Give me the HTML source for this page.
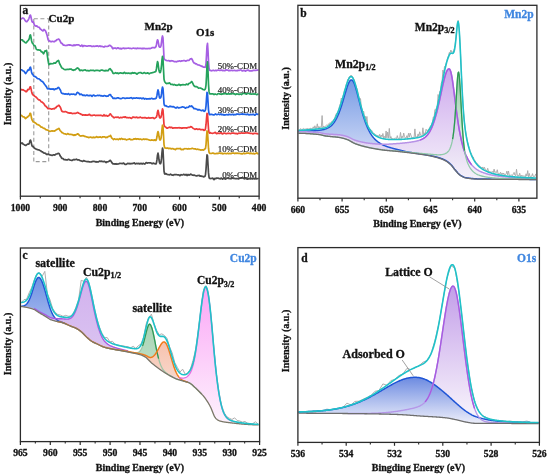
<!DOCTYPE html>
<html><head><meta charset="utf-8"><style>
html,body{margin:0;padding:0;background:#fff;}
svg{display:block;will-change:transform;}
text{font-family:"Liberation Serif", serif; paint-order:stroke; stroke:currentColor; stroke-width:0.3px;}
</style></head><body>
<svg width="550" height="476" viewBox="0 0 550 476">
<rect width="550" height="476" fill="#ffffff"/>
<path d="M33.8,161.6 L33.8,18.8 M48.7,18.8 L48.7,161.6 L33.8,161.6 M33.8,18.8 L48.7,18.8" fill="none" stroke="#9a9a9a" stroke-width="1.1" stroke-dasharray="4,2.6"/>
<path d="M21,18.88 L21.5,18.81 L22,18.37 L22.5,18.01 L23,18.15 L23.5,18.28 L24,18.61 L24.5,19.36 L25,20.19 L25.5,20.89 L26,21.5 L26.5,21.76 L27,21.62 L27.5,20.86 L28,20.17 L28.5,19.49 L29,18.24 L29.5,16.86 L30,15.28 L30.5,15.2 L31,17.05 L31.5,19.58 L32,21.53 L32.5,22.04 L33,21.7 L33.5,22.55 L34,23.93 L34.5,25.05 L35,25.61 L35.5,26.05 L36,26.25 L36.5,25.9 L37,26.12 L37.5,26.77 L38,27 L38.5,27.18 L39,27.25 L39.5,27.69 L40,28.64 L40.5,29.27 L41,29.38 L41.5,29.8 L42,30.29 L42.5,30.64 L43,30.91 L43.5,30.29 L44,29.46 L44.5,29.82 L45,30.43 L45.5,30.94 L46,32.14 L46.5,33.43 L47,35.08 L47.5,37.01 L48,39.29 L48.5,40.37 L49,40.87 L49.5,41.1 L50,41.16 L50.5,41.57 L51,41.78 L51.5,41.7 L52,41.37 L52.5,41.33 L53,41.53 L53.5,41.59 L54,41.72 L54.5,41.62 L55,40.98 L55.5,40.85 L56,40.72 L56.5,39.98 L57,39.57 L57.5,39.55 L58,39.41 L58.5,39.07 L59,39.29 L59.5,39.83 L60,40.8 L60.5,41.85 L61,42.85 L61.5,43.44 L62,43.32 L62.5,43.82 L63,44.72 L63.5,45.12 L64,45.13 L64.5,45.18 L65,45.38 L65.5,45.5 L66,45.53 L66.5,45.39 L67,45.2 L67.5,45.29 L68,45.19 L68.5,44.79 L69,44.93 L69.5,45.06 L70,44.94 L70.5,45.08 L71,45.25 L71.5,45.39 L72,45.43 L72.5,45.58 L73,45.72 L73.5,45.43 L74,44.93 L74.5,45.03 L75,45.54 L75.5,45.26 L76,44.85 L76.5,44.8 L77,44.81 L77.5,44.78 L78,44.73 L78.5,44.83 L79,45.09 L79.5,45.4 L80,45.68 L80.5,46.05 L81,46.11 L81.5,45.36 L82,45.15 L82.5,46.06 L83,46.51 L83.5,45.85 L84,45.6 L84.5,45.87 L85,45.8 L85.5,45.74 L86,45.96 L86.5,46.1 L87,46.08 L87.5,46.1 L88,46.01 L88.5,45.87 L89,45.86 L89.5,45.9 L90,45.94 L90.5,45.79 L91,45.99 L91.5,46.45 L92,46.4 L92.5,46.29 L93,46.32 L93.5,46.19 L94,46.21 L94.5,46.39 L95,46.26 L95.5,46.14 L96,46.29 L96.5,46.13 L97,45.87 L97.5,45.92 L98,46.33 L98.5,46.55 L99,46.28 L99.5,45.98 L100,45.85 L100.5,46.22 L101,46.58 L101.5,46.37 L102,46.24 L102.5,46.48 L103,46.7 L103.5,46.92 L104,47.04 L104.5,46.67 L105,46.31 L105.5,46.34 L106,46.45 L106.5,46.49 L107,46.51 L107.5,46.32 L108,46.21 L108.5,46.1 L109,45.66 L109.5,45.24 L110,45.37 L110.5,45.72 L111,46.16 L111.5,46.45 L112,47.22 L112.5,48.4 L113,48.74 L113.5,48.03 L114,47.98 L114.5,48.05 L115,47.97 L115.5,48.12 L116,48.39 L116.5,48.71 L117,48.4 L117.5,47.8 L118,47.82 L118.5,48.1 L119,48.46 L119.5,48.62 L120,48.4 L120.5,48.41 L121,48.97 L121.5,48.99 L122,48.43 L122.5,48.28 L123,48.29 L123.5,48.17 L124,48.34 L124.5,48.62 L125,48.39 L125.5,48.31 L126,48.45 L126.5,48.32 L127,48.24 L127.5,48.27 L128,48.22 L128.5,48.11 L129,48.2 L129.5,48.34 L130,48.39 L130.5,48.43 L131,48.53 L131.5,48.62 L132,48.51 L132.5,48.36 L133,48.27 L133.5,48.15 L134,48.22 L134.5,48.37 L135,48.23 L135.5,48.27 L136,48.6 L136.5,48.66 L137,48.26 L137.5,48.07 L138,48.46 L138.5,48.52 L139,48.36 L139.5,48.52 L140,48.38 L140.5,48.24 L141,48.46 L141.5,48.59 L142,48.43 L142.5,48.45 L143,48.78 L143.5,48.48 L144,48.22 L144.5,48.52 L145,48.63 L145.5,48.59 L146,48.55 L146.5,48.57 L147,48.56 L147.5,48.53 L148,48.62 L148.5,48.46 L149,48.33 L149.5,48.57 L150,48.69 L150.5,48.39 L151,48.23 L151.5,48.13 L152,47.71 L152.5,47.63 L153,47.71 L153.5,47.57 L154,47.63 L154.5,47.8 L155,47.68 L155.5,47.24 L156,46.52 L156.5,44.48 L157,41.44 L157.5,39.82 L158,40.57 L158.5,43.4 L159,46.23 L159.5,47.08 L160,47.03 L160.5,47.06 L161,45.78 L161.5,42.21 L162,37.99 L162.5,35.98 L163,37.93 L163.5,47.66 L164,58.15 L164.5,59.35 L165,59.68 L165.5,59.93 L166,60.22 L166.5,60.56 L167,60.71 L167.5,60.74 L168,60.73 L168.5,60.61 L169,60.6 L169.5,61.03 L170,61.29 L170.5,60.93 L171,60.71 L171.5,60.8 L172,60.8 L172.5,60.87 L173,61.05 L173.5,61.32 L174,61.58 L174.5,61.53 L175,61.57 L175.5,61.67 L176,61.71 L176.5,61.79 L177,61.52 L177.5,61.22 L178,61.29 L178.5,61.2 L179,61.03 L179.5,60.96 L180,61.05 L180.5,61.38 L181,61.27 L181.5,60.87 L182,60.74 L182.5,60.81 L183,60.77 L183.5,60.55 L184,60.52 L184.5,60.62 L185,60.76 L185.5,61.06 L186,61.1 L186.5,60.86 L187,60.55 L187.5,60.36 L188,60.49 L188.5,60.38 L189,60.3 L189.5,59.9 L190,59.13 L190.5,58.86 L191,58.79 L191.5,58.55 L192,59.23 L192.5,60.13 L193,61.3 L193.5,62.27 L194,62.93 L194.5,63 L195,63.33 L195.5,63.81 L196,63.76 L196.5,63.74 L197,64.31 L197.5,64.78 L198,64.89 L198.5,64.99 L199,65.09 L199.5,65.17 L200,65.41 L200.5,65.69 L201,66.09 L201.5,66.3 L202,66.2 L202.5,66.36 L203,66.81 L203.5,67.25 L204,67.23 L204.5,67.09 L205,67.37 L205.5,67.02 L206,63.62 L206.5,55.35 L207,46.07 L207.5,43.31 L208,50.71 L208.5,61.37 L209,67.99 L209.5,70.15 L210,70.37 L210.5,70.46 L211,70.69 L211.5,70.79 L212,70.71 L212.5,70.53 L213,70.27 L213.5,70.23 L214,70.5 L214.5,70.75 L215,70.59 L215.5,70.37 L216,70.57 L216.5,70.66 L217,70.44 L217.5,70.3 L218,70.11 L218.5,69.98 L219,70.26 L219.5,70.37 L220,70.31 L220.5,70.31 L221,70.08 L221.5,70.03 L222,70.46 L222.5,70.64 L223,70.32 L223.5,70.46 L224,70.75 L224.5,70.76 L225,70.62 L225.5,70.01 L226,69.8 L226.5,70.16 L227,70.16 L227.5,70.02 L228,70.2 L228.5,70.62 L229,70.66 L229.5,70.44 L230,70.55 L230.5,70.53 L231,70.39 L231.5,70.37 L232,70.43 L232.5,70.57 L233,70.51 L233.5,70.48 L234,70.53 L234.5,70.41 L235,70.45 L235.5,70.73 L236,70.76 L236.5,70.68 L237,70.79 L237.5,70.64 L238,70.29 L238.5,70.28 L239,70.47 L239.5,70.35 L240,69.99 L240.5,69.91 L241,70.04 L241.5,70.3 L242,70.76 L242.5,70.99 L243,70.83 L243.5,70.54 L244,70.34 L244.5,70.47 L245,70.89 L245.5,71.16 L246,70.86 L246.5,70.45 L247,70.31 L247.5,70.19 L248,70.12 L248.5,70.28 L249,70.66 L249.5,70.89 L250,70.81 L250.5,70.97 L251,71.02 L251.5,70.84 L252,70.9 L252.5,70.73 L253,70.42 L253.5,70.42 L254,70.41 L254.5,70.32 L255,70.34 L255.5,70.47 L256,70.42 L256.5,70.23 L257,70.1 L257.5,70.05 L258,70.35 L258.5,70.59" fill="none" stroke="#a65fe3" stroke-width="1.7" stroke-linejoin="round"/>
<path d="M21,39.74 L21.5,39.82 L22,39.73 L22.5,39.99 L23,40.95 L23.5,41.41 L24,41.45 L24.5,41.97 L25,42.49 L25.5,42.78 L26,42.92 L26.5,42.51 L27,41.74 L27.5,41.09 L28,40.62 L28.5,40.01 L29,39.36 L29.5,37.53 L30,35.29 L30.5,34.93 L31,37.35 L31.5,40.42 L32,42.4 L32.5,43.23 L33,43.65 L33.5,44.58 L34,45.46 L34.5,45.48 L35,45.82 L35.5,46.96 L36,48.28 L36.5,49.31 L37,49.7 L37.5,49.83 L38,49.82 L38.5,49.88 L39,50.06 L39.5,50.17 L40,50.05 L40.5,50.29 L41,51.25 L41.5,51.92 L42,51.95 L42.5,52.13 L43,52.93 L43.5,53.74 L44,52.96 L44.5,51.93 L45,50.84 L45.5,51.06 L46,50.99 L46.5,50.44 L47,52.79 L47.5,56.73 L48,60.11 L48.5,62.92 L49,64.64 L49.5,64.19 L50,63.71 L50.5,63.67 L51,63.83 L51.5,63.77 L52,63.65 L52.5,63.74 L53,63.7 L53.5,63.28 L54,62.81 L54.5,62.96 L55,63.23 L55.5,63.1 L56,62.66 L56.5,61.89 L57,61.36 L57.5,61.19 L58,60.74 L58.5,60.39 L59,61.78 L59.5,63.42 L60,64.52 L60.5,65.39 L61,66.28 L61.5,67.4 L62,68.02 L62.5,68.28 L63,68.47 L63.5,68.84 L64,69.18 L64.5,69.49 L65,69.62 L65.5,69.54 L66,69.61 L66.5,69.48 L67,69.31 L67.5,69.25 L68,69.32 L68.5,69.41 L69,69.3 L69.5,69.19 L70,69.15 L70.5,69.03 L71,69 L71.5,69.33 L72,69.73 L72.5,69.91 L73,70.15 L73.5,70.31 L74,69.91 L74.5,69.75 L75,69.88 L75.5,69.41 L76,69.02 L76.5,68.67 L77,68.18 L77.5,67.84 L78,68.17 L78.5,68.68 L79,69.2 L79.5,70.17 L80,70.71 L80.5,70.32 L81,70.13 L81.5,70.21 L82,70.38 L82.5,70.61 L83,70.57 L83.5,70.23 L84,70.09 L84.5,70.02 L85,69.92 L85.5,70.08 L86,70.41 L86.5,70.76 L87,70.76 L87.5,70.48 L88,70.44 L88.5,70.69 L89,70.94 L89.5,70.8 L90,70.5 L90.5,70.23 L91,70.21 L91.5,70.41 L92,70.48 L92.5,70.36 L93,70.25 L93.5,70.38 L94,70.6 L94.5,70.81 L95,70.81 L95.5,70.59 L96,70.38 L96.5,70.36 L97,70.31 L97.5,70.31 L98,70.45 L98.5,70.5 L99,70.67 L99.5,70.85 L100,70.8 L100.5,70.45 L101,70.11 L101.5,70.17 L102,70.15 L102.5,70.11 L103,70.47 L103.5,70.58 L104,70.6 L104.5,70.87 L105,70.9 L105.5,70.6 L106,70.4 L106.5,70.59 L107,70.61 L107.5,70.55 L108,70.81 L108.5,70.18 L109,69.32 L109.5,68.92 L110,68.7 L110.5,69.16 L111,69.97 L111.5,70.31 L112,71.09 L112.5,72.15 L113,73.24 L113.5,73.54 L114,73.44 L114.5,73.19 L115,72.96 L115.5,72.7 L116,73.03 L116.5,73.33 L117,73.07 L117.5,72.97 L118,73.4 L118.5,73.69 L119,73.26 L119.5,73.03 L120,73.09 L120.5,72.87 L121,72.92 L121.5,73.13 L122,73.15 L122.5,73.17 L123,73.36 L123.5,73.12 L124,72.46 L124.5,72.35 L125,72.94 L125.5,73.4 L126,73.3 L126.5,73.1 L127,73.14 L127.5,73.3 L128,73.32 L128.5,73.09 L129,73.04 L129.5,73.44 L130,73.43 L130.5,73.23 L131,73.6 L131.5,73.51 L132,72.83 L132.5,72.65 L133,73.1 L133.5,73.25 L134,72.8 L134.5,72.72 L135,73.08 L135.5,73.03 L136,73.26 L136.5,74.02 L137,74.11 L137.5,73.55 L138,73.19 L138.5,72.92 L139,72.62 L139.5,72.75 L140,72.76 L140.5,72.5 L141,72.64 L141.5,73.09 L142,73.27 L142.5,73.33 L143,73.31 L143.5,72.94 L144,72.58 L144.5,72.59 L145,73.04 L145.5,73.39 L146,73.42 L146.5,73.29 L147,73.04 L147.5,72.96 L148,72.93 L148.5,73.18 L149,73.79 L149.5,73.74 L150,73.22 L150.5,73.02 L151,72.93 L151.5,72.82 L152,72.81 L152.5,72.63 L153,72.48 L153.5,72.41 L154,72.27 L154.5,72 L155,71.79 L155.5,71.75 L156,70.99 L156.5,68.43 L157,64.32 L157.5,61.59 L158,62.89 L158.5,67.03 L159,70.55 L159.5,72.12 L160,72.66 L160.5,71.96 L161,69.65 L161.5,65.52 L162,59.71 L162.5,56.34 L163,59.17 L163.5,69.19 L164,79.07 L164.5,81.22 L165,82.21 L165.5,82.77 L166,83.31 L166.5,83.6 L167,83.44 L167.5,83.42 L168,83.47 L168.5,83.32 L169,83 L169.5,82.88 L170,83.37 L170.5,84.1 L171,84.48 L171.5,84.44 L172,84.23 L172.5,84.28 L173,84.79 L173.5,84.91 L174,84.59 L174.5,84.46 L175,84.7 L175.5,85.17 L176,85.26 L176.5,85.17 L177,85.34 L177.5,85.28 L178,84.93 L178.5,84.58 L179,84.38 L179.5,84.5 L180,85.18 L180.5,85.38 L181,84.82 L181.5,84.79 L182,84.88 L182.5,84.68 L183,84.61 L183.5,84.69 L184,84.84 L184.5,84.74 L185,84.73 L185.5,84.79 L186,84.38 L186.5,84.03 L187,84.3 L187.5,84.65 L188,84.6 L188.5,83.98 L189,83.42 L189.5,83.21 L190,82.99 L190.5,82.7 L191,82.38 L191.5,81.56 L192,81.81 L192.5,82.71 L193,83.98 L193.5,84.96 L194,85.8 L194.5,86.16 L195,86.55 L195.5,86.62 L196,86.46 L196.5,86.74 L197,86.95 L197.5,87.02 L198,87.59 L198.5,88.05 L199,88.03 L199.5,87.99 L200,88.01 L200.5,88.08 L201,88.33 L201.5,88.61 L202,88.85 L202.5,89.1 L203,89.55 L203.5,89.77 L204,89.76 L204.5,89.84 L205,89.43 L205.5,88.38 L206,85.08 L206.5,76.59 L207,65.64 L207.5,61.89 L208,71.19 L208.5,84.14 L209,91.39 L209.5,93.63 L210,93.93 L210.5,93.79 L211,93.77 L211.5,93.95 L212,94 L212.5,93.74 L213,93.74 L213.5,94.26 L214,94.57 L214.5,94.36 L215,94.08 L215.5,94.09 L216,94.3 L216.5,94.49 L217,94.54 L217.5,94.18 L218,93.73 L218.5,93.62 L219,93.53 L219.5,93.72 L220,94.26 L220.5,94.2 L221,94.01 L221.5,94.32 L222,94.16 L222.5,93.84 L223,93.97 L223.5,93.93 L224,93.56 L224.5,93.42 L225,93.8 L225.5,93.76 L226,93.46 L226.5,93.89 L227,94.17 L227.5,93.97 L228,93.93 L228.5,93.84 L229,93.71 L229.5,93.97 L230,94.11 L230.5,93.84 L231,93.9 L231.5,93.99 L232,93.79 L232.5,93.63 L233,93.49 L233.5,93.61 L234,93.94 L234.5,93.97 L235,94.2 L235.5,94.58 L236,94.26 L236.5,93.93 L237,93.91 L237.5,94.03 L238,94.22 L238.5,94.21 L239,94.42 L239.5,94.32 L240,94.01 L240.5,94.05 L241,94.31 L241.5,94.55 L242,94.13 L242.5,93.48 L243,93.24 L243.5,93.37 L244,93.57 L244.5,93.52 L245,93.48 L245.5,93.65 L246,94.04 L246.5,94.12 L247,93.69 L247.5,93.53 L248,93.5 L248.5,93.34 L249,93.38 L249.5,93.7 L250,94.04 L250.5,93.97 L251,93.92 L251.5,94.12 L252,94.12 L252.5,94.03 L253,93.96 L253.5,93.92 L254,94.11 L254.5,94.14 L255,93.8 L255.5,93.83 L256,94.24 L256.5,94.59 L257,94.69 L257.5,94.32 L258,94.08 L258.5,94" fill="none" stroke="#25a25c" stroke-width="1.7" stroke-linejoin="round"/>
<path d="M21,70.05 L21.5,69.82 L22,70.17 L22.5,70.61 L23,70.86 L23.5,71.06 L24,71.3 L24.5,72.01 L25,72.82 L25.5,73.53 L26,73.18 L26.5,72.33 L27,71.62 L27.5,70.75 L28,69.99 L28.5,70.28 L29,70.12 L29.5,68.96 L30,67.44 L30.5,67.14 L31,69.15 L31.5,72 L32,73.58 L32.5,74.16 L33,74.78 L33.5,75.67 L34,76.29 L34.5,76.27 L35,76.51 L35.5,76.94 L36,77.05 L36.5,77.46 L37,78.14 L37.5,78.5 L38,78.77 L38.5,78.77 L39,78.8 L39.5,79.43 L40,79.68 L40.5,79.87 L41,80.7 L41.5,81.28 L42,81.34 L42.5,81.55 L43,82.12 L43.5,82.79 L44,83.44 L44.5,84.18 L45,84.88 L45.5,85.67 L46,86.16 L46.5,86.8 L47,87.89 L47.5,88.77 L48,88.85 L48.5,88.79 L49,88.68 L49.5,88.57 L50,89.06 L50.5,89.19 L51,88.89 L51.5,88.98 L52,89.2 L52.5,89.2 L53,88.91 L53.5,89.09 L54,89.75 L54.5,89.7 L55,88.96 L55.5,88.84 L56,88.91 L56.5,88.82 L57,88.64 L57.5,88.09 L58,87.63 L58.5,87.45 L59,87.9 L59.5,88.77 L60,89.3 L60.5,90.31 L61,91.84 L61.5,92.99 L62,93.28 L62.5,93.63 L63,93.71 L63.5,93.7 L64,93.82 L64.5,94.07 L65,94.26 L65.5,93.93 L66,93.83 L66.5,94.07 L67,94.29 L67.5,94.22 L68,93.74 L68.5,93.61 L69,94.13 L69.5,94.6 L70,94.57 L70.5,94.31 L71,94.18 L71.5,94.2 L72,94.28 L72.5,94.27 L73,94.12 L73.5,94.12 L74,94.26 L74.5,94.35 L75,94.64 L75.5,94.77 L76,94.51 L76.5,93.65 L77,92.69 L77.5,92.36 L78,92.64 L78.5,92.98 L79,93.28 L79.5,94.21 L80,94.75 L80.5,94.24 L81,94.1 L81.5,94.35 L82,94.71 L82.5,95.2 L83,95.4 L83.5,95.19 L84,95.13 L84.5,95.35 L85,95.6 L85.5,95.68 L86,95.46 L86.5,95.09 L87,94.99 L87.5,95.29 L88,95.74 L88.5,95.75 L89,95.44 L89.5,95.45 L90,95.58 L90.5,95.37 L91,95.35 L91.5,95.93 L92,96.27 L92.5,95.8 L93,95.32 L93.5,95.11 L94,95.23 L94.5,95.72 L95,95.94 L95.5,95.81 L96,95.77 L96.5,95.76 L97,95.54 L97.5,95.26 L98,95.4 L98.5,95.57 L99,95.46 L99.5,95.39 L100,95.41 L100.5,95.64 L101,95.84 L101.5,95.71 L102,95.75 L102.5,96 L103,96.22 L103.5,95.99 L104,95.55 L104.5,95.65 L105,95.77 L105.5,95.85 L106,96.14 L106.5,96.29 L107,96.2 L107.5,96.16 L108,96.19 L108.5,95.55 L109,95.11 L109.5,94.83 L110,94.59 L110.5,94.6 L111,95.64 L111.5,96.35 L112,96.74 L112.5,97.28 L113,98.29 L113.5,98.33 L114,98.2 L114.5,98.22 L115,98.45 L115.5,98.53 L116,98.38 L116.5,98.31 L117,98.06 L117.5,97.81 L118,97.77 L118.5,97.85 L119,98.24 L119.5,98.52 L120,98.47 L120.5,98.61 L121,98.75 L121.5,98.53 L122,98.28 L122.5,97.99 L123,97.9 L123.5,98.01 L124,97.98 L124.5,98.18 L125,98.46 L125.5,98.52 L126,98.27 L126.5,98.08 L127,98.17 L127.5,98.14 L128,98.15 L128.5,98.23 L129,98.21 L129.5,98.09 L130,98.01 L130.5,97.85 L131,97.69 L131.5,97.81 L132,98.09 L132.5,98.56 L133,98.49 L133.5,97.97 L134,98.05 L134.5,98.14 L135,98.07 L135.5,98.23 L136,98.02 L136.5,97.75 L137,97.98 L137.5,98.23 L138,98.15 L138.5,98.08 L139,98.39 L139.5,98.42 L140,98.02 L140.5,98 L141,98.17 L141.5,98.43 L142,98.77 L142.5,98.54 L143,98.09 L143.5,98.11 L144,98.63 L144.5,99.02 L145,98.76 L145.5,98.59 L146,98.68 L146.5,98.9 L147,99.08 L147.5,98.85 L148,98.76 L148.5,98.85 L149,98.69 L149.5,98.68 L150,98.98 L150.5,98.86 L151,98.52 L151.5,98.29 L152,98.35 L152.5,98.72 L153,98.93 L153.5,98.95 L154,98.95 L154.5,98.76 L155,98.6 L155.5,98.64 L156,98.37 L156.5,97.34 L157,95.15 L157.5,91.89 L158,89.9 L158.5,91.46 L159,95.14 L159.5,97.66 L160,98.15 L160.5,97.81 L161,96.83 L161.5,93.91 L162,89.44 L162.5,87.02 L163,88.47 L163.5,95.59 L164,103.71 L164.5,105.47 L165,105.79 L165.5,105.81 L166,105.67 L166.5,106.07 L167,106.52 L167.5,106.56 L168,106.73 L168.5,106.8 L169,106.78 L169.5,106.47 L170,106.06 L170.5,106.36 L171,106.66 L171.5,106.47 L172,106.54 L172.5,106.89 L173,106.79 L173.5,106.6 L174,106.99 L174.5,107.41 L175,107.52 L175.5,107.85 L176,108.06 L176.5,107.69 L177,107.26 L177.5,107.21 L178,107.6 L178.5,107.9 L179,107.87 L179.5,107.72 L180,107.59 L180.5,107.53 L181,107.43 L181.5,107.23 L182,106.96 L182.5,106.89 L183,107.03 L183.5,107.01 L184,107.15 L184.5,107.46 L185,107.83 L185.5,108.22 L186,107.89 L186.5,107.41 L187,107.5 L187.5,107.42 L188,107.31 L188.5,107.21 L189,106.49 L189.5,105.98 L190,106.3 L190.5,106.5 L191,106.4 L191.5,105.88 L192,106.28 L192.5,107.03 L193,107.33 L193.5,107.94 L194,108.7 L194.5,108.64 L195,108.6 L195.5,108.85 L196,109 L196.5,109 L197,109.29 L197.5,109.82 L198,110.07 L198.5,109.69 L199,109.56 L199.5,109.91 L200,110.06 L200.5,110.21 L201,110.53 L201.5,110.69 L202,110.58 L202.5,110.33 L203,110.13 L203.5,110.69 L204,111.37 L204.5,111.23 L205,110.79 L205.5,109.7 L206,106.07 L206.5,98.71 L207,92.25 L207.5,93.39 L208,101.9 L208.5,109.85 L209,113.43 L209.5,114.62 L210,114.69 L210.5,114.36 L211,114.23 L211.5,114.38 L212,114.55 L212.5,114.57 L213,114.71 L213.5,114.85 L214,114.91 L214.5,114.76 L215,114.25 L215.5,113.95 L216,114.33 L216.5,114.65 L217,114.61 L217.5,114.5 L218,114.3 L218.5,114.13 L219,114.29 L219.5,114.64 L220,114.55 L220.5,114.13 L221,113.99 L221.5,114.38 L222,114.8 L222.5,114.61 L223,114.46 L223.5,114.85 L224,115.06 L224.5,114.92 L225,114.86 L225.5,114.86 L226,114.78 L226.5,114.56 L227,114.49 L227.5,114.71 L228,114.9 L228.5,114.68 L229,114.23 L229.5,114.44 L230,114.69 L230.5,114.49 L231,114.56 L231.5,114.72 L232,114.57 L232.5,114.32 L233,114.42 L233.5,114.8 L234,114.86 L234.5,114.59 L235,114.46 L235.5,114.59 L236,114.55 L236.5,114.1 L237,113.95 L237.5,114.13 L238,114.07 L238.5,114.13 L239,114.41 L239.5,114.4 L240,114.29 L240.5,114.24 L241,114.12 L241.5,114.12 L242,113.91 L242.5,113.96 L243,114.35 L243.5,114.28 L244,114.09 L244.5,114.25 L245,114.45 L245.5,114.44 L246,114.52 L246.5,114.57 L247,114.29 L247.5,114.13 L248,114.36 L248.5,114.75 L249,114.95 L249.5,114.84 L250,114.53 L250.5,114.46 L251,114.54 L251.5,114.51 L252,114.65 L252.5,114.6 L253,114.31 L253.5,114.28 L254,114.58 L254.5,115.14 L255,115.25 L255.5,114.7 L256,114.11 L256.5,113.86 L257,114.17 L257.5,114.29 L258,114.23 L258.5,114.46" fill="none" stroke="#1f62e6" stroke-width="1.7" stroke-linejoin="round"/>
<path d="M21,89.03 L21.5,89.48 L22,90.05 L22.5,89.92 L23,89.62 L23.5,89.9 L24,90.36 L24.5,90.71 L25,90.85 L25.5,91.3 L26,91.74 L26.5,91.67 L27,91.01 L27.5,89.99 L28,89.36 L28.5,89.7 L29,89.32 L29.5,88.4 L30,87.09 L30.5,86.78 L31,88.61 L31.5,91.19 L32,93.11 L32.5,94.3 L33,94.88 L33.5,95.07 L34,95.54 L34.5,96.14 L35,96.47 L35.5,96.56 L36,97.09 L36.5,97.63 L37,97.97 L37.5,98.66 L38,99.25 L38.5,99.74 L39,99.97 L39.5,99.89 L40,100.15 L40.5,100.88 L41,101.64 L41.5,102.03 L42,102.1 L42.5,102.35 L43,102.78 L43.5,103.29 L44,103.85 L44.5,104.8 L45,105.65 L45.5,105.92 L46,106.35 L46.5,107 L47,107.42 L47.5,108.05 L48,108.57 L48.5,108.57 L49,108.5 L49.5,108.71 L50,108.7 L50.5,108.73 L51,108.96 L51.5,109.07 L52,109.06 L52.5,108.88 L53,108.79 L53.5,108.7 L54,108.72 L54.5,108.88 L55,108.18 L55.5,107.7 L56,107.68 L56.5,106.89 L57,106.27 L57.5,106.25 L58,105.88 L58.5,105.35 L59,105.3 L59.5,106.05 L60,106.75 L60.5,107.65 L61,108.99 L61.5,110.46 L62,111.31 L62.5,111.7 L63,111.61 L63.5,111.8 L64,111.97 L64.5,111.78 L65,111.57 L65.5,111.56 L66,111.76 L66.5,111.96 L67,112.18 L67.5,112.47 L68,112.8 L68.5,112.84 L69,112.89 L69.5,113.13 L70,113.09 L70.5,112.94 L71,112.92 L71.5,113.12 L72,113.45 L72.5,113.54 L73,113.52 L73.5,113.47 L74,113.39 L74.5,113.32 L75,113.38 L75.5,113.46 L76,113.29 L76.5,112.99 L77,112.81 L77.5,112.47 L78,112.54 L78.5,113.12 L79,113.29 L79.5,113.45 L80,113.78 L80.5,113.9 L81,114.3 L81.5,114.35 L82,114.51 L82.5,115.14 L83,115.19 L83.5,114.8 L84,114.79 L84.5,115.1 L85,115.14 L85.5,114.85 L86,114.89 L86.5,115.14 L87,115.15 L87.5,115.2 L88,115.06 L88.5,114.71 L89,114.39 L89.5,114.34 L90,114.97 L90.5,115.37 L91,115.27 L91.5,115.53 L92,115.64 L92.5,115.37 L93,115.27 L93.5,115.19 L94,115.05 L94.5,115.12 L95,115.34 L95.5,115.57 L96,115.51 L96.5,115.36 L97,115.37 L97.5,115.25 L98,115.28 L98.5,115.46 L99,115.42 L99.5,115.41 L100,115.4 L100.5,115.25 L101,115.19 L101.5,115.44 L102,115.67 L102.5,115.81 L103,115.98 L103.5,115.42 L104,114.74 L104.5,115.25 L105,115.9 L105.5,115.7 L106,115.34 L106.5,115.46 L107,115.92 L107.5,116.09 L108,115.95 L108.5,115.61 L109,115.4 L109.5,114.75 L110,114.05 L110.5,113.86 L111,114.64 L111.5,115.33 L112,116.14 L112.5,116.42 L113,116.86 L113.5,117.55 L114,117.84 L114.5,117.46 L115,117.33 L115.5,117.26 L116,117.16 L116.5,117.3 L117,117.35 L117.5,117.18 L118,117.06 L118.5,117.27 L119,117.78 L119.5,117.96 L120,117.71 L120.5,117.37 L121,117.29 L121.5,117.7 L122,117.72 L122.5,117.38 L123,117.26 L123.5,117 L124,117.13 L124.5,117.33 L125,116.96 L125.5,116.92 L126,117.41 L126.5,117.63 L127,117.61 L127.5,117.63 L128,117.65 L128.5,117.81 L129,117.74 L129.5,117.61 L130,117.69 L130.5,117.85 L131,118.24 L131.5,118.32 L132,117.86 L132.5,117.35 L133,117.07 L133.5,117.14 L134,117.37 L134.5,117.45 L135,117.46 L135.5,117.54 L136,117.44 L136.5,117.08 L137,117.2 L137.5,117.75 L138,117.78 L138.5,117.63 L139,117.67 L139.5,117.46 L140,117.12 L140.5,117.12 L141,117.49 L141.5,117.75 L142,117.88 L142.5,117.85 L143,117.66 L143.5,117.74 L144,117.84 L144.5,117.64 L145,117.51 L145.5,117.66 L146,117.89 L146.5,118.14 L147,118.16 L147.5,117.96 L148,117.82 L148.5,117.67 L149,117.69 L149.5,117.94 L150,118.14 L150.5,117.97 L151,117.74 L151.5,117.87 L152,117.9 L152.5,117.75 L153,117.63 L153.5,117.97 L154,118.53 L154.5,118.48 L155,118.14 L155.5,117.71 L156,117.4 L156.5,116.83 L157,114.94 L157.5,111.93 L158,110.25 L158.5,112.11 L159,115.3 L159.5,117.2 L160,117.93 L160.5,117.81 L161,116.97 L161.5,114.92 L162,111.5 L162.5,108.94 L163,110.02 L163.5,117.14 L164,124.82 L164.5,126.25 L165,126.71 L165.5,126.95 L166,127.37 L166.5,127.83 L167,128.19 L167.5,128.16 L168,127.84 L168.5,127.49 L169,127.37 L169.5,127.21 L170,127.19 L170.5,127.62 L171,127.53 L171.5,127.25 L172,127.56 L172.5,128.06 L173,128.16 L173.5,127.94 L174,127.92 L174.5,127.82 L175,127.71 L175.5,127.91 L176,127.87 L176.5,127.83 L177,128 L177.5,127.87 L178,127.82 L178.5,127.74 L179,127.64 L179.5,127.86 L180,127.96 L180.5,127.77 L181,127.99 L181.5,128.27 L182,127.99 L182.5,127.95 L183,128.04 L183.5,127.93 L184,127.88 L184.5,127.89 L185,127.99 L185.5,127.86 L186,127.81 L186.5,128.07 L187,127.95 L187.5,127.62 L188,127.48 L188.5,127.39 L189,127.4 L189.5,127.46 L190,127.25 L190.5,126.71 L191,126.68 L191.5,126.89 L192,127.25 L192.5,127.73 L193,128.3 L193.5,128.55 L194,128.76 L194.5,128.95 L195,129.32 L195.5,129.22 L196,128.91 L196.5,128.87 L197,128.96 L197.5,129.32 L198,129.47 L198.5,129.25 L199,128.98 L199.5,128.99 L200,129.42 L200.5,129.57 L201,129.61 L201.5,129.74 L202,129.61 L202.5,129.51 L203,129.48 L203.5,129.85 L204,130.45 L204.5,130.3 L205,129.95 L205.5,128.68 L206,124.73 L206.5,118.59 L207,113.35 L207.5,114.06 L208,121.59 L208.5,128.78 L209,132.27 L209.5,133.17 L210,132.74 L210.5,132.72 L211,133.15 L211.5,133.26 L212,133.24 L212.5,133.39 L213,133.28 L213.5,133.02 L214,132.98 L214.5,132.74 L215,132.35 L215.5,132.59 L216,133.26 L216.5,133.66 L217,133.61 L217.5,133.15 L218,133.09 L218.5,133.34 L219,133.38 L219.5,133.44 L220,133.34 L220.5,132.89 L221,132.54 L221.5,133 L222,133.73 L222.5,133.9 L223,133.69 L223.5,133.33 L224,133.1 L224.5,133.13 L225,133.33 L225.5,133.45 L226,133.67 L226.5,133.73 L227,133.44 L227.5,133.24 L228,133.22 L228.5,133.38 L229,133.36 L229.5,133.28 L230,133.57 L230.5,133.76 L231,133.47 L231.5,133.06 L232,133.02 L232.5,133.15 L233,133.1 L233.5,133.1 L234,133.35 L234.5,133.41 L235,133.33 L235.5,133.64 L236,133.68 L236.5,133.36 L237,133.76 L237.5,133.97 L238,133.54 L238.5,133.25 L239,133.12 L239.5,133.21 L240,133.34 L240.5,133.26 L241,133.05 L241.5,132.96 L242,133.03 L242.5,133.03 L243,133.07 L243.5,133.07 L244,133.01 L244.5,133.22 L245,133.14 L245.5,132.84 L246,132.99 L246.5,133.02 L247,132.78 L247.5,132.74 L248,132.85 L248.5,133.07 L249,133.15 L249.5,133.18 L250,133.32 L250.5,133.33 L251,133.52 L251.5,133.52 L252,133.29 L252.5,133.71 L253,133.95 L253.5,133.57 L254,133.42 L254.5,133.4 L255,133.33 L255.5,133.26 L256,133.3 L256.5,133.59 L257,133.68 L257.5,133.67 L258,133.89 L258.5,133.84" fill="none" stroke="#ee3b3b" stroke-width="1.7" stroke-linejoin="round"/>
<path d="M21,115.35 L21.5,115.43 L22,115.9 L22.5,116.47 L23,116.8 L23.5,116.79 L24,116.78 L24.5,117.28 L25,118.06 L25.5,118.58 L26,118.28 L26.5,117.59 L27,117.33 L27.5,117.25 L28,116.42 L28.5,116.09 L29,115.85 L29.5,114.73 L30,113.3 L30.5,113.27 L31,115.31 L31.5,118.06 L32,119.78 L32.5,120.67 L33,121.54 L33.5,122.02 L34,122.12 L34.5,122.39 L35,122.8 L35.5,123.09 L36,123.39 L36.5,123.89 L37,124.32 L37.5,124.47 L38,124.65 L38.5,124.94 L39,125.13 L39.5,125.48 L40,125.99 L40.5,126.45 L41,127.1 L41.5,127.25 L42,127.1 L42.5,127.47 L43,127.86 L43.5,128.23 L44,128.38 L44.5,128.35 L45,128.78 L45.5,129.4 L46,129.69 L46.5,129.8 L47,130.04 L47.5,130.17 L48,130.2 L48.5,130.49 L49,130.92 L49.5,131.26 L50,131.43 L50.5,131.27 L51,131.14 L51.5,131.02 L52,130.76 L52.5,130.92 L53,131.16 L53.5,131.01 L54,130.95 L54.5,131.09 L55,130.83 L55.5,130.35 L56,129.99 L56.5,129.76 L57,129.38 L57.5,129.16 L58,129.03 L58.5,128.54 L59,128.45 L59.5,129.41 L60,130.48 L60.5,131.04 L61,131.38 L61.5,132.15 L62,132.62 L62.5,132.71 L63,133 L63.5,133.51 L64,133.65 L64.5,133.73 L65,133.91 L65.5,133.94 L66,134.21 L66.5,134.42 L67,134.09 L67.5,133.65 L68,133.66 L68.5,134.03 L69,134.32 L69.5,134.42 L70,134.36 L70.5,134.29 L71,134.3 L71.5,134.45 L72,134.63 L72.5,134.69 L73,135.02 L73.5,135.4 L74,135.06 L74.5,134.83 L75,135.28 L75.5,135.01 L76,134.56 L76.5,134.58 L77,134.33 L77.5,133.88 L78,133.79 L78.5,134.19 L79,134.89 L79.5,135.47 L80,135.7 L80.5,135.98 L81,136.13 L81.5,135.8 L82,135.79 L82.5,135.82 L83,135.65 L83.5,135.77 L84,136.16 L84.5,136.36 L85,136.33 L85.5,136.52 L86,136.78 L86.5,136.91 L87,137.03 L87.5,137.08 L88,137.29 L88.5,137.56 L89,137.44 L89.5,137.32 L90,137.28 L90.5,137.02 L91,137.1 L91.5,137.43 L92,137.65 L92.5,137.67 L93,137.21 L93.5,137.08 L94,137.64 L94.5,137.58 L95,137.24 L95.5,137.42 L96,137.15 L96.5,136.7 L97,136.8 L97.5,137.22 L98,137.44 L98.5,137.17 L99,137 L99.5,137.05 L100,136.96 L100.5,136.95 L101,137.28 L101.5,137.57 L102,137.37 L102.5,136.9 L103,136.81 L103.5,137 L104,136.96 L104.5,136.74 L105,136.95 L105.5,137.59 L106,137.55 L106.5,137.18 L107,137.47 L107.5,137.35 L108,136.7 L108.5,136.38 L109,136.44 L109.5,136.28 L110,135.86 L110.5,135.42 L111,136.41 L111.5,137.67 L112,138.37 L112.5,138.4 L113,139.14 L113.5,139.54 L114,139.12 L114.5,138.84 L115,139.11 L115.5,139.36 L116,139.48 L116.5,139.23 L117,139.01 L117.5,139.17 L118,139.48 L118.5,139.62 L119,139.19 L119.5,138.66 L120,138.88 L120.5,139.29 L121,138.91 L121.5,138.47 L122,138.73 L122.5,139.21 L123,139.31 L123.5,139.12 L124,139.28 L124.5,139.34 L125,139.05 L125.5,139.23 L126,139.78 L126.5,139.91 L127,139.62 L127.5,139.49 L128,139.46 L128.5,139.25 L129,139.01 L129.5,138.93 L130,139.05 L130.5,139.49 L131,139.83 L131.5,139.63 L132,139.63 L132.5,139.64 L133,139.44 L133.5,139.17 L134,138.79 L134.5,139.04 L135,139.11 L135.5,138.55 L136,138.73 L136.5,139.27 L137,139.12 L137.5,138.84 L138,138.89 L138.5,139.1 L139,139.37 L139.5,139.37 L140,139.1 L140.5,139.02 L141,139.32 L141.5,139.64 L142,139.63 L142.5,139.51 L143,139.23 L143.5,138.94 L144,139.14 L144.5,139.51 L145,139.44 L145.5,139.06 L146,139 L146.5,139.31 L147,139.44 L147.5,139.4 L148,139.51 L148.5,139.69 L149,139.88 L149.5,140.07 L150,140.22 L150.5,140.31 L151,140.15 L151.5,139.89 L152,139.95 L152.5,140.08 L153,140.11 L153.5,140.36 L154,140.44 L154.5,139.96 L155,139.9 L155.5,140.36 L156,140.31 L156.5,139.11 L157,136.52 L157.5,133.3 L158,131.5 L158.5,133 L159,136.53 L159.5,139.16 L160,140.08 L160.5,139.74 L161,138.26 L161.5,134.69 L162,129.01 L162.5,125.22 L163,126.65 L163.5,135.07 L164,144.55 L164.5,147.17 L165,147.91 L165.5,148.06 L166,148.13 L166.5,148.3 L167,148.16 L167.5,147.95 L168,148.1 L168.5,148.48 L169,148.62 L169.5,148.28 L170,148.25 L170.5,148.55 L171,148.66 L171.5,148.84 L172,148.77 L172.5,148.5 L173,148.61 L173.5,148.98 L174,149.13 L174.5,149.09 L175,149.42 L175.5,149.6 L176,149.09 L176.5,148.62 L177,148.52 L177.5,148.54 L178,148.67 L178.5,148.66 L179,148.73 L179.5,148.72 L180,148.32 L180.5,148.66 L181,149.53 L181.5,149.64 L182,149.37 L182.5,149.45 L183,149.61 L183.5,149.41 L184,148.97 L184.5,148.72 L185,148.76 L185.5,148.74 L186,148.66 L186.5,148.74 L187,148.87 L187.5,149.03 L188,149.01 L188.5,148.61 L189,148.74 L189.5,149.02 L190,148.82 L190.5,148.73 L191,148.74 L191.5,148.56 L192,148.44 L192.5,148.23 L193,148.49 L193.5,148.72 L194,148.81 L194.5,148.87 L195,148.8 L195.5,148.88 L196,149.3 L196.5,149.43 L197,149.25 L197.5,149.19 L198,149.32 L198.5,149.45 L199,149.55 L199.5,149.63 L200,149.72 L200.5,149.93 L201,150.09 L201.5,149.98 L202,149.75 L202.5,149.81 L203,150.04 L203.5,150.07 L204,149.76 L204.5,149.15 L205,148.97 L205.5,148.45 L206,144.87 L206.5,137.53 L207,130.96 L207.5,131.62 L208,139.97 L208.5,148.23 L209,152.12 L209.5,153.14 L210,153.36 L210.5,153.45 L211,153.5 L211.5,153.5 L212,153.24 L212.5,153.03 L213,152.99 L213.5,153.31 L214,153.62 L214.5,153.57 L215,153.65 L215.5,153.75 L216,153.69 L216.5,153.47 L217,153.19 L217.5,153.47 L218,153.66 L218.5,153.32 L219,153.12 L219.5,153.16 L220,153.16 L220.5,153.27 L221,153.52 L221.5,153.21 L222,153.09 L222.5,153.68 L223,153.83 L223.5,153.62 L224,153.45 L224.5,153.25 L225,153.29 L225.5,153.57 L226,153.74 L226.5,153.67 L227,153.41 L227.5,153.19 L228,153.33 L228.5,153.73 L229,153.76 L229.5,153.33 L230,153.29 L230.5,153.64 L231,153.72 L231.5,153.4 L232,153.01 L232.5,152.98 L233,153.15 L233.5,153.08 L234,153.06 L234.5,153.44 L235,153.59 L235.5,153.3 L236,153.06 L236.5,153.31 L237,153.43 L237.5,153.11 L238,153.27 L238.5,153.43 L239,153.32 L239.5,153.38 L240,153.47 L240.5,153.63 L241,153.61 L241.5,153.67 L242,153.93 L242.5,153.92 L243,153.58 L243.5,153.09 L244,153.09 L244.5,153.54 L245,153.62 L245.5,153.5 L246,153.36 L246.5,153.16 L247,153.08 L247.5,153.08 L248,153.18 L248.5,153.14 L249,153.09 L249.5,153.46 L250,153.63 L250.5,153.2 L251,153.16 L251.5,153.44 L252,153.55 L252.5,153.72 L253,153.59 L253.5,153.4 L254,153.62 L254.5,153.86 L255,153.75 L255.5,153.54 L256,153.23 L256.5,152.83 L257,153.07 L257.5,153.66 L258,153.75 L258.5,153.53" fill="none" stroke="#d29e12" stroke-width="1.7" stroke-linejoin="round"/>
<path d="M21,143.46 L21.5,143.37 L22,142.82 L22.5,143.18 L23,143.97 L23.5,144.31 L24,144.56 L24.5,144.95 L25,145.15 L25.5,145.37 L26,145.35 L26.5,144.91 L27,144.58 L27.5,144.28 L28,143.95 L28.5,144.23 L29,144.04 L29.5,142.54 L30,140.58 L30.5,140.1 L31,141.54 L31.5,143.87 L32,145.8 L32.5,146.55 L33,146.55 L33.5,146.92 L34,147.61 L34.5,148.05 L35,148.53 L35.5,148.8 L36,148.88 L36.5,149.15 L37,149.4 L37.5,149.6 L38,149.8 L38.5,149.81 L39,149.85 L39.5,150.16 L40,150.57 L40.5,150.75 L41,151.08 L41.5,151.67 L42,151.74 L42.5,151.84 L43,152.44 L43.5,152.88 L44,152.95 L44.5,153.12 L45,153.16 L45.5,153.25 L46,153.92 L46.5,154.37 L47,154.38 L47.5,154.37 L48,154.15 L48.5,154.14 L49,154.58 L49.5,154.88 L50,154.86 L50.5,155.04 L51,155.23 L51.5,155.19 L52,155.35 L52.5,155.33 L53,155.05 L53.5,154.91 L54,154.83 L54.5,155.09 L55,155.02 L55.5,154.46 L56,154.09 L56.5,153.96 L57,153.84 L57.5,153.65 L58,153.49 L58.5,153.38 L59,153.51 L59.5,154.34 L60,155.47 L60.5,156.38 L61,156.88 L61.5,157.86 L62,158.47 L62.5,158.45 L63,158.58 L63.5,159.13 L64,159.58 L64.5,159.61 L65,159.49 L65.5,159.65 L66,159.99 L66.5,159.91 L67,159.78 L67.5,159.9 L68,159.6 L68.5,159.26 L69,159.51 L69.5,159.83 L70,159.99 L70.5,160.17 L71,160.29 L71.5,160.23 L72,160.36 L72.5,160.34 L73,159.69 L73.5,159.5 L74,159.82 L74.5,159.66 L75,159.5 L75.5,159.57 L76,159.38 L76.5,159.16 L77,159.61 L77.5,159.91 L78,159.75 L78.5,159.75 L79,159.91 L79.5,160.2 L80,160.63 L80.5,160.75 L81,160.86 L81.5,161.01 L82,161.28 L82.5,161.49 L83,161.25 L83.5,160.61 L84,160.52 L84.5,160.96 L85,161.16 L85.5,161.3 L86,161.43 L86.5,161.52 L87,161.68 L87.5,161.71 L88,161.52 L88.5,161.53 L89,161.86 L89.5,161.95 L90,161.93 L90.5,161.98 L91,161.98 L91.5,161.82 L92,161.69 L92.5,161.57 L93,161.37 L93.5,161.35 L94,161.48 L94.5,161.43 L95,161.63 L95.5,161.94 L96,161.61 L96.5,161.71 L97,162.09 L97.5,161.84 L98,161.79 L98.5,161.83 L99,161.45 L99.5,161.02 L100,161.03 L100.5,161.46 L101,161.43 L101.5,161.13 L102,161.29 L102.5,161.57 L103,161.76 L103.5,161.66 L104,161.37 L104.5,161.4 L105,161.73 L105.5,162.32 L106,162.58 L106.5,162.09 L107,161.77 L107.5,161.8 L108,161.79 L108.5,161.58 L109,161.3 L109.5,160.81 L110,160.43 L110.5,160.4 L111,161.26 L111.5,161.99 L112,162.83 L112.5,163.4 L113,163.95 L113.5,163.93 L114,163.74 L114.5,164.04 L115,164.24 L115.5,163.82 L116,163.72 L116.5,164.07 L117,164.2 L117.5,163.99 L118,163.91 L118.5,163.97 L119,163.71 L119.5,163.39 L120,163.49 L120.5,163.47 L121,163.36 L121.5,163.51 L122,163.65 L122.5,163.6 L123,163.3 L123.5,163.1 L124,163.38 L124.5,164 L125,164.37 L125.5,164.42 L126,164.37 L126.5,164.23 L127,163.83 L127.5,163.44 L128,163.52 L128.5,163.59 L129,163.42 L129.5,163.54 L130,163.92 L130.5,163.74 L131,163.44 L131.5,163.66 L132,163.64 L132.5,163.41 L133,163.41 L133.5,163.19 L134,162.85 L134.5,163.1 L135,163.68 L135.5,163.88 L136,163.66 L136.5,163.36 L137,163.4 L137.5,163.72 L138,163.77 L138.5,163.44 L139,163.47 L139.5,163.86 L140,163.81 L140.5,163.48 L141,163.3 L141.5,163.51 L142,163.96 L142.5,163.86 L143,163.29 L143.5,163.23 L144,163.8 L144.5,164.05 L145,163.85 L145.5,163.33 L146,162.63 L146.5,162.63 L147,163.01 L147.5,163.06 L148,162.94 L148.5,162.75 L149,162.73 L149.5,162.85 L150,162.77 L150.5,162.88 L151,163.09 L151.5,163.33 L152,163.69 L152.5,163.62 L153,163.2 L153.5,163.18 L154,163.5 L154.5,163.67 L155,163.72 L155.5,163.97 L156,163.97 L156.5,162.65 L157,159.43 L157.5,155.18 L158,153.15 L158.5,155.7 L159,159.99 L159.5,162.57 L160,163.66 L160.5,163.75 L161,162.36 L161.5,158.43 L162,152.24 L162.5,148.04 L163,149.99 L163.5,160.27 L164,171 L164.5,173.55 L165,174.02 L165.5,173.64 L166,173.58 L166.5,173.97 L167,174.36 L167.5,174.48 L168,174.6 L168.5,174.7 L169,174.78 L169.5,174.88 L170,174.58 L170.5,174.18 L171,174.51 L171.5,174.9 L172,174.84 L172.5,175.17 L173,175.3 L173.5,174.91 L174,174.68 L174.5,174.66 L175,174.81 L175.5,174.66 L176,174.47 L176.5,174.65 L177,174.76 L177.5,174.82 L178,174.95 L178.5,174.9 L179,174.93 L179.5,175.46 L180,175.73 L180.5,175.23 L181,174.71 L181.5,174.74 L182,174.99 L182.5,175.01 L183,174.72 L183.5,174.36 L184,174.32 L184.5,174.69 L185,175.06 L185.5,174.74 L186,174.41 L186.5,174.95 L187,175.51 L187.5,175.12 L188,174.48 L188.5,174.73 L189,175.18 L189.5,175.05 L190,174.56 L190.5,174.18 L191,174.28 L191.5,174.54 L192,174.94 L192.5,175.12 L193,175.21 L193.5,175.29 L194,175.16 L194.5,175.14 L195,175.47 L195.5,175.63 L196,175.73 L196.5,175.94 L197,175.81 L197.5,175.54 L198,175.55 L198.5,175.47 L199,175.32 L199.5,175.59 L200,176.23 L200.5,176.19 L201,175.88 L201.5,176.27 L202,176.45 L202.5,176.26 L203,176.57 L203.5,176.92 L204,176.7 L204.5,176.59 L205,176.29 L205.5,174.43 L206,169.6 L206.5,161.44 L207,154.76 L207.5,155.93 L208,164.45 L208.5,172.9 L209,177.08 L209.5,178.31 L210,178.58 L210.5,178.53 L211,178.44 L211.5,178.48 L212,178.4 L212.5,178.14 L213,178.32 L213.5,179.16 L214,179.63 L214.5,178.99 L215,178.26 L215.5,178.48 L216,178.62 L216.5,178.21 L217,178.15 L217.5,178.25 L218,178.14 L218.5,178.33 L219,178.62 L219.5,178.51 L220,178.63 L220.5,178.82 L221,178.29 L221.5,178.02 L222,178.7 L222.5,179.14 L223,178.87 L223.5,178.47 L224,178.13 L224.5,178.32 L225,178.93 L225.5,179.1 L226,178.75 L226.5,178.29 L227,178.02 L227.5,177.97 L228,178.18 L228.5,178.43 L229,178.34 L229.5,178.38 L230,178.71 L230.5,178.77 L231,178.67 L231.5,178.64 L232,178.33 L232.5,178.01 L233,178.19 L233.5,178.34 L234,178.39 L234.5,178.45 L235,178.54 L235.5,178.72 L236,178.63 L236.5,178.56 L237,178.58 L237.5,178.58 L238,178.74 L238.5,178.85 L239,178.66 L239.5,178.29 L240,178.11 L240.5,178.23 L241,178.18 L241.5,177.92 L242,177.9 L242.5,178.01 L243,178.06 L243.5,178.27 L244,178.63 L244.5,178.82 L245,178.66 L245.5,178.26 L246,178.13 L246.5,178.52 L247,179.08 L247.5,179.04 L248,178.62 L248.5,178.84 L249,178.98 L249.5,178.48 L250,178.48 L250.5,178.89 L251,178.71 L251.5,178.53 L252,178.87 L252.5,179.02 L253,178.64 L253.5,178.25 L254,178.47 L254.5,178.87 L255,178.89 L255.5,178.73 L256,178.72 L256.5,178.81 L257,178.74 L257.5,178.74 L258,178.57 L258.5,178.3" fill="none" stroke="#4a4a4a" stroke-width="1.7" stroke-linejoin="round"/>
<rect x="20.4" y="5.4" width="238.7" height="190.8" fill="none" stroke="#2b2b2b" stroke-width="1.3"/>
<text x="20.4" y="211.3" text-anchor="middle" font-size="9.7" font-weight="bold" fill="#111" color="#111">1000</text>
<text x="60.18" y="211.3" text-anchor="middle" font-size="9.7" font-weight="bold" fill="#111" color="#111">900</text>
<text x="99.97" y="211.3" text-anchor="middle" font-size="9.7" font-weight="bold" fill="#111" color="#111">800</text>
<text x="139.75" y="211.3" text-anchor="middle" font-size="9.7" font-weight="bold" fill="#111" color="#111">700</text>
<text x="179.53" y="211.3" text-anchor="middle" font-size="9.7" font-weight="bold" fill="#111" color="#111">600</text>
<text x="219.32" y="211.3" text-anchor="middle" font-size="9.7" font-weight="bold" fill="#111" color="#111">500</text>
<text x="259.1" y="211.3" text-anchor="middle" font-size="9.7" font-weight="bold" fill="#111" color="#111">400</text>
<line x1="20.4" y1="196.2" x2="20.4" y2="199.6" stroke="#2b2b2b" stroke-width="1.2"/><line x1="60.18" y1="196.2" x2="60.18" y2="199.6" stroke="#2b2b2b" stroke-width="1.2"/><line x1="99.97" y1="196.2" x2="99.97" y2="199.6" stroke="#2b2b2b" stroke-width="1.2"/><line x1="139.75" y1="196.2" x2="139.75" y2="199.6" stroke="#2b2b2b" stroke-width="1.2"/><line x1="179.53" y1="196.2" x2="179.53" y2="199.6" stroke="#2b2b2b" stroke-width="1.2"/><line x1="219.32" y1="196.2" x2="219.32" y2="199.6" stroke="#2b2b2b" stroke-width="1.2"/><line x1="259.1" y1="196.2" x2="259.1" y2="199.6" stroke="#2b2b2b" stroke-width="1.2"/><line x1="40.29" y1="196.2" x2="40.29" y2="198.2" stroke="#2b2b2b" stroke-width="1.1"/><line x1="80.07" y1="196.2" x2="80.07" y2="198.2" stroke="#2b2b2b" stroke-width="1.1"/><line x1="119.86" y1="196.2" x2="119.86" y2="198.2" stroke="#2b2b2b" stroke-width="1.1"/><line x1="159.64" y1="196.2" x2="159.64" y2="198.2" stroke="#2b2b2b" stroke-width="1.1"/><line x1="199.43" y1="196.2" x2="199.43" y2="198.2" stroke="#2b2b2b" stroke-width="1.1"/><line x1="239.21" y1="196.2" x2="239.21" y2="198.2" stroke="#2b2b2b" stroke-width="1.1"/>
<text x="139.8" y="225.9" text-anchor="middle" font-size="10" font-weight="bold" fill="#111" color="#111" >Binding Energy (eV)</text>
<text transform="translate(11.3,94) rotate(-90)" text-anchor="middle" font-size="10" font-weight="bold" fill="#111" color="#111">Intensity (a.u.)</text>
<text x="22.4" y="13.6" text-anchor="start" font-size="11.5" font-weight="bold" fill="#111" color="#111" >a</text>
<text x="48.6" y="21.9" text-anchor="start" font-size="11" font-weight="bold" fill="#111" color="#111" >Cu2p</text>
<text x="144.5" y="30" text-anchor="start" font-size="11" font-weight="bold" fill="#111" color="#111" >Mn2p</text>
<text x="196" y="36" text-anchor="start" font-size="11" font-weight="bold" fill="#111" color="#111" >O1s</text>
<text x="257.2" y="69.4" text-anchor="end" font-size="8.9" font-weight="normal" fill="#222" color="#222" style="stroke-width:0.2px">50%-CDM</text>
<text x="257.2" y="93" text-anchor="end" font-size="8.9" font-weight="normal" fill="#222" color="#222" style="stroke-width:0.2px">40%-CDM</text>
<text x="257.2" y="112.8" text-anchor="end" font-size="8.9" font-weight="normal" fill="#222" color="#222" style="stroke-width:0.2px">30%-CDM</text>
<text x="257.2" y="131.5" text-anchor="end" font-size="8.9" font-weight="normal" fill="#222" color="#222" style="stroke-width:0.2px">20%-CDM</text>
<text x="257.2" y="152.3" text-anchor="end" font-size="8.9" font-weight="normal" fill="#222" color="#222" style="stroke-width:0.2px">10%-CDM</text>
<text x="257.2" y="177.7" text-anchor="end" font-size="8.9" font-weight="normal" fill="#222" color="#222" style="stroke-width:0.2px">0%-CDM</text>
<defs><linearGradient id="g1" x1="0" y1="0" x2="0" y2="1"><stop offset="0" stop-color="#86c49a" stop-opacity="1"/><stop offset="1" stop-color="#dcefe2" stop-opacity="0.2"/></linearGradient></defs>
<path d="M386.1,150.17 L386.6,150.21 L387.1,150.26 L387.6,150.3 L388.1,150.35 L388.6,150.39 L389.1,150.43 L389.6,150.46 L390.1,150.5 L390.6,150.54 L391.1,150.58 L391.6,150.61 L392.1,150.65 L392.6,150.69 L393.1,150.72 L393.6,150.76 L394.1,150.8 L394.6,150.84 L395.1,150.88 L395.6,150.93 L396.1,150.97 L396.6,151.02 L397.1,151.06 L397.6,151.11 L398.1,151.16 L398.6,151.2 L399.1,151.25 L399.6,151.3 L400.1,151.34 L400.6,151.39 L401.1,151.44 L401.6,151.49 L402.1,151.54 L402.6,151.59 L403.1,151.63 L403.6,151.68 L404.1,151.73 L404.6,151.78 L405.1,151.83 L405.6,151.88 L406.1,151.93 L406.6,151.98 L407.1,152.03 L407.6,152.08 L408.1,152.13 L408.6,152.18 L409.1,152.23 L409.6,152.28 L410.1,152.33 L410.6,152.38 L411.1,152.43 L411.6,152.48 L412.1,152.53 L412.6,152.58 L413.1,152.63 L413.6,152.68 L414.1,152.73 L414.6,152.79 L415.1,152.84 L415.6,152.89 L416.1,152.94 L416.6,152.98 L417.1,153.03 L417.6,153.08 L418.1,153.13 L418.6,153.18 L419.1,153.23 L419.6,153.28 L420.1,153.33 L420.6,153.37 L421.1,153.42 L421.6,153.46 L422.1,153.51 L422.6,153.55 L423.1,153.6 L423.6,153.64 L424.1,153.68 L424.6,153.73 L425.1,153.77 L425.6,153.81 L426.1,153.85 L426.6,153.9 L427.1,153.94 L427.6,153.98 L428.1,154.03 L428.6,154.07 L429.1,154.12 L429.6,154.16 L430.1,154.21 L430.6,154.25 L431.1,154.3 L431.6,154.35 L432.1,154.39 L432.6,154.44 L433.1,154.49 L433.6,154.53 L434.1,154.58 L434.6,154.62 L435.1,154.66 L435.6,154.7 L436.1,154.73 L436.6,154.76 L437.1,154.78 L437.6,154.8 L438.1,154.81 L438.6,154.82 L439.1,154.81 L439.6,154.8 L440.1,154.77 L440.6,154.73 L441.1,154.68 L441.6,154.62 L442.1,154.54 L442.6,154.45 L443.1,154.34 L443.6,154.21 L444.1,154.06 L444.6,153.89 L445.1,153.69 L445.6,153.46 L446.1,153.19 L446.6,152.88 L447.1,152.52 L447.6,152.09 L448.1,151.58 L448.6,150.98 L449.1,150.25 L449.6,149.38 L450.1,148.34 L450.6,147.08 L451.1,145.58 L451.6,143.81 L452.1,141.71 L452.6,139.2 L453.1,136.16 L453.6,132.46 L454.1,127.99 L454.6,122.6 L455.1,116.2 L455.6,108.84 L456.1,100.67 L456.6,92.09 L457.1,83.85 L457.6,77.02 L458.1,72.8 L458.6,72.11 L459.1,74.61 L459.6,79.75 L460.1,86.98 L460.6,95.62 L461.1,104.91 L461.6,114.14 L462.1,122.77 L462.6,130.46 L463.1,137.04 L463.6,142.53 L464.1,147.02 L464.6,150.67 L465.1,153.64 L465.6,156.09 L466.1,158.13 L466.6,159.87 L467.1,161.4 L467.6,162.75 L468.1,163.97 L468.6,165.07 L469.1,166.07 L469.6,166.97 L470.1,167.8 L470.6,168.56 L471.1,169.25 L471.6,169.88 L472.1,170.47 L472.6,171 L473.1,171.5 L473.6,171.95 L474.1,172.37 L474.6,172.76 L475.1,173.12 L475.6,173.45 L476.1,173.76 L476.6,174.05 L477.1,174.31 L477.6,174.56 L478.1,174.79 L478.6,175 L479.1,175.2 L479.6,175.38 L480.1,175.55 L480.6,175.71 L481.1,175.86 L481.6,176 L482.1,176.13 L482.6,176.25 L483.1,176.37 L483.6,176.48 L484.1,176.59 L484.6,176.69 L485.1,176.79 L485.6,176.88 L486.1,176.97 L486.6,177.05 L487.1,177.13 L487.6,177.2 L488.1,177.28 L488.6,177.34 L489.1,177.41 L489.6,177.47 L490.1,177.53 L490.6,177.59 L491.1,177.65 L491.6,177.7 L492.1,177.75 L492.6,177.8 L493.1,177.85 L493.6,177.89 L494.1,177.93 L494.6,177.98 L495.1,178.02 L495.6,178.05 L496.1,178.09 L496.6,178.13 L497.1,178.16 L497.6,178.2 L498.1,178.23 L498.6,178.26 L499.1,178.29 L499.6,178.32 L500.1,178.35 L500.6,178.38 L501.1,178.4 L501.6,178.43 L502.1,178.45 L502.6,178.48 L503.1,178.5 L503.6,178.52 L504.1,178.54 L504.6,178.57 L505.1,178.59 L505.6,178.61 L506.1,178.63 L506.6,178.65 L507.1,178.66 L507.6,178.68 L508.1,178.7 L508.6,178.72 L509.1,178.73 L509.6,178.75 L510.1,178.76 L510.6,178.78 L511.1,178.79 L511.6,178.81 L512.1,178.82 L512.6,178.83 L513.1,178.85 L513.6,178.86 L514.1,178.87 L514.6,178.89 L515.1,178.9 L515.6,178.91 L516.1,178.92 L516.6,178.93 L517.1,178.94 L517.6,178.95 L518.1,178.96 L518.6,178.97 L519.1,178.98 L519.6,178.99 L520.1,179 L520.6,179.01 L521.1,179.02 L521.6,179.03 L522.1,179.03 L522.6,179.04 L523.1,179.05 L523.6,179.06 L524.1,179.07 L524.6,179.07 L525.1,179.08 L525.6,179.09 L526.1,179.09 L526.6,179.1 L527.1,179.11 L527.6,179.11 L528.1,179.12 L528.6,179.12 L529.1,179.13 L529.6,179.14 L530.1,179.14 L530.6,179.15 L531.1,179.15 L531.6,179.16 L532.1,179.16 L532.6,179.17 L533.1,179.17 L533.6,179.18 L534.1,179.18 L534.6,179.18 L535.1,179.19 L535.6,179.19 L536.1,179.2 L536.1,179.5 L535.6,179.5 L535.1,179.5 L534.6,179.5 L534.1,179.5 L533.6,179.5 L533.1,179.5 L532.6,179.5 L532.1,179.5 L531.6,179.5 L531.1,179.5 L530.6,179.5 L530.1,179.5 L529.6,179.5 L529.1,179.5 L528.6,179.5 L528.1,179.49 L527.6,179.49 L527.1,179.49 L526.6,179.49 L526.1,179.49 L525.6,179.49 L525.1,179.49 L524.6,179.49 L524.1,179.49 L523.6,179.49 L523.1,179.49 L522.6,179.49 L522.1,179.48 L521.6,179.48 L521.1,179.48 L520.6,179.48 L520.1,179.48 L519.6,179.48 L519.1,179.48 L518.6,179.48 L518.1,179.47 L517.6,179.47 L517.1,179.47 L516.6,179.47 L516.1,179.47 L515.6,179.47 L515.1,179.46 L514.6,179.46 L514.1,179.46 L513.6,179.46 L513.1,179.46 L512.6,179.45 L512.1,179.45 L511.6,179.45 L511.1,179.45 L510.6,179.45 L510.1,179.44 L509.6,179.44 L509.1,179.44 L508.6,179.44 L508.1,179.43 L507.6,179.43 L507.1,179.43 L506.6,179.43 L506.1,179.42 L505.6,179.42 L505.1,179.42 L504.6,179.42 L504.1,179.41 L503.6,179.41 L503.1,179.41 L502.6,179.4 L502.1,179.4 L501.6,179.4 L501.1,179.39 L500.6,179.39 L500.1,179.39 L499.6,179.38 L499.1,179.38 L498.6,179.38 L498.1,179.37 L497.6,179.37 L497.1,179.37 L496.6,179.36 L496.1,179.36 L495.6,179.35 L495.1,179.35 L494.6,179.35 L494.1,179.34 L493.6,179.34 L493.1,179.33 L492.6,179.33 L492.1,179.33 L491.6,179.32 L491.1,179.32 L490.6,179.31 L490.1,179.31 L489.6,179.3 L489.1,179.3 L488.6,179.29 L488.1,179.29 L487.6,179.28 L487.1,179.28 L486.6,179.27 L486.1,179.27 L485.6,179.26 L485.1,179.26 L484.6,179.25 L484.1,179.25 L483.6,179.24 L483.1,179.24 L482.6,179.23 L482.1,179.22 L481.6,179.22 L481.1,179.21 L480.6,179.21 L480.1,179.2 L479.6,179.19 L479.1,179.18 L478.6,179.17 L478.1,179.16 L477.6,179.14 L477.1,179.12 L476.6,179.1 L476.1,179.07 L475.6,179.05 L475.1,179.01 L474.6,178.98 L474.1,178.95 L473.6,178.91 L473.1,178.87 L472.6,178.82 L472.1,178.78 L471.6,178.73 L471.1,178.68 L470.6,178.62 L470.1,178.57 L469.6,178.51 L469.1,178.44 L468.6,178.38 L468.1,178.31 L467.6,178.24 L467.1,178.17 L466.6,178.09 L466.1,178.02 L465.6,177.92 L465.1,177.8 L464.6,177.65 L464.1,177.46 L463.6,177.25 L463.1,177.02 L462.6,176.76 L462.1,176.49 L461.6,176.2 L461.1,175.9 L460.6,175.59 L460.1,175.27 L459.6,174.92 L459.1,174.51 L458.6,174.05 L458.1,173.55 L457.6,173.02 L457.1,172.45 L456.6,171.87 L456.1,171.28 L455.6,170.69 L455.1,170.11 L454.6,169.53 L454.1,168.89 L453.6,168.22 L453.1,167.54 L452.6,166.87 L452.1,166.23 L451.6,165.63 L451.1,165.1 L450.6,164.62 L450.1,164.17 L449.6,163.72 L449.1,163.3 L448.6,162.89 L448.1,162.5 L447.6,162.13 L447.1,161.77 L446.6,161.44 L446.1,161.12 L445.6,160.83 L445.1,160.55 L444.6,160.3 L444.1,160.06 L443.6,159.84 L443.1,159.62 L442.6,159.42 L442.1,159.23 L441.6,159.05 L441.1,158.87 L440.6,158.7 L440.1,158.53 L439.6,158.37 L439.1,158.21 L438.6,158.05 L438.1,157.89 L437.6,157.74 L437.1,157.59 L436.6,157.44 L436.1,157.3 L435.6,157.16 L435.1,157.02 L434.6,156.88 L434.1,156.75 L433.6,156.62 L433.1,156.5 L432.6,156.37 L432.1,156.26 L431.6,156.14 L431.1,156.03 L430.6,155.92 L430.1,155.82 L429.6,155.72 L429.1,155.62 L428.6,155.53 L428.1,155.44 L427.6,155.35 L427.1,155.26 L426.6,155.18 L426.1,155.1 L425.6,155.02 L425.1,154.94 L424.6,154.86 L424.1,154.79 L423.6,154.71 L423.1,154.64 L422.6,154.57 L422.1,154.5 L421.6,154.43 L421.1,154.35 L420.6,154.28 L420.1,154.21 L419.6,154.14 L419.1,154.07 L418.6,154.01 L418.1,153.94 L417.6,153.87 L417.1,153.8 L416.6,153.73 L416.1,153.67 L415.6,153.6 L415.1,153.53 L414.6,153.47 L414.1,153.4 L413.6,153.34 L413.1,153.27 L412.6,153.21 L412.1,153.14 L411.6,153.08 L411.1,153.02 L410.6,152.95 L410.1,152.89 L409.6,152.83 L409.1,152.77 L408.6,152.71 L408.1,152.65 L407.6,152.59 L407.1,152.53 L406.6,152.47 L406.1,152.41 L405.6,152.35 L405.1,152.29 L404.6,152.23 L404.1,152.18 L403.6,152.12 L403.1,152.06 L402.6,152.01 L402.1,151.95 L401.6,151.9 L401.1,151.84 L400.6,151.79 L400.1,151.73 L399.6,151.68 L399.1,151.62 L398.6,151.57 L398.1,151.52 L397.6,151.47 L397.1,151.41 L396.6,151.36 L396.1,151.31 L395.6,151.26 L395.1,151.21 L394.6,151.16 L394.1,151.12 L393.6,151.07 L393.1,151.03 L392.6,150.99 L392.1,150.95 L391.6,150.91 L391.1,150.87 L390.6,150.82 L390.1,150.78 L389.6,150.74 L389.1,150.7 L388.6,150.66 L388.1,150.61 L387.6,150.57 L387.1,150.52 L386.6,150.47 L386.1,150.42 Z" fill="url(#g1)" stroke="none"/>
<defs><linearGradient id="g2" x1="0" y1="0" x2="0" y2="1"><stop offset="0" stop-color="#779be5" stop-opacity="1"/><stop offset="1" stop-color="#eceefb" stop-opacity="1"/></linearGradient></defs>
<path d="M298.6,131.02 L299.1,131.01 L299.6,131.01 L300.1,131.01 L300.6,131.01 L301.1,131 L301.6,131 L302.1,131 L302.6,130.99 L303.1,130.99 L303.6,130.99 L304.1,130.98 L304.6,130.98 L305.1,130.97 L305.6,130.96 L306.1,130.96 L306.6,130.95 L307.1,130.94 L307.6,130.93 L308.1,130.92 L308.6,130.91 L309.1,130.9 L309.6,130.89 L310.1,130.88 L310.6,130.86 L311.1,130.85 L311.6,130.83 L312.1,130.81 L312.6,130.79 L313.1,130.77 L313.6,130.74 L314.1,130.72 L314.6,130.69 L315.1,130.66 L315.6,130.63 L316.1,130.59 L316.6,130.55 L317.1,130.51 L317.6,130.47 L318.1,130.42 L318.6,130.37 L319.1,130.31 L319.6,130.25 L320.1,130.18 L320.6,130.11 L321.1,130.03 L321.6,129.95 L322.1,129.86 L322.6,129.76 L323.1,129.66 L323.6,129.54 L324.1,129.42 L324.6,129.28 L325.1,129.13 L325.6,128.97 L326.1,128.79 L326.6,128.6 L327.1,128.39 L327.6,128.16 L328.1,127.9 L328.6,127.63 L329.1,127.33 L329.6,127 L330.1,126.65 L330.6,126.26 L331.1,125.84 L331.6,125.38 L332.1,124.89 L332.6,124.35 L333.1,123.77 L333.6,123.14 L334.1,122.46 L334.6,121.74 L335.1,120.96 L335.6,120.12 L336.1,119.23 L336.6,118.28 L337.1,117.26 L337.6,116.19 L338.1,115.05 L338.6,113.86 L339.1,112.6 L339.6,111.27 L340.1,109.89 L340.6,108.45 L341.1,106.95 L341.6,105.41 L342.1,103.81 L342.6,102.18 L343.1,100.51 L343.6,98.81 L344.1,97.09 L344.6,95.37 L345.1,93.65 L345.6,91.95 L346.1,90.28 L346.6,88.67 L347.1,87.13 L347.6,85.69 L348.1,84.36 L348.6,83.16 L349.1,82.12 L349.6,81.26 L350.1,80.59 L350.6,80.14 L351.1,79.9 L351.6,79.9 L352.1,80.13 L352.6,80.59 L353.1,81.28 L353.6,82.18 L354.1,83.28 L354.6,84.56 L355.1,85.99 L355.6,87.56 L356.1,89.25 L356.6,91.03 L357.1,92.89 L357.6,94.8 L358.1,96.74 L358.6,98.7 L359.1,100.67 L359.6,102.64 L360.1,104.58 L360.6,106.5 L361.1,108.38 L361.6,110.21 L362.1,112 L362.6,113.74 L363.1,115.42 L363.6,117.04 L364.1,118.61 L364.6,120.11 L365.1,121.54 L365.6,122.92 L366.1,124.24 L366.6,125.5 L367.1,126.71 L367.6,127.86 L368.1,128.95 L368.6,130 L369.1,130.98 L369.6,131.92 L370.1,132.81 L370.6,133.65 L371.1,134.45 L371.6,135.2 L372.1,135.91 L372.6,136.58 L373.1,137.2 L373.6,137.79 L374.1,138.35 L374.6,138.88 L375.1,139.38 L375.6,139.85 L376.1,140.31 L376.6,140.74 L377.1,141.16 L377.6,141.56 L378.1,141.94 L378.6,142.3 L379.1,142.65 L379.6,142.99 L380.1,143.31 L380.6,143.62 L381.1,143.92 L381.6,144.2 L382.1,144.48 L382.6,144.74 L383.1,144.99 L383.6,145.23 L384.1,145.46 L384.6,145.68 L385.1,145.89 L385.6,146.09 L386.1,146.28 L386.6,146.46 L387.1,146.64 L387.6,146.81 L388.1,146.98 L388.6,147.14 L389.1,147.29 L389.6,147.44 L390.1,147.59 L390.6,147.73 L391.1,147.87 L391.6,148.01 L392.1,148.14 L392.6,148.28 L393.1,148.41 L393.6,148.54 L394.1,148.67 L394.6,148.79 L395.1,148.92 L395.6,149.05 L396.1,149.18 L396.6,149.31 L397.1,149.44 L397.6,149.57 L398.1,149.7 L398.6,149.83 L399.1,149.96 L399.6,150.09 L400.1,150.22 L400.6,150.34 L401.1,150.47 L401.6,150.59 L402.1,150.72 L402.6,150.84 L403.1,150.95 L403.6,151.07 L404.1,151.18 L404.6,151.3 L405.1,151.41 L405.6,151.51 L406.1,151.62 L406.6,151.72 L407.1,151.81 L407.6,151.91 L408.1,152 L408.6,152.09 L409.1,152.17 L409.6,152.26 L410.1,152.34 L410.6,152.42 L411.1,152.5 L411.6,152.57 L412.1,152.65 L412.6,152.73 L413.1,152.8 L413.6,152.88 L414.1,152.95 L414.6,153.03 L415.1,153.1 L415.6,153.18 L416.1,153.25 L416.6,153.33 L417.1,153.41 L417.6,153.49 L418.1,153.57 L418.6,153.65 L419.1,153.73 L419.6,153.81 L420.1,153.89 L420.6,153.97 L421.1,154.05 L421.6,154.13 L422.1,154.21 L422.6,154.29 L423.1,154.37 L423.6,154.45 L424.1,154.53 L424.6,154.61 L425.1,154.7 L425.6,154.78 L426.1,154.87 L426.6,154.96 L427.1,155.04 L427.6,155.13 L428.1,155.22 L428.6,155.32 L429.1,155.41 L429.6,155.51 L430.1,155.61 L430.6,155.71 L431.1,155.81 L431.6,155.91 L432.1,156.01 L432.6,156.12 L433.1,156.23 L433.6,156.34 L434.1,156.45 L434.6,156.57 L435.1,156.68 L435.6,156.8 L436.1,156.93 L436.6,157.05 L437.1,157.18 L437.6,157.32 L438.1,157.46 L438.6,157.6 L439.1,157.74 L439.6,157.89 L440.1,158.05 L440.6,158.21 L441.1,158.39 L441.6,158.58 L442.1,158.78 L442.6,158.99 L443.1,159.2 L443.6,159.42 L444.1,159.65 L444.6,159.88 L445.1,160.12 L445.6,160.4 L446.1,160.7 L446.6,161.02 L447.1,161.36 L447.6,161.71 L448.1,162.09 L448.6,162.49 L449.1,162.9 L449.6,163.33 L450.1,163.78 L450.6,164.24 L451.1,164.71 L451.6,165.25 L452.1,165.85 L452.6,166.5 L453.1,167.17 L453.6,167.86 L454.1,168.53 L454.6,169.17 L455.1,169.76 L455.6,170.34 L456.1,170.94 L456.6,171.53 L457.1,172.11 L457.6,172.68 L458.1,173.22 L458.6,173.72 L459.1,174.18 L459.6,174.59 L460.1,174.94 L460.6,175.27 L461.1,175.58 L461.6,175.89 L462.1,176.18 L462.6,176.46 L463.1,176.71 L463.6,176.95 L464.1,177.16 L464.6,177.35 L465.1,177.51 L465.6,177.63 L466.1,177.73 L466.6,177.81 L467.1,177.88 L467.6,177.96 L468.1,178.03 L468.6,178.1 L469.1,178.17 L469.6,178.23 L470.1,178.29 L470.6,178.35 L471.1,178.41 L471.6,178.46 L472.1,178.51 L472.6,178.56 L473.1,178.61 L473.6,178.65 L474.1,178.69 L474.6,178.73 L474.6,178.98 L474.1,178.95 L473.6,178.91 L473.1,178.87 L472.6,178.82 L472.1,178.78 L471.6,178.73 L471.1,178.68 L470.6,178.62 L470.1,178.57 L469.6,178.51 L469.1,178.44 L468.6,178.38 L468.1,178.31 L467.6,178.24 L467.1,178.17 L466.6,178.09 L466.1,178.02 L465.6,177.92 L465.1,177.8 L464.6,177.65 L464.1,177.46 L463.6,177.25 L463.1,177.02 L462.6,176.76 L462.1,176.49 L461.6,176.2 L461.1,175.9 L460.6,175.59 L460.1,175.27 L459.6,174.92 L459.1,174.51 L458.6,174.05 L458.1,173.55 L457.6,173.02 L457.1,172.45 L456.6,171.87 L456.1,171.28 L455.6,170.69 L455.1,170.11 L454.6,169.53 L454.1,168.89 L453.6,168.22 L453.1,167.54 L452.6,166.87 L452.1,166.23 L451.6,165.63 L451.1,165.1 L450.6,164.62 L450.1,164.17 L449.6,163.72 L449.1,163.3 L448.6,162.89 L448.1,162.5 L447.6,162.13 L447.1,161.77 L446.6,161.44 L446.1,161.12 L445.6,160.83 L445.1,160.55 L444.6,160.3 L444.1,160.06 L443.6,159.84 L443.1,159.62 L442.6,159.42 L442.1,159.23 L441.6,159.05 L441.1,158.87 L440.6,158.7 L440.1,158.53 L439.6,158.37 L439.1,158.21 L438.6,158.05 L438.1,157.89 L437.6,157.74 L437.1,157.59 L436.6,157.44 L436.1,157.3 L435.6,157.16 L435.1,157.02 L434.6,156.88 L434.1,156.75 L433.6,156.62 L433.1,156.5 L432.6,156.37 L432.1,156.26 L431.6,156.14 L431.1,156.03 L430.6,155.92 L430.1,155.82 L429.6,155.72 L429.1,155.62 L428.6,155.53 L428.1,155.44 L427.6,155.35 L427.1,155.26 L426.6,155.18 L426.1,155.1 L425.6,155.02 L425.1,154.94 L424.6,154.86 L424.1,154.79 L423.6,154.71 L423.1,154.64 L422.6,154.57 L422.1,154.5 L421.6,154.43 L421.1,154.35 L420.6,154.28 L420.1,154.21 L419.6,154.14 L419.1,154.07 L418.6,154.01 L418.1,153.94 L417.6,153.87 L417.1,153.8 L416.6,153.73 L416.1,153.67 L415.6,153.6 L415.1,153.53 L414.6,153.47 L414.1,153.4 L413.6,153.34 L413.1,153.27 L412.6,153.21 L412.1,153.14 L411.6,153.08 L411.1,153.02 L410.6,152.95 L410.1,152.89 L409.6,152.83 L409.1,152.77 L408.6,152.71 L408.1,152.65 L407.6,152.59 L407.1,152.53 L406.6,152.47 L406.1,152.41 L405.6,152.35 L405.1,152.29 L404.6,152.23 L404.1,152.18 L403.6,152.12 L403.1,152.06 L402.6,152.01 L402.1,151.95 L401.6,151.9 L401.1,151.84 L400.6,151.79 L400.1,151.73 L399.6,151.68 L399.1,151.62 L398.6,151.57 L398.1,151.52 L397.6,151.47 L397.1,151.41 L396.6,151.36 L396.1,151.31 L395.6,151.26 L395.1,151.21 L394.6,151.16 L394.1,151.12 L393.6,151.07 L393.1,151.03 L392.6,150.99 L392.1,150.95 L391.6,150.91 L391.1,150.87 L390.6,150.82 L390.1,150.78 L389.6,150.74 L389.1,150.7 L388.6,150.66 L388.1,150.61 L387.6,150.57 L387.1,150.52 L386.6,150.47 L386.1,150.42 L385.6,150.37 L385.1,150.31 L384.6,150.25 L384.1,150.19 L383.6,150.13 L383.1,150.07 L382.6,150 L382.1,149.93 L381.6,149.86 L381.1,149.79 L380.6,149.72 L380.1,149.64 L379.6,149.56 L379.1,149.49 L378.6,149.41 L378.1,149.33 L377.6,149.24 L377.1,149.16 L376.6,149.08 L376.1,148.99 L375.6,148.9 L375.1,148.82 L374.6,148.73 L374.1,148.64 L373.6,148.55 L373.1,148.46 L372.6,148.36 L372.1,148.27 L371.6,148.17 L371.1,148.07 L370.6,147.98 L370.1,147.87 L369.6,147.77 L369.1,147.66 L368.6,147.56 L368.1,147.45 L367.6,147.34 L367.1,147.22 L366.6,147.11 L366.1,146.99 L365.6,146.87 L365.1,146.75 L364.6,146.63 L364.1,146.5 L363.6,146.37 L363.1,146.24 L362.6,146.1 L362.1,145.97 L361.6,145.82 L361.1,145.68 L360.6,145.53 L360.1,145.38 L359.6,145.22 L359.1,145.07 L358.6,144.9 L358.1,144.73 L357.6,144.56 L357.1,144.39 L356.6,144.21 L356.1,144.02 L355.6,143.83 L355.1,143.64 L354.6,143.43 L354.1,143.21 L353.6,142.96 L353.1,142.7 L352.6,142.43 L352.1,142.15 L351.6,141.86 L351.1,141.57 L350.6,141.28 L350.1,140.99 L349.6,140.71 L349.1,140.44 L348.6,140.19 L348.1,139.95 L347.6,139.73 L347.1,139.54 L346.6,139.36 L346.1,139.19 L345.6,139.02 L345.1,138.86 L344.6,138.71 L344.1,138.56 L343.6,138.42 L343.1,138.28 L342.6,138.15 L342.1,138.03 L341.6,137.91 L341.1,137.81 L340.6,137.71 L340.1,137.62 L339.6,137.53 L339.1,137.46 L338.6,137.38 L338.1,137.31 L337.6,137.25 L337.1,137.19 L336.6,137.13 L336.1,137.08 L335.6,137.02 L335.1,136.97 L334.6,136.93 L334.1,136.88 L333.6,136.83 L333.1,136.79 L332.6,136.74 L332.1,136.7 L331.6,136.66 L331.1,136.61 L330.6,136.57 L330.1,136.52 L329.6,136.47 L329.1,136.42 L328.6,136.37 L328.1,136.32 L327.6,136.26 L327.1,136.2 L326.6,136.13 L326.1,136.07 L325.6,135.99 L325.1,135.92 L324.6,135.83 L324.1,135.72 L323.6,135.6 L323.1,135.47 L322.6,135.33 L322.1,135.19 L321.6,135.05 L321.1,134.92 L320.6,134.8 L320.1,134.7 L319.6,134.62 L319.1,134.57 L318.6,134.51 L318.1,134.46 L317.6,134.41 L317.1,134.36 L316.6,134.31 L316.1,134.26 L315.6,134.21 L315.1,134.17 L314.6,134.12 L314.1,134.08 L313.6,134.03 L313.1,133.99 L312.6,133.95 L312.1,133.91 L311.6,133.87 L311.1,133.83 L310.6,133.79 L310.1,133.76 L309.6,133.72 L309.1,133.69 L308.6,133.66 L308.1,133.62 L307.6,133.59 L307.1,133.57 L306.6,133.54 L306.1,133.51 L305.6,133.49 L305.1,133.47 L304.6,133.44 L304.1,133.42 L303.6,133.41 L303.1,133.39 L302.6,133.37 L302.1,133.36 L301.6,133.35 L301.1,133.33 L300.6,133.32 L300.1,133.32 L299.6,133.31 L299.1,133.3 L298.6,133.3 Z" fill="url(#g2)" stroke="none"/>
<defs><linearGradient id="g3" x1="0" y1="0" x2="0" y2="1"><stop offset="0" stop-color="#c9a2ec" stop-opacity="0.95"/><stop offset="1" stop-color="#f4eff9" stop-opacity="0.85"/></linearGradient></defs>
<path d="M298.6,131.77 L299.1,131.76 L299.6,131.76 L300.1,131.76 L300.6,131.75 L301.1,131.75 L301.6,131.76 L302.1,131.76 L302.6,131.76 L303.1,131.77 L303.6,131.78 L304.1,131.79 L304.6,131.8 L305.1,131.81 L305.6,131.82 L306.1,131.83 L306.6,131.85 L307.1,131.86 L307.6,131.88 L308.1,131.9 L308.6,131.92 L309.1,131.94 L309.6,131.96 L310.1,131.99 L310.6,132.01 L311.1,132.04 L311.6,132.07 L312.1,132.09 L312.6,132.12 L313.1,132.15 L313.6,132.18 L314.1,132.21 L314.6,132.25 L315.1,132.28 L315.6,132.31 L316.1,132.35 L316.6,132.38 L317.1,132.42 L317.6,132.46 L318.1,132.5 L318.6,132.54 L319.1,132.58 L319.6,132.62 L320.1,132.68 L320.6,132.77 L321.1,132.87 L321.6,132.99 L322.1,133.11 L322.6,133.24 L323.1,133.36 L323.6,133.48 L324.1,133.59 L324.6,133.68 L325.1,133.75 L325.6,133.82 L326.1,133.87 L326.6,133.92 L327.1,133.97 L327.6,134.02 L328.1,134.06 L328.6,134.1 L329.1,134.13 L329.6,134.17 L330.1,134.2 L330.6,134.23 L331.1,134.26 L331.6,134.28 L332.1,134.31 L332.6,134.34 L333.1,134.36 L333.6,134.39 L334.1,134.42 L334.6,134.44 L335.1,134.47 L335.6,134.51 L336.1,134.54 L336.6,134.57 L337.1,134.61 L337.6,134.65 L338.1,134.7 L338.6,134.75 L339.1,134.8 L339.6,134.86 L340.1,134.92 L340.6,134.99 L341.1,135.07 L341.6,135.15 L342.1,135.25 L342.6,135.35 L343.1,135.45 L343.6,135.57 L344.1,135.69 L344.6,135.82 L345.1,135.95 L345.6,136.08 L346.1,136.23 L346.6,136.37 L347.1,136.52 L347.6,136.69 L348.1,136.89 L348.6,137.1 L349.1,137.33 L349.6,137.57 L350.1,137.83 L350.6,138.09 L351.1,138.35 L351.6,138.61 L352.1,138.88 L352.6,139.13 L353.1,139.38 L353.6,139.61 L354.1,139.83 L354.6,140.02 L355.1,140.2 L355.6,140.37 L356.1,140.52 L356.6,140.68 L357.1,140.83 L357.6,140.97 L358.1,141.11 L358.6,141.25 L359.1,141.38 L359.6,141.51 L360.1,141.63 L360.6,141.75 L361.1,141.86 L361.6,141.97 L362.1,142.08 L362.6,142.18 L363.1,142.28 L363.6,142.38 L364.1,142.47 L364.6,142.56 L365.1,142.65 L365.6,142.73 L366.1,142.82 L366.6,142.9 L367.1,142.97 L367.6,143.05 L368.1,143.12 L368.6,143.18 L369.1,143.25 L369.6,143.31 L370.1,143.38 L370.6,143.44 L371.1,143.49 L371.6,143.55 L372.1,143.6 L372.6,143.65 L373.1,143.7 L373.6,143.74 L374.1,143.79 L374.6,143.83 L375.1,143.87 L375.6,143.91 L376.1,143.94 L376.6,143.98 L377.1,144.01 L377.6,144.05 L378.1,144.08 L378.6,144.11 L379.1,144.13 L379.6,144.16 L380.1,144.18 L380.6,144.2 L381.1,144.22 L381.6,144.23 L382.1,144.24 L382.6,144.25 L383.1,144.26 L383.6,144.27 L384.1,144.27 L384.6,144.26 L385.1,144.26 L385.6,144.25 L386.1,144.24 L386.6,144.23 L387.1,144.21 L387.6,144.19 L388.1,144.17 L388.6,144.14 L389.1,144.12 L389.6,144.09 L390.1,144.06 L390.6,144.03 L391.1,143.99 L391.6,143.96 L392.1,143.93 L392.6,143.89 L393.1,143.85 L393.6,143.82 L394.1,143.78 L394.6,143.75 L395.1,143.71 L395.6,143.67 L396.1,143.64 L396.6,143.61 L397.1,143.57 L397.6,143.53 L398.1,143.5 L398.6,143.46 L399.1,143.42 L399.6,143.38 L400.1,143.33 L400.6,143.29 L401.1,143.25 L401.6,143.2 L402.1,143.16 L402.6,143.11 L403.1,143.06 L403.6,143.01 L404.1,142.96 L404.6,142.91 L405.1,142.86 L405.6,142.8 L406.1,142.75 L406.6,142.69 L407.1,142.63 L407.6,142.57 L408.1,142.51 L408.6,142.44 L409.1,142.37 L409.6,142.31 L410.1,142.24 L410.6,142.16 L411.1,142.09 L411.6,142.01 L412.1,141.93 L412.6,141.85 L413.1,141.77 L413.6,141.68 L414.1,141.59 L414.6,141.49 L415.1,141.39 L415.6,141.29 L416.1,141.18 L416.6,141.06 L417.1,140.94 L417.6,140.81 L418.1,140.67 L418.6,140.53 L419.1,140.37 L419.6,140.21 L420.1,140.03 L420.6,139.84 L421.1,139.64 L421.6,139.41 L422.1,139.17 L422.6,138.91 L423.1,138.63 L423.6,138.33 L424.1,138 L424.6,137.63 L425.1,137.24 L425.6,136.82 L426.1,136.36 L426.6,135.85 L427.1,135.31 L427.6,134.72 L428.1,134.07 L428.6,133.38 L429.1,132.63 L429.6,131.82 L430.1,130.94 L430.6,130 L431.1,128.99 L431.6,127.91 L432.1,126.75 L432.6,125.52 L433.1,124.2 L433.6,122.81 L434.1,121.33 L434.6,119.76 L435.1,118.12 L435.6,116.39 L436.1,114.59 L436.6,112.7 L437.1,110.74 L437.6,108.7 L438.1,106.6 L438.6,104.45 L439.1,102.23 L439.6,99.97 L440.1,97.68 L440.6,95.36 L441.1,93.03 L441.6,90.7 L442.1,88.39 L442.6,86.12 L443.1,83.9 L443.6,81.75 L444.1,79.69 L444.6,77.74 L445.1,75.93 L445.6,74.29 L446.1,72.82 L446.6,71.57 L447.1,70.53 L447.6,69.73 L448.1,69.2 L448.6,68.93 L449.1,68.93 L449.6,69.22 L450.1,69.94 L450.6,71.23 L451.1,73.04 L451.6,75.39 L452.1,78.23 L452.6,81.45 L453.1,84.99 L453.6,88.74 L454.1,92.63 L454.6,96.57 L455.1,100.5 L455.6,104.39 L456.1,108.25 L456.6,112.02 L457.1,115.68 L457.6,119.2 L458.1,122.57 L458.6,125.77 L459.1,128.78 L459.6,131.6 L460.1,134.22 L460.6,136.69 L461.1,139.02 L461.6,141.22 L462.1,143.29 L462.6,145.23 L463.1,147.05 L463.6,148.75 L464.1,150.34 L464.6,151.81 L465.1,153.18 L465.6,154.44 L466.1,155.6 L466.6,156.69 L467.1,157.71 L467.6,158.67 L468.1,159.58 L468.6,160.43 L469.1,161.24 L469.6,162 L470.1,162.72 L470.6,163.41 L471.1,164.05 L471.6,164.66 L472.1,165.24 L472.6,165.79 L473.1,166.31 L473.6,166.8 L474.1,167.27 L474.6,167.71 L475.1,168.13 L475.6,168.53 L476.1,168.91 L476.6,169.27 L477.1,169.61 L477.6,169.93 L478.1,170.24 L478.6,170.53 L479.1,170.81 L479.6,171.07 L480.1,171.32 L480.6,171.56 L481.1,171.79 L481.6,172 L482.1,172.21 L482.6,172.42 L483.1,172.61 L483.6,172.79 L484.1,172.97 L484.6,173.15 L485.1,173.31 L485.6,173.47 L486.1,173.62 L486.6,173.77 L487.1,173.91 L487.6,174.05 L488.1,174.18 L488.6,174.31 L489.1,174.44 L489.6,174.56 L490.1,174.67 L490.6,174.78 L491.1,174.89 L491.6,174.99 L492.1,175.1 L492.6,175.19 L493.1,175.29 L493.6,175.38 L494.1,175.47 L494.6,175.56 L495.1,175.64 L495.6,175.72 L496.1,175.8 L496.6,175.88 L497.1,175.95 L497.6,176.02 L498.1,176.09 L498.6,176.16 L499.1,176.23 L499.6,176.29 L500.1,176.35 L500.6,176.41 L501.1,176.47 L501.6,176.53 L502.1,176.59 L502.6,176.64 L503.1,176.69 L503.6,176.74 L504.1,176.79 L504.6,176.84 L505.1,176.89 L505.6,176.94 L506.1,176.98 L506.6,177.03 L507.1,177.07 L507.6,177.11 L508.1,177.15 L508.6,177.19 L509.1,177.23 L509.6,177.27 L510.1,177.31 L510.6,177.34 L511.1,177.38 L511.6,177.41 L512.1,177.45 L512.6,177.48 L513.1,177.51 L513.6,177.55 L514.1,177.58 L514.6,177.61 L515.1,177.64 L515.6,177.66 L516.1,177.69 L516.6,177.72 L517.1,177.75 L517.6,177.77 L518.1,177.8 L518.6,177.82 L519.1,177.85 L519.6,177.87 L520.1,177.9 L520.6,177.92 L521.1,177.94 L521.6,177.96 L522.1,177.99 L522.6,178.01 L523.1,178.03 L523.6,178.05 L524.1,178.07 L524.6,178.09 L525.1,178.11 L525.6,178.13 L526.1,178.14 L526.6,178.16 L527.1,178.18 L527.6,178.2 L528.1,178.21 L528.6,178.23 L529.1,178.25 L529.6,178.26 L530.1,178.28 L530.6,178.29 L531.1,178.31 L531.6,178.32 L532.1,178.34 L532.6,178.35 L533.1,178.37 L533.6,178.38 L534.1,178.39 L534.6,178.41 L535.1,178.42 L535.6,178.43 L536.1,178.44 L536.1,179.5 L535.6,179.5 L535.1,179.5 L534.6,179.5 L534.1,179.5 L533.6,179.5 L533.1,179.5 L532.6,179.5 L532.1,179.5 L531.6,179.5 L531.1,179.5 L530.6,179.5 L530.1,179.5 L529.6,179.5 L529.1,179.5 L528.6,179.5 L528.1,179.49 L527.6,179.49 L527.1,179.49 L526.6,179.49 L526.1,179.49 L525.6,179.49 L525.1,179.49 L524.6,179.49 L524.1,179.49 L523.6,179.49 L523.1,179.49 L522.6,179.49 L522.1,179.48 L521.6,179.48 L521.1,179.48 L520.6,179.48 L520.1,179.48 L519.6,179.48 L519.1,179.48 L518.6,179.48 L518.1,179.47 L517.6,179.47 L517.1,179.47 L516.6,179.47 L516.1,179.47 L515.6,179.47 L515.1,179.46 L514.6,179.46 L514.1,179.46 L513.6,179.46 L513.1,179.46 L512.6,179.45 L512.1,179.45 L511.6,179.45 L511.1,179.45 L510.6,179.45 L510.1,179.44 L509.6,179.44 L509.1,179.44 L508.6,179.44 L508.1,179.43 L507.6,179.43 L507.1,179.43 L506.6,179.43 L506.1,179.42 L505.6,179.42 L505.1,179.42 L504.6,179.42 L504.1,179.41 L503.6,179.41 L503.1,179.41 L502.6,179.4 L502.1,179.4 L501.6,179.4 L501.1,179.39 L500.6,179.39 L500.1,179.39 L499.6,179.38 L499.1,179.38 L498.6,179.38 L498.1,179.37 L497.6,179.37 L497.1,179.37 L496.6,179.36 L496.1,179.36 L495.6,179.35 L495.1,179.35 L494.6,179.35 L494.1,179.34 L493.6,179.34 L493.1,179.33 L492.6,179.33 L492.1,179.33 L491.6,179.32 L491.1,179.32 L490.6,179.31 L490.1,179.31 L489.6,179.3 L489.1,179.3 L488.6,179.29 L488.1,179.29 L487.6,179.28 L487.1,179.28 L486.6,179.27 L486.1,179.27 L485.6,179.26 L485.1,179.26 L484.6,179.25 L484.1,179.25 L483.6,179.24 L483.1,179.24 L482.6,179.23 L482.1,179.22 L481.6,179.22 L481.1,179.21 L480.6,179.21 L480.1,179.2 L479.6,179.19 L479.1,179.18 L478.6,179.17 L478.1,179.16 L477.6,179.14 L477.1,179.12 L476.6,179.1 L476.1,179.07 L475.6,179.05 L475.1,179.01 L474.6,178.98 L474.1,178.95 L473.6,178.91 L473.1,178.87 L472.6,178.82 L472.1,178.78 L471.6,178.73 L471.1,178.68 L470.6,178.62 L470.1,178.57 L469.6,178.51 L469.1,178.44 L468.6,178.38 L468.1,178.31 L467.6,178.24 L467.1,178.17 L466.6,178.09 L466.1,178.02 L465.6,177.92 L465.1,177.8 L464.6,177.65 L464.1,177.46 L463.6,177.25 L463.1,177.02 L462.6,176.76 L462.1,176.49 L461.6,176.2 L461.1,175.9 L460.6,175.59 L460.1,175.27 L459.6,174.92 L459.1,174.51 L458.6,174.05 L458.1,173.55 L457.6,173.02 L457.1,172.45 L456.6,171.87 L456.1,171.28 L455.6,170.69 L455.1,170.11 L454.6,169.53 L454.1,168.89 L453.6,168.22 L453.1,167.54 L452.6,166.87 L452.1,166.23 L451.6,165.63 L451.1,165.1 L450.6,164.62 L450.1,164.17 L449.6,163.72 L449.1,163.3 L448.6,162.89 L448.1,162.5 L447.6,162.13 L447.1,161.77 L446.6,161.44 L446.1,161.12 L445.6,160.83 L445.1,160.55 L444.6,160.3 L444.1,160.06 L443.6,159.84 L443.1,159.62 L442.6,159.42 L442.1,159.23 L441.6,159.05 L441.1,158.87 L440.6,158.7 L440.1,158.53 L439.6,158.37 L439.1,158.21 L438.6,158.05 L438.1,157.89 L437.6,157.74 L437.1,157.59 L436.6,157.44 L436.1,157.3 L435.6,157.16 L435.1,157.02 L434.6,156.88 L434.1,156.75 L433.6,156.62 L433.1,156.5 L432.6,156.37 L432.1,156.26 L431.6,156.14 L431.1,156.03 L430.6,155.92 L430.1,155.82 L429.6,155.72 L429.1,155.62 L428.6,155.53 L428.1,155.44 L427.6,155.35 L427.1,155.26 L426.6,155.18 L426.1,155.1 L425.6,155.02 L425.1,154.94 L424.6,154.86 L424.1,154.79 L423.6,154.71 L423.1,154.64 L422.6,154.57 L422.1,154.5 L421.6,154.43 L421.1,154.35 L420.6,154.28 L420.1,154.21 L419.6,154.14 L419.1,154.07 L418.6,154.01 L418.1,153.94 L417.6,153.87 L417.1,153.8 L416.6,153.73 L416.1,153.67 L415.6,153.6 L415.1,153.53 L414.6,153.47 L414.1,153.4 L413.6,153.34 L413.1,153.27 L412.6,153.21 L412.1,153.14 L411.6,153.08 L411.1,153.02 L410.6,152.95 L410.1,152.89 L409.6,152.83 L409.1,152.77 L408.6,152.71 L408.1,152.65 L407.6,152.59 L407.1,152.53 L406.6,152.47 L406.1,152.41 L405.6,152.35 L405.1,152.29 L404.6,152.23 L404.1,152.18 L403.6,152.12 L403.1,152.06 L402.6,152.01 L402.1,151.95 L401.6,151.9 L401.1,151.84 L400.6,151.79 L400.1,151.73 L399.6,151.68 L399.1,151.62 L398.6,151.57 L398.1,151.52 L397.6,151.47 L397.1,151.41 L396.6,151.36 L396.1,151.31 L395.6,151.26 L395.1,151.21 L394.6,151.16 L394.1,151.12 L393.6,151.07 L393.1,151.03 L392.6,150.99 L392.1,150.95 L391.6,150.91 L391.1,150.87 L390.6,150.82 L390.1,150.78 L389.6,150.74 L389.1,150.7 L388.6,150.66 L388.1,150.61 L387.6,150.57 L387.1,150.52 L386.6,150.47 L386.1,150.42 L385.6,150.37 L385.1,150.31 L384.6,150.25 L384.1,150.19 L383.6,150.13 L383.1,150.07 L382.6,150 L382.1,149.93 L381.6,149.86 L381.1,149.79 L380.6,149.72 L380.1,149.64 L379.6,149.56 L379.1,149.49 L378.6,149.41 L378.1,149.33 L377.6,149.24 L377.1,149.16 L376.6,149.08 L376.1,148.99 L375.6,148.9 L375.1,148.82 L374.6,148.73 L374.1,148.64 L373.6,148.55 L373.1,148.46 L372.6,148.36 L372.1,148.27 L371.6,148.17 L371.1,148.07 L370.6,147.98 L370.1,147.87 L369.6,147.77 L369.1,147.66 L368.6,147.56 L368.1,147.45 L367.6,147.34 L367.1,147.22 L366.6,147.11 L366.1,146.99 L365.6,146.87 L365.1,146.75 L364.6,146.63 L364.1,146.5 L363.6,146.37 L363.1,146.24 L362.6,146.1 L362.1,145.97 L361.6,145.82 L361.1,145.68 L360.6,145.53 L360.1,145.38 L359.6,145.22 L359.1,145.07 L358.6,144.9 L358.1,144.73 L357.6,144.56 L357.1,144.39 L356.6,144.21 L356.1,144.02 L355.6,143.83 L355.1,143.64 L354.6,143.43 L354.1,143.21 L353.6,142.96 L353.1,142.7 L352.6,142.43 L352.1,142.15 L351.6,141.86 L351.1,141.57 L350.6,141.28 L350.1,140.99 L349.6,140.71 L349.1,140.44 L348.6,140.19 L348.1,139.95 L347.6,139.73 L347.1,139.54 L346.6,139.36 L346.1,139.19 L345.6,139.02 L345.1,138.86 L344.6,138.71 L344.1,138.56 L343.6,138.42 L343.1,138.28 L342.6,138.15 L342.1,138.03 L341.6,137.91 L341.1,137.81 L340.6,137.71 L340.1,137.62 L339.6,137.53 L339.1,137.46 L338.6,137.38 L338.1,137.31 L337.6,137.25 L337.1,137.19 L336.6,137.13 L336.1,137.08 L335.6,137.02 L335.1,136.97 L334.6,136.93 L334.1,136.88 L333.6,136.83 L333.1,136.79 L332.6,136.74 L332.1,136.7 L331.6,136.66 L331.1,136.61 L330.6,136.57 L330.1,136.52 L329.6,136.47 L329.1,136.42 L328.6,136.37 L328.1,136.32 L327.6,136.26 L327.1,136.2 L326.6,136.13 L326.1,136.07 L325.6,135.99 L325.1,135.92 L324.6,135.83 L324.1,135.72 L323.6,135.6 L323.1,135.47 L322.6,135.33 L322.1,135.19 L321.6,135.05 L321.1,134.92 L320.6,134.8 L320.1,134.7 L319.6,134.62 L319.1,134.57 L318.6,134.51 L318.1,134.46 L317.6,134.41 L317.1,134.36 L316.6,134.31 L316.1,134.26 L315.6,134.21 L315.1,134.17 L314.6,134.12 L314.1,134.08 L313.6,134.03 L313.1,133.99 L312.6,133.95 L312.1,133.91 L311.6,133.87 L311.1,133.83 L310.6,133.79 L310.1,133.76 L309.6,133.72 L309.1,133.69 L308.6,133.66 L308.1,133.62 L307.6,133.59 L307.1,133.57 L306.6,133.54 L306.1,133.51 L305.6,133.49 L305.1,133.47 L304.6,133.44 L304.1,133.42 L303.6,133.41 L303.1,133.39 L302.6,133.37 L302.1,133.36 L301.6,133.35 L301.1,133.33 L300.6,133.32 L300.1,133.32 L299.6,133.31 L299.1,133.3 L298.6,133.3 Z" fill="url(#g3)" stroke="none"/>
<path d="M298.9,130.38 L299.7,130.33 L300.5,128.67 L301.3,129.39 L302.1,129.3 L302.9,129.23 L303.7,128.53 L304.5,129.18 L305.3,129.14 L306.1,128.87 L306.9,128.78 L307.7,128.55 L308.5,128.88 L309.3,128.61 L310.1,128.73 L310.9,128.16 L311.7,128.76 L312.5,128.57 L313.3,126.82 L314.1,128.41 L314.9,125.77 L315.7,128.47 L316.5,128.17 L317.3,123.82 L318.1,128.31 L318.9,126.39 L319.7,127.89 L320.5,126.8 L321.3,127.57 L322.1,115.55 L322.9,127.72 L323.7,126.06 L324.5,127.16 L325.3,126.16 L326.1,125.5 L326.9,124.89 L327.7,125.63 L328.5,123.72 L329.3,124.69 L330.1,122.56 L330.9,123.47 L331.7,121.42 L332.5,121.4 L333.3,120.26 L334.1,119.05 L334.9,117.66 L335.7,114.98 L336.5,113.25 L337.3,113.16 L338.1,111.05 L338.9,109.03 L339.7,105.27 L340.5,103.34 L341.3,97.99 L342.1,99.13 L342.9,96.64 L343.7,93.85 L344.5,89.77 L345.3,88.25 L346.1,84.66 L346.9,82.84 L347.7,79.21 L348.5,78.54 L349.3,76.78 L350.1,75.96 L350.9,75.52 L351.7,75.51 L352.5,76.63 L353.3,78.11 L354.1,79.46 L354.9,82.11 L355.7,84.62 L356.5,87.75 L357.3,89.05 L358.1,94.08 L358.9,97.18 L359.7,100.03 L360.5,98.54 L361.3,106.63 L362.1,109.15 L362.9,112.01 L363.7,111.33 L364.5,117.26 L365.3,116.16 L366.1,121.35 L366.9,116.46 L367.7,125.11 L368.5,126.79 L369.3,128.21 L370.1,128.9 L370.9,130.32 L371.7,130.29 L372.5,132.27 L373.3,132.64 L374.1,134.06 L374.9,133.94 L375.7,134.69 L376.5,135.06 L377.3,135.85 L378.1,135.38 L378.9,136.69 L379.7,134.33 L380.5,137.18 L381.3,135.07 L382.1,136.84 L382.9,133.53 L383.7,138.08 L384.5,136.48 L385.3,138.04 L386.1,130.98 L386.9,137.88 L387.7,132.06 L388.5,137.86 L389.3,128.41 L390.1,138.46 L390.9,136.53 L391.7,138.95 L392.5,138.55 L393.3,138.98 L394.1,138.83 L394.9,137.94 L395.7,138.26 L396.5,138.64 L397.3,135.62 L398.1,138.64 L398.9,138.67 L399.7,138.46 L400.5,132.4 L401.3,138.33 L402.1,136.08 L402.9,137.8 L403.7,133.02 L404.5,136.66 L405.3,138.03 L406.1,138.05 L406.9,135.66 L407.7,137.85 L408.5,133.26 L409.3,137.17 L410.1,133.04 L410.9,135.05 L411.7,137.84 L412.5,137.61 L413.3,137.66 L414.1,137.32 L414.9,128.9 L415.7,137.17 L416.5,136.85 L417.3,137.12 L418.1,133.92 L418.9,136.44 L419.7,131.78 L420.5,135.25 L421.3,135.72 L422.1,135.65 L422.9,127.81 L423.7,134.85 L424.5,133.07 L425.3,133.28 L426.1,129.25 L426.9,130.8 L427.7,131.06 L428.5,129.1 L429.3,128.62 L430.1,126.58 L430.9,125.65 L431.7,124.09 L432.5,122.04 L433.3,116.94 L434.1,117.5 L434.9,109.54 L435.7,110.17 L436.5,107.5 L437.3,105.52 L438.1,94.5 L438.9,98.3 L439.7,91.35 L440.5,90.46 L441.3,83.04 L442.1,81.05 L442.9,70.08 L443.7,73.37 L444.5,66.47 L445.3,66.44 L446.1,63.27 L446.9,60.58 L447.7,57.69 L448.5,55.87 L449.3,52.4 L450.1,52.78 L450.9,50.03 L451.7,52.27 L452.5,51.92 L453.3,51.84 L454.1,49.43 L454.9,46.5 L455.7,39.75 L456.5,31.88 L457.3,23.83 L458.1,20.4 L458.9,25.59 L459.7,37.08 L460.5,53.28 L461.3,71.25 L462.1,87.7 L462.9,102.34 L463.7,113.38 L464.5,122.62 L465.3,129.11 L466.1,134.4 L466.9,138.41 L467.7,142.4 L468.5,145.3 L469.3,148.22 L470.1,150.82 L470.9,152.97 L471.7,154.63 L472.5,156.73 L473.3,157.01 L474.1,159.62 L474.9,160.6 L475.7,162.07 L476.5,162.75 L477.3,164.05 L478.1,164.46 L478.9,165.59 L479.7,166.37 L480.5,166.81 L481.3,167.32 L482.1,168.16 L482.9,166.95 L483.7,168.95 L484.5,167.34 L485.3,169.66 L486.1,169.93 L486.9,170.73 L487.7,168.28 L488.5,171.36 L489.3,171.67 L490.1,171.66 L490.9,172 L491.7,172.05 L492.5,171.53 L493.3,172.63 L494.1,169.09 L494.9,172.66 L495.7,171.99 L496.5,172.46 L497.3,169.75 L498.1,173.91 L498.9,173.69 L499.7,174.04 L500.5,172.19 L501.3,174.57 L502.1,172.93 L502.9,174.54 L503.7,173.04 L504.5,174.89 L505.3,174.85 L506.1,173.88 L506.9,171.04 L507.7,174.9 L508.5,170.99 L509.3,175.37 L510.1,175.59 L510.9,174.99 L511.7,175.11 L512.5,175.76 L513.3,173.74 L514.1,172.4 L514.9,175.18 L515.7,175.76 L516.5,169.28 L517.3,175.52 L518.1,175.08 L518.9,176.34 L519.7,173.22 L520.5,176.53 L521.3,175.21 L522.1,176.58 L522.9,175.33 L523.7,176.53 L524.5,176.13 L525.3,176.82 L526.1,173.77 L526.9,176.02 L527.7,170.64 L528.5,176.84 L529.3,173.42 L530.1,176.95 L530.9,176.71 L531.7,176.21 L532.5,173.63 L533.3,176.57 L534.1,176.02 L534.9,176.74 L535.7,173.88" fill="none" stroke="#aaaaaa" stroke-width="0.95" stroke-linejoin="miter"/>
<path d="M298.6,131.02 L299.1,131.01 L299.6,131.01 L300.1,131.01 L300.6,131.01 L301.1,131 L301.6,131 L302.1,131 L302.6,130.99 L303.1,130.99 L303.6,130.99 L304.1,130.98 L304.6,130.98 L305.1,130.97 L305.6,130.96 L306.1,130.96 L306.6,130.95 L307.1,130.94 L307.6,130.93 L308.1,130.92 L308.6,130.91 L309.1,130.9 L309.6,130.89 L310.1,130.88 L310.6,130.86 L311.1,130.85 L311.6,130.83 L312.1,130.81 L312.6,130.79 L313.1,130.77 L313.6,130.74 L314.1,130.72 L314.6,130.69 L315.1,130.66 L315.6,130.63 L316.1,130.59 L316.6,130.55 L317.1,130.51 L317.6,130.47 L318.1,130.42 L318.6,130.37 L319.1,130.31 L319.6,130.25 L320.1,130.18 L320.6,130.11 L321.1,130.03 L321.6,129.95 L322.1,129.86 L322.6,129.76 L323.1,129.66 L323.6,129.54 L324.1,129.42 L324.6,129.28 L325.1,129.13 L325.6,128.97 L326.1,128.79 L326.6,128.6 L327.1,128.39 L327.6,128.16 L328.1,127.9 L328.6,127.63 L329.1,127.33 L329.6,127 L330.1,126.65 L330.6,126.26 L331.1,125.84 L331.6,125.38 L332.1,124.89 L332.6,124.35 L333.1,123.77 L333.6,123.14 L334.1,122.46 L334.6,121.74 L335.1,120.96 L335.6,120.12 L336.1,119.23 L336.6,118.28 L337.1,117.26 L337.6,116.19 L338.1,115.05 L338.6,113.86 L339.1,112.6 L339.6,111.27 L340.1,109.89 L340.6,108.45 L341.1,106.95 L341.6,105.41 L342.1,103.81 L342.6,102.18 L343.1,100.51 L343.6,98.81 L344.1,97.09 L344.6,95.37 L345.1,93.65 L345.6,91.95 L346.1,90.28 L346.6,88.67 L347.1,87.13 L347.6,85.69 L348.1,84.36 L348.6,83.16 L349.1,82.12 L349.6,81.26 L350.1,80.59 L350.6,80.14 L351.1,79.9 L351.6,79.9 L352.1,80.13 L352.6,80.59 L353.1,81.28 L353.6,82.18 L354.1,83.28 L354.6,84.56 L355.1,85.99 L355.6,87.56 L356.1,89.25 L356.6,91.03 L357.1,92.89 L357.6,94.8 L358.1,96.74 L358.6,98.7 L359.1,100.67 L359.6,102.64 L360.1,104.58 L360.6,106.5 L361.1,108.38 L361.6,110.21 L362.1,112 L362.6,113.74 L363.1,115.42 L363.6,117.04 L364.1,118.61 L364.6,120.11 L365.1,121.54 L365.6,122.92 L366.1,124.24 L366.6,125.5 L367.1,126.71 L367.6,127.86 L368.1,128.95 L368.6,130 L369.1,130.98 L369.6,131.92 L370.1,132.81 L370.6,133.65 L371.1,134.45 L371.6,135.2 L372.1,135.91 L372.6,136.58 L373.1,137.2 L373.6,137.79 L374.1,138.35 L374.6,138.88 L375.1,139.38 L375.6,139.85 L376.1,140.31 L376.6,140.74 L377.1,141.16 L377.6,141.56 L378.1,141.94 L378.6,142.3 L379.1,142.65 L379.6,142.99 L380.1,143.31 L380.6,143.62 L381.1,143.92 L381.6,144.2 L382.1,144.48 L382.6,144.74 L383.1,144.99 L383.6,145.23 L384.1,145.46 L384.6,145.68 L385.1,145.89 L385.6,146.09 L386.1,146.28 L386.6,146.46 L387.1,146.64 L387.6,146.81 L388.1,146.98 L388.6,147.14 L389.1,147.29 L389.6,147.44 L390.1,147.59 L390.6,147.73 L391.1,147.87 L391.6,148.01 L392.1,148.14 L392.6,148.28 L393.1,148.41 L393.6,148.54 L394.1,148.67 L394.6,148.79 L395.1,148.92 L395.6,149.05 L396.1,149.18 L396.6,149.31 L397.1,149.44 L397.6,149.57 L398.1,149.7 L398.6,149.83 L399.1,149.96 L399.6,150.09 L400.1,150.22 L400.6,150.34 L401.1,150.47 L401.6,150.59 L402.1,150.72 L402.6,150.84 L403.1,150.95 L403.6,151.07 L404.1,151.18 L404.6,151.3 L405.1,151.41 L405.6,151.51 L406.1,151.62 L406.6,151.72 L407.1,151.81 L407.6,151.91 L408.1,152 L408.6,152.09 L409.1,152.17 L409.6,152.26 L410.1,152.34 L410.6,152.42 L411.1,152.5 L411.6,152.57 L412.1,152.65 L412.6,152.73 L413.1,152.8 L413.6,152.88 L414.1,152.95 L414.6,153.03 L415.1,153.1 L415.6,153.18 L416.1,153.25 L416.6,153.33 L417.1,153.41 L417.6,153.49 L418.1,153.57 L418.6,153.65 L419.1,153.73 L419.6,153.81 L420.1,153.89 L420.6,153.97 L421.1,154.05 L421.6,154.13 L422.1,154.21 L422.6,154.29 L423.1,154.37 L423.6,154.45 L424.1,154.53 L424.6,154.61 L425.1,154.7 L425.6,154.78 L426.1,154.87 L426.6,154.96 L427.1,155.04 L427.6,155.13 L428.1,155.22 L428.6,155.32 L429.1,155.41 L429.6,155.51 L430.1,155.61 L430.6,155.71 L431.1,155.81 L431.6,155.91 L432.1,156.01 L432.6,156.12 L433.1,156.23 L433.6,156.34 L434.1,156.45 L434.6,156.57 L435.1,156.68 L435.6,156.8 L436.1,156.93 L436.6,157.05 L437.1,157.18 L437.6,157.32 L438.1,157.46 L438.6,157.6 L439.1,157.74 L439.6,157.89 L440.1,158.05 L440.6,158.21 L441.1,158.39 L441.6,158.58 L442.1,158.78 L442.6,158.99 L443.1,159.2 L443.6,159.42 L444.1,159.65 L444.6,159.88 L445.1,160.12 L445.6,160.4 L446.1,160.7 L446.6,161.02 L447.1,161.36 L447.6,161.71 L448.1,162.09 L448.6,162.49 L449.1,162.9 L449.6,163.33 L450.1,163.78 L450.6,164.24 L451.1,164.71 L451.6,165.25 L452.1,165.85 L452.6,166.5 L453.1,167.17 L453.6,167.86 L454.1,168.53 L454.6,169.17 L455.1,169.76 L455.6,170.34 L456.1,170.94 L456.6,171.53 L457.1,172.11 L457.6,172.68 L458.1,173.22 L458.6,173.72 L459.1,174.18 L459.6,174.59 L460.1,174.94 L460.6,175.27 L461.1,175.58 L461.6,175.89 L462.1,176.18 L462.6,176.46 L463.1,176.71 L463.6,176.95 L464.1,177.16 L464.6,177.35 L465.1,177.51 L465.6,177.63 L466.1,177.73 L466.6,177.81 L467.1,177.88 L467.6,177.96 L468.1,178.03 L468.6,178.1 L469.1,178.17 L469.6,178.23 L470.1,178.29 L470.6,178.35 L471.1,178.41 L471.6,178.46 L472.1,178.51 L472.6,178.56 L473.1,178.61 L473.6,178.65 L474.1,178.69 L474.6,178.73 L475.1,178.76 L475.6,178.8 L476.1,178.83 L476.6,178.85 L477.1,178.88 L477.6,178.9 L478.1,178.92 L478.6,178.94 L479.1,178.95 L479.6,178.96 L480.1,178.97 L480.6,178.98 L481.1,178.99 L481.6,178.99 L482.1,179 L482.6,179.01 L483.1,179.02 L483.6,179.02 L484.1,179.03 L484.6,179.04 L485.1,179.04 L485.6,179.05 L486.1,179.06 L486.6,179.06 L487.1,179.07 L487.6,179.08 L488.1,179.08 L488.6,179.09 L489.1,179.1 L489.6,179.1 L490.1,179.11 L490.6,179.11 L491.1,179.12 L491.6,179.13 L492.1,179.13 L492.6,179.14 L493.1,179.14 L493.6,179.15 L494.1,179.15 L494.6,179.16 L495.1,179.17 L495.6,179.17 L496.1,179.18 L496.6,179.18 L497.1,179.19 L497.6,179.19 L498.1,179.2 L498.6,179.2 L499.1,179.21 L499.6,179.21 L500.1,179.21 L500.6,179.22 L501.1,179.22 L501.6,179.23 L502.1,179.23 L502.6,179.24 L503.1,179.24 L503.6,179.24 L504.1,179.25 L504.6,179.25 L505.1,179.26 L505.6,179.26 L506.1,179.26 L506.6,179.27 L507.1,179.27 L507.6,179.27 L508.1,179.28 L508.6,179.28 L509.1,179.29 L509.6,179.29 L510.1,179.29 L510.6,179.29 L511.1,179.3 L511.6,179.3 L512.1,179.3 L512.6,179.31 L513.1,179.31 L513.6,179.31 L514.1,179.32 L514.6,179.32 L515.1,179.32 L515.6,179.32 L516.1,179.33 L516.6,179.33 L517.1,179.33 L517.6,179.33 L518.1,179.34 L518.6,179.34 L519.1,179.34 L519.6,179.34 L520.1,179.34 L520.6,179.35 L521.1,179.35 L521.6,179.35 L522.1,179.35 L522.6,179.35 L523.1,179.36 L523.6,179.36 L524.1,179.36 L524.6,179.36 L525.1,179.36 L525.6,179.36 L526.1,179.37 L526.6,179.37 L527.1,179.37 L527.6,179.37 L528.1,179.37 L528.6,179.37 L529.1,179.37 L529.6,179.38 L530.1,179.38 L530.6,179.38 L531.1,179.38 L531.6,179.38 L532.1,179.38 L532.6,179.38 L533.1,179.38 L533.6,179.38 L534.1,179.38 L534.6,179.39 L535.1,179.39 L535.6,179.39 L536.1,179.39" fill="none" stroke="#2156d6" stroke-width="1.5" stroke-linejoin="round"/>
<path d="M298.6,131.77 L299.1,131.76 L299.6,131.76 L300.1,131.76 L300.6,131.75 L301.1,131.75 L301.6,131.76 L302.1,131.76 L302.6,131.76 L303.1,131.77 L303.6,131.78 L304.1,131.79 L304.6,131.8 L305.1,131.81 L305.6,131.82 L306.1,131.83 L306.6,131.85 L307.1,131.86 L307.6,131.88 L308.1,131.9 L308.6,131.92 L309.1,131.94 L309.6,131.96 L310.1,131.99 L310.6,132.01 L311.1,132.04 L311.6,132.07 L312.1,132.09 L312.6,132.12 L313.1,132.15 L313.6,132.18 L314.1,132.21 L314.6,132.25 L315.1,132.28 L315.6,132.31 L316.1,132.35 L316.6,132.38 L317.1,132.42 L317.6,132.46 L318.1,132.5 L318.6,132.54 L319.1,132.58 L319.6,132.62 L320.1,132.68 L320.6,132.77 L321.1,132.87 L321.6,132.99 L322.1,133.11 L322.6,133.24 L323.1,133.36 L323.6,133.48 L324.1,133.59 L324.6,133.68 L325.1,133.75 L325.6,133.82 L326.1,133.87 L326.6,133.92 L327.1,133.97 L327.6,134.02 L328.1,134.06 L328.6,134.1 L329.1,134.13 L329.6,134.17 L330.1,134.2 L330.6,134.23 L331.1,134.26 L331.6,134.28 L332.1,134.31 L332.6,134.34 L333.1,134.36 L333.6,134.39 L334.1,134.42 L334.6,134.44 L335.1,134.47 L335.6,134.51 L336.1,134.54 L336.6,134.57 L337.1,134.61 L337.6,134.65 L338.1,134.7 L338.6,134.75 L339.1,134.8 L339.6,134.86 L340.1,134.92 L340.6,134.99 L341.1,135.07 L341.6,135.15 L342.1,135.25 L342.6,135.35 L343.1,135.45 L343.6,135.57 L344.1,135.69 L344.6,135.82 L345.1,135.95 L345.6,136.08 L346.1,136.23 L346.6,136.37 L347.1,136.52 L347.6,136.69 L348.1,136.89 L348.6,137.1 L349.1,137.33 L349.6,137.57 L350.1,137.83 L350.6,138.09 L351.1,138.35 L351.6,138.61 L352.1,138.88 L352.6,139.13 L353.1,139.38 L353.6,139.61 L354.1,139.83 L354.6,140.02 L355.1,140.2 L355.6,140.37 L356.1,140.52 L356.6,140.68 L357.1,140.83 L357.6,140.97 L358.1,141.11 L358.6,141.25 L359.1,141.38 L359.6,141.51 L360.1,141.63 L360.6,141.75 L361.1,141.86 L361.6,141.97 L362.1,142.08 L362.6,142.18 L363.1,142.28 L363.6,142.38 L364.1,142.47 L364.6,142.56 L365.1,142.65 L365.6,142.73 L366.1,142.82 L366.6,142.9 L367.1,142.97 L367.6,143.05 L368.1,143.12 L368.6,143.18 L369.1,143.25 L369.6,143.31 L370.1,143.38 L370.6,143.44 L371.1,143.49 L371.6,143.55 L372.1,143.6 L372.6,143.65 L373.1,143.7 L373.6,143.74 L374.1,143.79 L374.6,143.83 L375.1,143.87 L375.6,143.91 L376.1,143.94 L376.6,143.98 L377.1,144.01 L377.6,144.05 L378.1,144.08 L378.6,144.11 L379.1,144.13 L379.6,144.16 L380.1,144.18 L380.6,144.2 L381.1,144.22 L381.6,144.23 L382.1,144.24 L382.6,144.25 L383.1,144.26 L383.6,144.27 L384.1,144.27 L384.6,144.26 L385.1,144.26 L385.6,144.25 L386.1,144.24 L386.6,144.23 L387.1,144.21 L387.6,144.19 L388.1,144.17 L388.6,144.14 L389.1,144.12 L389.6,144.09 L390.1,144.06 L390.6,144.03 L391.1,143.99 L391.6,143.96 L392.1,143.93 L392.6,143.89 L393.1,143.85 L393.6,143.82 L394.1,143.78 L394.6,143.75 L395.1,143.71 L395.6,143.67 L396.1,143.64 L396.6,143.61 L397.1,143.57 L397.6,143.53 L398.1,143.5 L398.6,143.46 L399.1,143.42 L399.6,143.38 L400.1,143.33 L400.6,143.29 L401.1,143.25 L401.6,143.2 L402.1,143.16 L402.6,143.11 L403.1,143.06 L403.6,143.01 L404.1,142.96 L404.6,142.91 L405.1,142.86 L405.6,142.8 L406.1,142.75 L406.6,142.69 L407.1,142.63 L407.6,142.57 L408.1,142.51 L408.6,142.44 L409.1,142.37 L409.6,142.31 L410.1,142.24 L410.6,142.16 L411.1,142.09 L411.6,142.01 L412.1,141.93 L412.6,141.85 L413.1,141.77 L413.6,141.68 L414.1,141.59 L414.6,141.49 L415.1,141.39 L415.6,141.29 L416.1,141.18 L416.6,141.06 L417.1,140.94 L417.6,140.81 L418.1,140.67 L418.6,140.53 L419.1,140.37 L419.6,140.21 L420.1,140.03 L420.6,139.84 L421.1,139.64 L421.6,139.41 L422.1,139.17 L422.6,138.91 L423.1,138.63 L423.6,138.33 L424.1,138 L424.6,137.63 L425.1,137.24 L425.6,136.82 L426.1,136.36 L426.6,135.85 L427.1,135.31 L427.6,134.72 L428.1,134.07 L428.6,133.38 L429.1,132.63 L429.6,131.82 L430.1,130.94 L430.6,130 L431.1,128.99 L431.6,127.91 L432.1,126.75 L432.6,125.52 L433.1,124.2 L433.6,122.81 L434.1,121.33 L434.6,119.76 L435.1,118.12 L435.6,116.39 L436.1,114.59 L436.6,112.7 L437.1,110.74 L437.6,108.7 L438.1,106.6 L438.6,104.45 L439.1,102.23 L439.6,99.97 L440.1,97.68 L440.6,95.36 L441.1,93.03 L441.6,90.7 L442.1,88.39 L442.6,86.12 L443.1,83.9 L443.6,81.75 L444.1,79.69 L444.6,77.74 L445.1,75.93 L445.6,74.29 L446.1,72.82 L446.6,71.57 L447.1,70.53 L447.6,69.73 L448.1,69.2 L448.6,68.93 L449.1,68.93 L449.6,69.22 L450.1,69.94 L450.6,71.23 L451.1,73.04 L451.6,75.39 L452.1,78.23 L452.6,81.45 L453.1,84.99 L453.6,88.74 L454.1,92.63 L454.6,96.57 L455.1,100.5 L455.6,104.39 L456.1,108.25 L456.6,112.02 L457.1,115.68 L457.6,119.2 L458.1,122.57 L458.6,125.77 L459.1,128.78 L459.6,131.6 L460.1,134.22 L460.6,136.69 L461.1,139.02 L461.6,141.22 L462.1,143.29 L462.6,145.23 L463.1,147.05 L463.6,148.75 L464.1,150.34 L464.6,151.81 L465.1,153.18 L465.6,154.44 L466.1,155.6 L466.6,156.69 L467.1,157.71 L467.6,158.67 L468.1,159.58 L468.6,160.43 L469.1,161.24 L469.6,162 L470.1,162.72 L470.6,163.41 L471.1,164.05 L471.6,164.66 L472.1,165.24 L472.6,165.79 L473.1,166.31 L473.6,166.8 L474.1,167.27 L474.6,167.71 L475.1,168.13 L475.6,168.53 L476.1,168.91 L476.6,169.27 L477.1,169.61 L477.6,169.93 L478.1,170.24 L478.6,170.53 L479.1,170.81 L479.6,171.07 L480.1,171.32 L480.6,171.56 L481.1,171.79 L481.6,172 L482.1,172.21 L482.6,172.42 L483.1,172.61 L483.6,172.79 L484.1,172.97 L484.6,173.15 L485.1,173.31 L485.6,173.47 L486.1,173.62 L486.6,173.77 L487.1,173.91 L487.6,174.05 L488.1,174.18 L488.6,174.31 L489.1,174.44 L489.6,174.56 L490.1,174.67 L490.6,174.78 L491.1,174.89 L491.6,174.99 L492.1,175.1 L492.6,175.19 L493.1,175.29 L493.6,175.38 L494.1,175.47 L494.6,175.56 L495.1,175.64 L495.6,175.72 L496.1,175.8 L496.6,175.88 L497.1,175.95 L497.6,176.02 L498.1,176.09 L498.6,176.16 L499.1,176.23 L499.6,176.29 L500.1,176.35 L500.6,176.41 L501.1,176.47 L501.6,176.53 L502.1,176.59 L502.6,176.64 L503.1,176.69 L503.6,176.74 L504.1,176.79 L504.6,176.84 L505.1,176.89 L505.6,176.94 L506.1,176.98 L506.6,177.03 L507.1,177.07 L507.6,177.11 L508.1,177.15 L508.6,177.19 L509.1,177.23 L509.6,177.27 L510.1,177.31 L510.6,177.34 L511.1,177.38 L511.6,177.41 L512.1,177.45 L512.6,177.48 L513.1,177.51 L513.6,177.55 L514.1,177.58 L514.6,177.61 L515.1,177.64 L515.6,177.66 L516.1,177.69 L516.6,177.72 L517.1,177.75 L517.6,177.77 L518.1,177.8 L518.6,177.82 L519.1,177.85 L519.6,177.87 L520.1,177.9 L520.6,177.92 L521.1,177.94 L521.6,177.96 L522.1,177.99 L522.6,178.01 L523.1,178.03 L523.6,178.05 L524.1,178.07 L524.6,178.09 L525.1,178.11 L525.6,178.13 L526.1,178.14 L526.6,178.16 L527.1,178.18" fill="none" stroke="#b792e6" stroke-width="1.5" stroke-linejoin="round"/>
<path d="M420.1,140.03 L420.6,139.84 L421.1,139.64 L421.6,139.41 L422.1,139.17 L422.6,138.91 L423.1,138.63 L423.6,138.33 L424.1,138 L424.6,137.63 L425.1,137.24 L425.6,136.82 L426.1,136.36 L426.6,135.85 L427.1,135.31 L427.6,134.72 L428.1,134.07 L428.6,133.38 L429.1,132.63 L429.6,131.82 L430.1,130.94 L430.6,130 L431.1,128.99 L431.6,127.91 L432.1,126.75 L432.6,125.52 L433.1,124.2 L433.6,122.81 L434.1,121.33 L434.6,119.76 L435.1,118.12 L435.6,116.39 L436.1,114.59 L436.6,112.7 L437.1,110.74 L437.6,108.7 L438.1,106.6 L438.6,104.45 L439.1,102.23 L439.6,99.97 L440.1,97.68 L440.6,95.36 L441.1,93.03 L441.6,90.7 L442.1,88.39 L442.6,86.12 L443.1,83.9 L443.6,81.75 L444.1,79.69 L444.6,77.74 L445.1,75.93 L445.6,74.29 L446.1,72.82 L446.6,71.57 L447.1,70.53 L447.6,69.73 L448.1,69.2 L448.6,68.93 L449.1,68.93 L449.6,69.22 L450.1,69.94 L450.6,71.23 L451.1,73.04 L451.6,75.39 L452.1,78.23 L452.6,81.45 L453.1,84.99 L453.6,88.74 L454.1,92.63 L454.6,96.57 L455.1,100.5 L455.6,104.39 L456.1,108.25 L456.6,112.02 L457.1,115.68 L457.6,119.2 L458.1,122.57 L458.6,125.77 L459.1,128.78 L459.6,131.6 L460.1,134.22 L460.6,136.69 L461.1,139.02 L461.6,141.22 L462.1,143.29 L462.6,145.23 L463.1,147.05 L463.6,148.75 L464.1,150.34 L464.6,151.81 L465.1,153.18 L465.6,154.44 L466.1,155.6 L466.6,156.69 L467.1,157.71 L467.6,158.67 L468.1,159.58 L468.6,160.43 L469.1,161.24 L469.6,162 L470.1,162.72 L470.6,163.41 L471.1,164.05 L471.6,164.66" fill="none" stroke="#a85be0" stroke-width="1.5" stroke-linejoin="round"/>
<path d="M298.6,133.25 L299.1,133.25 L299.6,133.26 L300.1,133.26 L300.6,133.27 L301.1,133.28 L301.6,133.29 L302.1,133.3 L302.6,133.32 L303.1,133.33 L303.6,133.35 L304.1,133.37 L304.6,133.39 L305.1,133.41 L305.6,133.43 L306.1,133.46 L306.6,133.48 L307.1,133.51 L307.6,133.54 L308.1,133.57 L308.6,133.6 L309.1,133.63 L309.6,133.66 L310.1,133.7 L310.6,133.73 L311.1,133.77 L311.6,133.81 L312.1,133.85 L312.6,133.89 L313.1,133.93 L313.6,133.97 L314.1,134.01 L314.6,134.06 L315.1,134.1 L315.6,134.15 L316.1,134.2 L316.6,134.24 L317.1,134.29 L317.6,134.34 L318.1,134.39 L318.6,134.45 L319.1,134.5 L319.6,134.56 L320.1,134.63 L320.6,134.73 L321.1,134.85 L321.6,134.98 L322.1,135.11 L322.6,135.25 L323.1,135.39 L323.6,135.53 L324.1,135.65 L324.6,135.75 L325.1,135.84 L325.6,135.92 L326.1,135.99 L326.6,136.06 L327.1,136.12 L327.6,136.18 L328.1,136.24 L328.6,136.29 L329.1,136.34 L329.6,136.39 L330.1,136.44 L330.6,136.49 L331.1,136.53 L331.6,136.57 L332.1,136.62 L332.6,136.66 L333.1,136.7 L333.6,136.75 L334.1,136.79 L334.6,136.84 L335.1,136.89 L335.6,136.94 L336.1,136.99 L336.6,137.04 L337.1,137.1 L337.6,137.16 L338.1,137.22 L338.6,137.29 L339.1,137.36 L339.6,137.44 L340.1,137.52 L340.6,137.61 L341.1,137.71 L341.6,137.82 L342.1,137.93 L342.6,138.05 L343.1,138.18 L343.6,138.32 L344.1,138.46 L344.6,138.61 L345.1,138.76 L345.6,138.92 L346.1,139.09 L346.6,139.25 L347.1,139.43 L347.6,139.62 L348.1,139.84 L348.6,140.08 L349.1,140.33 L349.6,140.6 L350.1,140.88 L350.6,141.16 L351.1,141.45 L351.6,141.74 L352.1,142.03 L352.6,142.31 L353.1,142.58 L353.6,142.84 L354.1,143.09 L354.6,143.31 L355.1,143.52 L355.6,143.71 L356.1,143.9 L356.6,144.08 L357.1,144.26 L357.6,144.43 L358.1,144.6 L358.6,144.77 L359.1,144.93 L359.6,145.09 L360.1,145.24 L360.6,145.39 L361.1,145.54 L361.6,145.68 L362.1,145.82 L362.6,145.96 L363.1,146.09 L363.6,146.22 L364.1,146.35 L364.6,146.48 L365.1,146.6 L365.6,146.72 L366.1,146.84 L366.6,146.95 L367.1,147.07 L367.6,147.18 L368.1,147.29 L368.6,147.39 L369.1,147.5 L369.6,147.6 L370.1,147.7 L370.6,147.8 L371.1,147.9 L371.6,148 L372.1,148.09 L372.6,148.19 L373.1,148.28 L373.6,148.37 L374.1,148.46 L374.6,148.54 L375.1,148.63 L375.6,148.71 L376.1,148.8 L376.6,148.88 L377.1,148.96 L377.6,149.04 L378.1,149.12 L378.6,149.2 L379.1,149.28 L379.6,149.35 L380.1,149.43 L380.6,149.5 L381.1,149.57 L381.6,149.64 L382.1,149.71 L382.6,149.77 L383.1,149.84 L383.6,149.9 L384.1,149.96 L384.6,150.01 L385.1,150.07 L385.6,150.12 L386.1,150.17 L386.6,150.21 L387.1,150.26 L387.6,150.3 L388.1,150.35 L388.6,150.39 L389.1,150.43 L389.6,150.46 L390.1,150.5 L390.6,150.54 L391.1,150.58 L391.6,150.61 L392.1,150.65 L392.6,150.69 L393.1,150.72 L393.6,150.76 L394.1,150.8 L394.6,150.84 L395.1,150.88 L395.6,150.93 L396.1,150.97 L396.6,151.02 L397.1,151.06 L397.6,151.11 L398.1,151.16 L398.6,151.2 L399.1,151.25 L399.6,151.3 L400.1,151.34 L400.6,151.39 L401.1,151.44 L401.6,151.49 L402.1,151.54 L402.6,151.59 L403.1,151.63 L403.6,151.68 L404.1,151.73 L404.6,151.78 L405.1,151.83 L405.6,151.88 L406.1,151.93 L406.6,151.98 L407.1,152.03 L407.6,152.08 L408.1,152.13 L408.6,152.18 L409.1,152.23 L409.6,152.28 L410.1,152.33 L410.6,152.38 L411.1,152.43 L411.6,152.48 L412.1,152.53 L412.6,152.58 L413.1,152.63 L413.6,152.68 L414.1,152.73 L414.6,152.79 L415.1,152.84 L415.6,152.89 L416.1,152.94 L416.6,152.98 L417.1,153.03 L417.6,153.08 L418.1,153.13 L418.6,153.18 L419.1,153.23 L419.6,153.28 L420.1,153.33 L420.6,153.37 L421.1,153.42 L421.6,153.46 L422.1,153.51 L422.6,153.55 L423.1,153.6 L423.6,153.64 L424.1,153.68 L424.6,153.73 L425.1,153.77 L425.6,153.81 L426.1,153.85 L426.6,153.9 L427.1,153.94 L427.6,153.98 L428.1,154.03 L428.6,154.07 L429.1,154.12 L429.6,154.16 L430.1,154.21 L430.6,154.25 L431.1,154.3 L431.6,154.35 L432.1,154.39 L432.6,154.44 L433.1,154.49 L433.6,154.53 L434.1,154.58 L434.6,154.62 L435.1,154.66 L435.6,154.7 L436.1,154.73 L436.6,154.76 L437.1,154.78 L437.6,154.8 L438.1,154.81 L438.6,154.82 L439.1,154.81 L439.6,154.8 L440.1,154.77 L440.6,154.73 L441.1,154.68 L441.6,154.62 L442.1,154.54 L442.6,154.45 L443.1,154.34 L443.6,154.21 L444.1,154.06 L444.6,153.89 L445.1,153.69 L445.6,153.46 L446.1,153.19 L446.6,152.88 L447.1,152.52 L447.6,152.09 L448.1,151.58 L448.6,150.98 L449.1,150.25 L449.6,149.38 L450.1,148.34 L450.6,147.08 L451.1,145.58 L451.6,143.81 L452.1,141.71 L452.6,139.2 L453.1,136.16 L453.6,132.46 L454.1,127.99 L454.6,122.6 L455.1,116.2 L455.6,108.84 L456.1,100.67 L456.6,92.09 L457.1,83.85 L457.6,77.02 L458.1,72.8 L458.6,72.11 L459.1,74.61 L459.6,79.75 L460.1,86.98 L460.6,95.62 L461.1,104.91 L461.6,114.14 L462.1,122.77 L462.6,130.46 L463.1,137.04 L463.6,142.53 L464.1,147.02 L464.6,150.67 L465.1,153.64 L465.6,156.09 L466.1,158.13 L466.6,159.87 L467.1,161.4 L467.6,162.75 L468.1,163.97 L468.6,165.07 L469.1,166.07 L469.6,166.97 L470.1,167.8 L470.6,168.56 L471.1,169.25 L471.6,169.88 L472.1,170.47 L472.6,171 L473.1,171.5 L473.6,171.95 L474.1,172.37 L474.6,172.76 L475.1,173.12 L475.6,173.45 L476.1,173.76 L476.6,174.05 L477.1,174.31 L477.6,174.56 L478.1,174.79 L478.6,175 L479.1,175.2 L479.6,175.38 L480.1,175.55 L480.6,175.71 L481.1,175.86 L481.6,176 L482.1,176.13 L482.6,176.25 L483.1,176.37 L483.6,176.48 L484.1,176.59 L484.6,176.69 L485.1,176.79 L485.6,176.88 L486.1,176.97 L486.6,177.05 L487.1,177.13 L487.6,177.2 L488.1,177.28 L488.6,177.34 L489.1,177.41 L489.6,177.47 L490.1,177.53 L490.6,177.59 L491.1,177.65 L491.6,177.7 L492.1,177.75 L492.6,177.8 L493.1,177.85 L493.6,177.89 L494.1,177.93 L494.6,177.98 L495.1,178.02 L495.6,178.05 L496.1,178.09 L496.6,178.13 L497.1,178.16 L497.6,178.2 L498.1,178.23 L498.6,178.26 L499.1,178.29 L499.6,178.32 L500.1,178.35 L500.6,178.38 L501.1,178.4 L501.6,178.43 L502.1,178.45 L502.6,178.48 L503.1,178.5 L503.6,178.52 L504.1,178.54 L504.6,178.57 L505.1,178.59 L505.6,178.61 L506.1,178.63 L506.6,178.65 L507.1,178.66 L507.6,178.68 L508.1,178.7 L508.6,178.72 L509.1,178.73 L509.6,178.75 L510.1,178.76 L510.6,178.78 L511.1,178.79 L511.6,178.81 L512.1,178.82 L512.6,178.83 L513.1,178.85 L513.6,178.86 L514.1,178.87 L514.6,178.89 L515.1,178.9 L515.6,178.91 L516.1,178.92 L516.6,178.93 L517.1,178.94 L517.6,178.95 L518.1,178.96 L518.6,178.97 L519.1,178.98 L519.6,178.99 L520.1,179 L520.6,179.01 L521.1,179.02 L521.6,179.03 L522.1,179.03 L522.6,179.04 L523.1,179.05 L523.6,179.06 L524.1,179.07 L524.6,179.07 L525.1,179.08 L525.6,179.09 L526.1,179.09 L526.6,179.1 L527.1,179.11 L527.6,179.11 L528.1,179.12 L528.6,179.12 L529.1,179.13 L529.6,179.14 L530.1,179.14 L530.6,179.15 L531.1,179.15 L531.6,179.16 L532.1,179.16 L532.6,179.17 L533.1,179.17 L533.6,179.18 L534.1,179.18 L534.6,179.18 L535.1,179.19 L535.6,179.19 L536.1,179.2" fill="none" stroke="#8fcaa9" stroke-width="1.3" stroke-linejoin="round"/>
<path d="M452.6,139.2 L453.1,136.16 L453.6,132.46 L454.1,127.99 L454.6,122.6 L455.1,116.2 L455.6,108.84 L456.1,100.67 L456.6,92.09 L457.1,83.85 L457.6,77.02 L458.1,72.8 L458.6,72.11 L459.1,74.61 L459.6,79.75 L460.1,86.98 L460.6,95.62 L461.1,104.91 L461.6,114.14 L462.1,122.77 L462.6,130.46 L463.1,137.04 L463.6,142.53 L464.1,147.02 L464.6,150.67" fill="none" stroke="#2f9a55" stroke-width="1.3" stroke-linejoin="round"/>
<path d="M298.6,133.3 L299.1,133.3 L299.6,133.31 L300.1,133.32 L300.6,133.32 L301.1,133.33 L301.6,133.35 L302.1,133.36 L302.6,133.37 L303.1,133.39 L303.6,133.41 L304.1,133.42 L304.6,133.44 L305.1,133.47 L305.6,133.49 L306.1,133.51 L306.6,133.54 L307.1,133.57 L307.6,133.59 L308.1,133.62 L308.6,133.66 L309.1,133.69 L309.6,133.72 L310.1,133.76 L310.6,133.79 L311.1,133.83 L311.6,133.87 L312.1,133.91 L312.6,133.95 L313.1,133.99 L313.6,134.03 L314.1,134.08 L314.6,134.12 L315.1,134.17 L315.6,134.21 L316.1,134.26 L316.6,134.31 L317.1,134.36 L317.6,134.41 L318.1,134.46 L318.6,134.51 L319.1,134.57 L319.6,134.62 L320.1,134.7 L320.6,134.8 L321.1,134.92 L321.6,135.05 L322.1,135.19 L322.6,135.33 L323.1,135.47 L323.6,135.6 L324.1,135.72 L324.6,135.83 L325.1,135.92 L325.6,135.99 L326.1,136.07 L326.6,136.13 L327.1,136.2 L327.6,136.26 L328.1,136.32 L328.6,136.37 L329.1,136.42 L329.6,136.47 L330.1,136.52 L330.6,136.57 L331.1,136.61 L331.6,136.66 L332.1,136.7 L332.6,136.74 L333.1,136.79 L333.6,136.83 L334.1,136.88 L334.6,136.93 L335.1,136.97 L335.6,137.02 L336.1,137.08 L336.6,137.13 L337.1,137.19 L337.6,137.25 L338.1,137.31 L338.6,137.38 L339.1,137.46 L339.6,137.53 L340.1,137.62 L340.6,137.71 L341.1,137.81 L341.6,137.91 L342.1,138.03 L342.6,138.15 L343.1,138.28 L343.6,138.42 L344.1,138.56 L344.6,138.71 L345.1,138.86 L345.6,139.02 L346.1,139.19 L346.6,139.36 L347.1,139.54 L347.6,139.73 L348.1,139.95 L348.6,140.19 L349.1,140.44 L349.6,140.71 L350.1,140.99 L350.6,141.28 L351.1,141.57 L351.6,141.86 L352.1,142.15 L352.6,142.43 L353.1,142.7 L353.6,142.96 L354.1,143.21 L354.6,143.43 L355.1,143.64 L355.6,143.83 L356.1,144.02 L356.6,144.21 L357.1,144.39 L357.6,144.56 L358.1,144.73 L358.6,144.9 L359.1,145.07 L359.6,145.22 L360.1,145.38 L360.6,145.53 L361.1,145.68 L361.6,145.82 L362.1,145.97 L362.6,146.1 L363.1,146.24 L363.6,146.37 L364.1,146.5 L364.6,146.63 L365.1,146.75 L365.6,146.87 L366.1,146.99 L366.6,147.11 L367.1,147.22 L367.6,147.34 L368.1,147.45 L368.6,147.56 L369.1,147.66 L369.6,147.77 L370.1,147.87 L370.6,147.98 L371.1,148.07 L371.6,148.17 L372.1,148.27 L372.6,148.36 L373.1,148.46 L373.6,148.55 L374.1,148.64 L374.6,148.73 L375.1,148.82 L375.6,148.9 L376.1,148.99 L376.6,149.08 L377.1,149.16 L377.6,149.24 L378.1,149.33 L378.6,149.41 L379.1,149.49 L379.6,149.56 L380.1,149.64 L380.6,149.72 L381.1,149.79 L381.6,149.86 L382.1,149.93 L382.6,150 L383.1,150.07 L383.6,150.13 L384.1,150.19 L384.6,150.25 L385.1,150.31 L385.6,150.37 L386.1,150.42 L386.6,150.47 L387.1,150.52 L387.6,150.57 L388.1,150.61 L388.6,150.66 L389.1,150.7 L389.6,150.74 L390.1,150.78 L390.6,150.82 L391.1,150.87 L391.6,150.91 L392.1,150.95 L392.6,150.99 L393.1,151.03 L393.6,151.07 L394.1,151.12 L394.6,151.16 L395.1,151.21 L395.6,151.26 L396.1,151.31 L396.6,151.36 L397.1,151.41 L397.6,151.47 L398.1,151.52 L398.6,151.57 L399.1,151.62 L399.6,151.68 L400.1,151.73 L400.6,151.79 L401.1,151.84 L401.6,151.9 L402.1,151.95 L402.6,152.01 L403.1,152.06 L403.6,152.12 L404.1,152.18 L404.6,152.23 L405.1,152.29 L405.6,152.35 L406.1,152.41 L406.6,152.47 L407.1,152.53 L407.6,152.59 L408.1,152.65 L408.6,152.71 L409.1,152.77 L409.6,152.83 L410.1,152.89 L410.6,152.95 L411.1,153.02 L411.6,153.08 L412.1,153.14 L412.6,153.21 L413.1,153.27 L413.6,153.34 L414.1,153.4 L414.6,153.47 L415.1,153.53 L415.6,153.6 L416.1,153.67 L416.6,153.73 L417.1,153.8 L417.6,153.87 L418.1,153.94 L418.6,154.01 L419.1,154.07 L419.6,154.14 L420.1,154.21 L420.6,154.28 L421.1,154.35 L421.6,154.43 L422.1,154.5 L422.6,154.57 L423.1,154.64 L423.6,154.71 L424.1,154.79 L424.6,154.86 L425.1,154.94 L425.6,155.02 L426.1,155.1 L426.6,155.18 L427.1,155.26 L427.6,155.35 L428.1,155.44 L428.6,155.53 L429.1,155.62 L429.6,155.72 L430.1,155.82 L430.6,155.92 L431.1,156.03 L431.6,156.14 L432.1,156.26 L432.6,156.37 L433.1,156.5 L433.6,156.62 L434.1,156.75 L434.6,156.88 L435.1,157.02 L435.6,157.16 L436.1,157.3 L436.6,157.44 L437.1,157.59 L437.6,157.74 L438.1,157.89 L438.6,158.05 L439.1,158.21 L439.6,158.37 L440.1,158.53 L440.6,158.7 L441.1,158.87 L441.6,159.05 L442.1,159.23 L442.6,159.42 L443.1,159.62 L443.6,159.84 L444.1,160.06 L444.6,160.3 L445.1,160.55 L445.6,160.83 L446.1,161.12 L446.6,161.44 L447.1,161.77 L447.6,162.13 L448.1,162.5 L448.6,162.89 L449.1,163.3 L449.6,163.72 L450.1,164.17 L450.6,164.62 L451.1,165.1 L451.6,165.63 L452.1,166.23 L452.6,166.87 L453.1,167.54 L453.6,168.22 L454.1,168.89 L454.6,169.53 L455.1,170.11 L455.6,170.69 L456.1,171.28 L456.6,171.87 L457.1,172.45 L457.6,173.02 L458.1,173.55 L458.6,174.05 L459.1,174.51 L459.6,174.92 L460.1,175.27 L460.6,175.59 L461.1,175.9 L461.6,176.2 L462.1,176.49 L462.6,176.76 L463.1,177.02 L463.6,177.25 L464.1,177.46 L464.6,177.65 L465.1,177.8 L465.6,177.92 L466.1,178.02 L466.6,178.09 L467.1,178.17 L467.6,178.24 L468.1,178.31 L468.6,178.38 L469.1,178.44 L469.6,178.51 L470.1,178.57 L470.6,178.62 L471.1,178.68 L471.6,178.73 L472.1,178.78 L472.6,178.82 L473.1,178.87 L473.6,178.91 L474.1,178.95 L474.6,178.98 L475.1,179.01 L475.6,179.05 L476.1,179.07 L476.6,179.1 L477.1,179.12 L477.6,179.14 L478.1,179.16 L478.6,179.17 L479.1,179.18 L479.6,179.19 L480.1,179.2 L480.6,179.21 L481.1,179.21 L481.6,179.22 L482.1,179.22 L482.6,179.23 L483.1,179.24 L483.6,179.24 L484.1,179.25 L484.6,179.25 L485.1,179.26 L485.6,179.26 L486.1,179.27 L486.6,179.27 L487.1,179.28 L487.6,179.28 L488.1,179.29 L488.6,179.29 L489.1,179.3 L489.6,179.3 L490.1,179.31 L490.6,179.31 L491.1,179.32 L491.6,179.32 L492.1,179.33 L492.6,179.33 L493.1,179.33 L493.6,179.34 L494.1,179.34 L494.6,179.35 L495.1,179.35 L495.6,179.35 L496.1,179.36 L496.6,179.36 L497.1,179.37 L497.6,179.37 L498.1,179.37 L498.6,179.38 L499.1,179.38 L499.6,179.38 L500.1,179.39 L500.6,179.39 L501.1,179.39 L501.6,179.4 L502.1,179.4 L502.6,179.4 L503.1,179.41 L503.6,179.41 L504.1,179.41 L504.6,179.42 L505.1,179.42 L505.6,179.42 L506.1,179.42 L506.6,179.43 L507.1,179.43 L507.6,179.43 L508.1,179.43 L508.6,179.44 L509.1,179.44 L509.6,179.44 L510.1,179.44 L510.6,179.45 L511.1,179.45 L511.6,179.45 L512.1,179.45 L512.6,179.45 L513.1,179.46 L513.6,179.46 L514.1,179.46 L514.6,179.46 L515.1,179.46 L515.6,179.47 L516.1,179.47 L516.6,179.47 L517.1,179.47 L517.6,179.47 L518.1,179.47 L518.6,179.48 L519.1,179.48 L519.6,179.48 L520.1,179.48 L520.6,179.48 L521.1,179.48 L521.6,179.48 L522.1,179.48 L522.6,179.49 L523.1,179.49 L523.6,179.49 L524.1,179.49 L524.6,179.49 L525.1,179.49 L525.6,179.49 L526.1,179.49 L526.6,179.49 L527.1,179.49 L527.6,179.49 L528.1,179.49 L528.6,179.5 L529.1,179.5 L529.6,179.5 L530.1,179.5 L530.6,179.5 L531.1,179.5 L531.6,179.5 L532.1,179.5 L532.6,179.5 L533.1,179.5 L533.6,179.5 L534.1,179.5 L534.6,179.5 L535.1,179.5 L535.6,179.5 L536.1,179.5" fill="none" stroke="#6e6e6e" stroke-width="1.3"/>
<path d="M298.6,130.4 L299.1,130.37 L299.6,130.34 L300.1,130.31 L300.6,130.28 L301.1,130.25 L301.6,130.21 L302.1,130.18 L302.6,130.15 L303.1,130.12 L303.6,130.09 L304.1,130.06 L304.6,130.03 L305.1,130 L305.6,129.96 L306.1,129.93 L306.6,129.9 L307.1,129.87 L307.6,129.83 L308.1,129.8 L308.6,129.77 L309.1,129.73 L309.6,129.69 L310.1,129.66 L310.6,129.62 L311.1,129.58 L311.6,129.54 L312.1,129.5 L312.6,129.46 L313.1,129.41 L313.6,129.37 L314.1,129.32 L314.6,129.27 L315.1,129.22 L315.6,129.17 L316.1,129.12 L316.6,129.06 L317.1,129 L317.6,128.93 L318.1,128.87 L318.6,128.8 L319.1,128.72 L319.6,128.65 L320.1,128.59 L320.6,128.54 L321.1,128.5 L321.6,128.46 L322.1,128.43 L322.6,128.38 L323.1,128.32 L323.6,128.25 L324.1,128.14 L324.6,128.01 L325.1,127.85 L325.6,127.66 L326.1,127.45 L326.6,127.21 L327.1,126.95 L327.6,126.66 L328.1,126.35 L328.6,126.01 L329.1,125.64 L329.6,125.24 L330.1,124.81 L330.6,124.34 L331.1,123.83 L331.6,123.29 L332.1,122.71 L332.6,122.08 L333.1,121.41 L333.6,120.69 L334.1,119.92 L334.6,119.1 L335.1,118.23 L335.6,117.31 L336.1,116.33 L336.6,115.29 L337.1,114.19 L337.6,113.04 L338.1,111.82 L338.6,110.55 L339.1,109.22 L339.6,107.84 L340.1,106.39 L340.6,104.89 L341.1,103.34 L341.6,101.74 L342.1,100.1 L342.6,98.41 L343.1,96.7 L343.6,94.96 L344.1,93.2 L344.6,91.44 L345.1,89.69 L345.6,87.97 L346.1,86.29 L346.6,84.66 L347.1,83.11 L347.6,81.68 L348.1,80.38 L348.6,79.25 L349.1,78.29 L349.6,77.53 L350.1,76.98 L350.6,76.65 L351.1,76.56 L351.6,76.7 L352.1,77.08 L352.6,77.69 L353.1,78.53 L353.6,79.57 L354.1,80.79 L354.6,82.18 L355.1,83.71 L355.6,85.37 L356.1,87.14 L356.6,88.99 L357.1,90.92 L357.6,92.9 L358.1,94.9 L358.6,96.92 L359.1,98.93 L359.6,100.93 L360.1,102.91 L360.6,104.84 L361.1,106.74 L361.6,108.58 L362.1,110.36 L362.6,112.07 L363.1,113.72 L363.6,115.31 L364.1,116.83 L364.6,118.28 L365.1,119.67 L365.6,121 L366.1,122.25 L366.6,123.44 L367.1,124.57 L367.6,125.64 L368.1,126.64 L368.6,127.58 L369.1,128.46 L369.6,129.29 L370.1,130.07 L370.6,130.79 L371.1,131.47 L371.6,132.09 L372.1,132.68 L372.6,133.22 L373.1,133.72 L373.6,134.18 L374.1,134.61 L374.6,135 L375.1,135.37 L375.6,135.7 L376.1,136.02 L376.6,136.31 L377.1,136.58 L377.6,136.83 L378.1,137.06 L378.6,137.28 L379.1,137.49 L379.6,137.67 L380.1,137.85 L380.6,138.01 L381.1,138.17 L381.6,138.31 L382.1,138.44 L382.6,138.56 L383.1,138.67 L383.6,138.77 L384.1,138.87 L384.6,138.96 L385.1,139.04 L385.6,139.11 L386.1,139.17 L386.6,139.23 L387.1,139.28 L387.6,139.32 L388.1,139.36 L388.6,139.4 L389.1,139.43 L389.6,139.45 L390.1,139.47 L390.6,139.49 L391.1,139.5 L391.6,139.52 L392.1,139.52 L392.6,139.53 L393.1,139.53 L393.6,139.53 L394.1,139.53 L394.6,139.53 L395.1,139.53 L395.6,139.52 L396.1,139.52 L396.6,139.51 L397.1,139.51 L397.6,139.5 L398.1,139.48 L398.6,139.47 L399.1,139.45 L399.6,139.43 L400.1,139.41 L400.6,139.39 L401.1,139.37 L401.6,139.34 L402.1,139.31 L402.6,139.28 L403.1,139.25 L403.6,139.22 L404.1,139.18 L404.6,139.15 L405.1,139.11 L405.6,139.06 L406.1,139.02 L406.6,138.98 L407.1,138.93 L407.6,138.88 L408.1,138.83 L408.6,138.79 L409.1,138.74 L409.6,138.69 L410.1,138.64 L410.6,138.59 L411.1,138.54 L411.6,138.49 L412.1,138.44 L412.6,138.38 L413.1,138.33 L413.6,138.27 L414.1,138.21 L414.6,138.14 L415.1,138.07 L415.6,138 L416.1,137.92 L416.6,137.83 L417.1,137.74 L417.6,137.64 L418.1,137.54 L418.6,137.42 L419.1,137.29 L419.6,137.16 L420.1,137 L420.6,136.84 L421.1,136.66 L421.6,136.46 L422.1,136.24 L422.6,136 L423.1,135.73 L423.6,135.44 L424.1,135.12 L424.6,134.77 L425.1,134.38 L425.6,133.96 L426.1,133.51 L426.6,133.01 L427.1,132.47 L427.6,131.89 L428.1,131.25 L428.6,130.56 L429.1,129.81 L429.6,129 L430.1,128.12 L430.6,127.17 L431.1,126.16 L431.6,125.06 L432.1,123.89 L432.6,122.63 L433.1,121.29 L433.6,119.86 L434.1,118.34 L434.6,116.73 L435.1,115.04 L435.6,113.25 L436.1,111.37 L436.6,109.4 L437.1,107.34 L437.6,105.2 L438.1,102.99 L438.6,100.7 L439.1,98.34 L439.6,95.91 L440.1,93.44 L440.6,90.92 L441.1,88.37 L441.6,85.81 L442.1,83.24 L442.6,80.69 L443.1,78.16 L443.6,75.67 L444.1,73.24 L444.6,70.89 L445.1,68.64 L445.6,66.49 L446.1,64.47 L446.6,62.59 L447.1,60.87 L447.6,59.29 L448.1,57.87 L448.6,56.61 L449.1,55.49 L449.6,54.49 L450.1,53.73 L450.6,53.3 L451.1,53.14 L451.6,53.19 L452.1,53.33 L452.6,53.41 L453.1,53.24 L453.6,52.62 L454.1,51.37 L454.6,49.29 L455.1,46.23 L455.6,42.18 L456.1,37.29 L456.6,31.9 L457.1,26.74 L457.6,22.87 L458.1,21.48 L458.6,23.49 L459.1,28.55 L459.6,36.11 L460.1,45.62 L460.6,56.4 L461.1,67.71 L461.6,78.84 L462.1,89.26 L462.6,98.62 L463.1,106.77 L463.6,113.72 L464.1,119.59 L464.6,124.54 L465.1,128.73 L465.6,132.31 L466.1,135.42 L466.6,138.18 L467.1,140.65 L467.6,142.9 L468.1,144.95 L468.6,146.84 L469.1,148.59 L469.6,150.2 L470.1,151.69 L470.6,153.07 L471.1,154.36 L471.6,155.55 L472.1,156.67 L472.6,157.71 L473.1,158.68 L473.6,159.59 L474.1,160.44 L474.6,161.24 L475.1,161.99 L475.6,162.69 L476.1,163.35 L476.6,163.97 L477.1,164.56 L477.6,165.11 L478.1,165.63 L478.6,166.12 L479.1,166.59 L479.6,167.02 L480.1,167.44 L480.6,167.83 L481.1,168.2 L481.6,168.56 L482.1,168.89 L482.6,169.22 L483.1,169.52 L483.6,169.82 L484.1,170.1 L484.6,170.37 L485.1,170.63 L485.6,170.87 L486.1,171.11 L486.6,171.34 L487.1,171.56 L487.6,171.77 L488.1,171.97 L488.6,172.16 L489.1,172.35 L489.6,172.52 L490.1,172.7 L490.6,172.86 L491.1,173.02 L491.6,173.18 L492.1,173.33 L492.6,173.47 L493.1,173.61 L493.6,173.74 L494.1,173.87 L494.6,174 L495.1,174.12 L495.6,174.24 L496.1,174.35 L496.6,174.46 L497.1,174.57 L497.6,174.67 L498.1,174.77 L498.6,174.87 L499.1,174.96 L499.6,175.05 L500.1,175.14 L500.6,175.23 L501.1,175.31 L501.6,175.39 L502.1,175.47 L502.6,175.55 L503.1,175.62 L503.6,175.69 L504.1,175.76 L504.6,175.83 L505.1,175.9 L505.6,175.96 L506.1,176.03 L506.6,176.09 L507.1,176.15 L507.6,176.21 L508.1,176.26 L508.6,176.32 L509.1,176.37 L509.6,176.42 L510.1,176.48 L510.6,176.53 L511.1,176.57 L511.6,176.62 L512.1,176.67 L512.6,176.71 L513.1,176.76 L513.6,176.8 L514.1,176.84 L514.6,176.89 L515.1,176.93 L515.6,176.97 L516.1,177 L516.6,177.04 L517.1,177.08 L517.6,177.11 L518.1,177.15 L518.6,177.18 L519.1,177.22 L519.6,177.25 L520.1,177.28 L520.6,177.31 L521.1,177.35 L521.6,177.38 L522.1,177.41 L522.6,177.43 L523.1,177.46 L523.6,177.49 L524.1,177.52 L524.6,177.54 L525.1,177.57 L525.6,177.6 L526.1,177.62 L526.6,177.64 L527.1,177.67 L527.6,177.69 L528.1,177.72 L528.6,177.74 L529.1,177.76 L529.6,177.78 L530.1,177.8 L530.6,177.82 L531.1,177.84 L531.6,177.86 L532.1,177.88 L532.6,177.9 L533.1,177.92 L533.6,177.94 L534.1,177.96 L534.6,177.98 L535.1,177.99 L535.6,178.01 L536.1,178.03" fill="none" stroke="#1fc2c9" stroke-width="1.6" stroke-linejoin="round"/>
<rect x="297.9" y="5.3" width="239" height="192.9" fill="none" stroke="#2b2b2b" stroke-width="1.3"/>
<text x="297.9" y="213.3" text-anchor="middle" font-size="9.7" font-weight="bold" fill="#111" color="#111">660</text>
<text x="342.1" y="213.3" text-anchor="middle" font-size="9.7" font-weight="bold" fill="#111" color="#111">655</text>
<text x="386.3" y="213.3" text-anchor="middle" font-size="9.7" font-weight="bold" fill="#111" color="#111">650</text>
<text x="430.5" y="213.3" text-anchor="middle" font-size="9.7" font-weight="bold" fill="#111" color="#111">645</text>
<text x="474.7" y="213.3" text-anchor="middle" font-size="9.7" font-weight="bold" fill="#111" color="#111">640</text>
<text x="518.9" y="213.3" text-anchor="middle" font-size="9.7" font-weight="bold" fill="#111" color="#111">635</text>
<line x1="297.9" y1="198.2" x2="297.9" y2="201.6" stroke="#2b2b2b" stroke-width="1.2"/><line x1="342.1" y1="198.2" x2="342.1" y2="201.6" stroke="#2b2b2b" stroke-width="1.2"/><line x1="386.3" y1="198.2" x2="386.3" y2="201.6" stroke="#2b2b2b" stroke-width="1.2"/><line x1="430.5" y1="198.2" x2="430.5" y2="201.6" stroke="#2b2b2b" stroke-width="1.2"/><line x1="474.7" y1="198.2" x2="474.7" y2="201.6" stroke="#2b2b2b" stroke-width="1.2"/><line x1="518.9" y1="198.2" x2="518.9" y2="201.6" stroke="#2b2b2b" stroke-width="1.2"/><line x1="320" y1="198.2" x2="320" y2="200.2" stroke="#2b2b2b" stroke-width="1.1"/><line x1="364.2" y1="198.2" x2="364.2" y2="200.2" stroke="#2b2b2b" stroke-width="1.1"/><line x1="408.4" y1="198.2" x2="408.4" y2="200.2" stroke="#2b2b2b" stroke-width="1.1"/><line x1="452.6" y1="198.2" x2="452.6" y2="200.2" stroke="#2b2b2b" stroke-width="1.1"/><line x1="496.8" y1="198.2" x2="496.8" y2="200.2" stroke="#2b2b2b" stroke-width="1.1"/>
<text x="417.4" y="227.2" text-anchor="middle" font-size="10" font-weight="bold" fill="#111" color="#111" >Binding Energy (eV)</text>
<text transform="translate(289,98.5) rotate(-90)" text-anchor="middle" font-size="10" font-weight="bold" fill="#111" color="#111">Intensity (a.u.)</text>
<text x="300.2" y="17.3" text-anchor="start" font-size="11.5" font-weight="bold" fill="#111" color="#111" >b</text>
<text x="533.6" y="17.7" text-anchor="end" font-size="11.5" font-weight="bold" fill="#3f86e0" color="#3f86e0" >Mn2p</text>
<text x="335" y="67.6" text-anchor="start" font-size="11.8" font-weight="bold" fill="#111" color="#111" >Mn2p<tspan font-size="8.2" dy="2.4">1/2</tspan></text>
<text x="414.8" y="30.5" text-anchor="start" font-size="11.5" font-weight="bold" fill="#111" color="#111" >Mn2p<tspan font-size="8.2" dy="2.4">3/2</tspan></text>
<defs><linearGradient id="g4" x1="0" y1="0" x2="0" y2="1"><stop offset="0" stop-color="#7090e2" stop-opacity="1"/><stop offset="1" stop-color="#a3b9ef" stop-opacity="1"/></linearGradient></defs>
<path d="M21.1,306.27 L21.6,306.23 L22.1,306.18 L22.6,306.11 L23.1,306.01 L23.6,305.88 L24.1,305.71 L24.6,305.49 L25.1,305.22 L25.6,304.89 L26.1,304.49 L26.6,304 L27.1,303.43 L27.6,302.76 L28.1,301.99 L28.6,301.12 L29.1,300.15 L29.6,299.06 L30.1,297.87 L30.6,296.58 L31.1,295.2 L31.6,293.73 L32.1,292.2 L32.6,290.61 L33.1,288.99 L33.6,287.37 L34.1,285.77 L34.6,284.25 L35.1,282.82 L35.6,281.51 L36.1,280.35 L36.6,279.35 L37.1,278.54 L37.6,277.94 L38.1,277.56 L38.6,277.41 L39.1,277.5 L39.6,277.81 L40.1,278.3 L40.6,278.95 L41.1,279.77 L41.6,280.74 L42.1,281.85 L42.6,283.11 L43.1,284.48 L43.6,285.96 L44.1,287.54 L44.6,289.19 L45.1,290.91 L45.6,292.67 L46.1,294.48 L46.6,296.3 L47.1,298.13 L47.6,299.94 L48.1,301.71 L48.6,303.43 L49.1,305.09 L49.6,306.66 L50.1,308.15 L50.6,309.53 L51.1,310.81 L51.6,312 L52.1,313.1 L52.6,314.11 L53.1,315.04 L53.6,315.88 L54.1,316.65 L54.6,317.35 L55.1,317.98 L55.6,318.54 L56.1,319.05 L56.6,319.52 L57.1,319.93 L57.6,320.29 L58.1,320.61 L58.6,320.89 L59.1,321.14 L59.6,321.36 L60.1,321.57 L60.6,321.76 L61.1,321.95 L61.6,322.13 L61.6,322.4 L61.1,322.28 L60.6,322.17 L60.1,322.07 L59.6,321.98 L59.1,321.89 L58.6,321.79 L58.1,321.7 L57.6,321.6 L57.1,321.49 L56.6,321.38 L56.1,321.25 L55.6,321.13 L55.1,321.01 L54.6,320.88 L54.1,320.74 L53.6,320.6 L53.1,320.46 L52.6,320.3 L52.1,320.14 L51.6,319.96 L51.1,319.78 L50.6,319.58 L50.1,319.34 L49.6,319.08 L49.1,318.79 L48.6,318.48 L48.1,318.16 L47.6,317.83 L47.1,317.49 L46.6,317.16 L46.1,316.83 L45.6,316.51 L45.1,316.2 L44.6,315.9 L44.1,315.61 L43.6,315.32 L43.1,315.03 L42.6,314.74 L42.1,314.45 L41.6,314.16 L41.1,313.86 L40.6,313.57 L40.1,313.28 L39.6,312.98 L39.1,312.68 L38.6,312.36 L38.1,312.03 L37.6,311.69 L37.1,311.35 L36.6,311.01 L36.1,310.67 L35.6,310.35 L35.1,310.05 L34.6,309.77 L34.1,309.52 L33.6,309.3 L33.1,309.11 L32.6,308.92 L32.1,308.75 L31.6,308.58 L31.1,308.43 L30.6,308.28 L30.1,308.14 L29.6,308.01 L29.1,307.88 L28.6,307.77 L28.1,307.66 L27.6,307.56 L27.1,307.46 L26.6,307.37 L26.1,307.27 L25.6,307.18 L25.1,307.09 L24.6,307.01 L24.1,306.93 L23.6,306.85 L23.1,306.78 L22.6,306.72 L22.1,306.66 L21.6,306.6 L21.1,306.55 Z" fill="url(#g4)" stroke="none"/>
<defs><linearGradient id="g5" x1="0" y1="0" x2="0" y2="1"><stop offset="0" stop-color="#d2b2ee" stop-opacity="1"/><stop offset="1" stop-color="#ddc9f2" stop-opacity="1"/></linearGradient></defs>
<path d="M21.1,305.88 L21.6,305.92 L22.1,305.96 L22.6,306.01 L23.1,306.07 L23.6,306.13 L24.1,306.19 L24.6,306.26 L25.1,306.34 L25.6,306.41 L26.1,306.49 L26.6,306.57 L27.1,306.66 L27.6,306.74 L28.1,306.83 L28.6,306.93 L29.1,307.03 L29.6,307.14 L30.1,307.25 L30.6,307.38 L31.1,307.51 L31.6,307.65 L32.1,307.8 L32.6,307.96 L33.1,308.13 L33.6,308.3 L34.1,308.5 L34.6,308.74 L35.1,309 L35.6,309.28 L36.1,309.58 L36.6,309.9 L37.1,310.22 L37.6,310.54 L38.1,310.86 L38.6,311.17 L39.1,311.46 L39.6,311.74 L40.1,312.01 L40.6,312.28 L41.1,312.55 L41.6,312.81 L42.1,313.08 L42.6,313.34 L43.1,313.6 L43.6,313.86 L44.1,314.13 L44.6,314.39 L45.1,314.65 L45.6,314.92 L46.1,315.21 L46.6,315.51 L47.1,315.81 L47.6,316.1 L48.1,316.4 L48.6,316.68 L49.1,316.94 L49.6,317.19 L50.1,317.41 L50.6,317.59 L51.1,317.75 L51.6,317.89 L52.1,318.01 L52.6,318.12 L53.1,318.22 L53.6,318.31 L54.1,318.39 L54.6,318.46 L55.1,318.53 L55.6,318.59 L56.1,318.64 L56.6,318.69 L57.1,318.73 L57.6,318.77 L58.1,318.78 L58.6,318.79 L59.1,318.8 L59.6,318.8 L60.1,318.8 L60.6,318.8 L61.1,318.8 L61.6,318.81 L62.1,318.82 L62.6,318.85 L63.1,318.88 L63.6,318.92 L64.1,318.97 L64.6,319.01 L65.1,319.05 L65.6,319.09 L66.1,319.12 L66.6,319.13 L67.1,319.13 L67.6,319.11 L68.1,319.06 L68.6,318.98 L69.1,318.86 L69.6,318.7 L70.1,318.49 L70.6,318.22 L71.1,317.88 L71.6,317.47 L72.1,316.98 L72.6,316.41 L73.1,315.74 L73.6,314.99 L74.1,314.15 L74.6,313.2 L75.1,312.16 L75.6,311.02 L76.1,309.77 L76.6,308.44 L77.1,307 L77.6,305.48 L78.1,303.86 L78.6,302.17 L79.1,300.4 L79.6,298.58 L80.1,296.71 L80.6,294.82 L81.1,292.93 L81.6,291.06 L82.1,289.28 L82.6,287.6 L83.1,286.06 L83.6,284.7 L84.1,283.52 L84.6,282.57 L85.1,281.86 L85.6,281.42 L86.1,281.25 L86.6,281.38 L87.1,281.8 L87.6,282.56 L88.1,283.66 L88.6,285.07 L89.1,286.76 L89.6,288.69 L90.1,290.81 L90.6,293.09 L91.1,295.48 L91.6,297.93 L92.1,300.42 L92.6,302.92 L93.1,305.4 L93.6,307.85 L94.1,310.25 L94.6,312.59 L95.1,314.86 L95.6,317.04 L96.1,319.15 L96.6,321.17 L97.1,323.1 L97.6,324.94 L98.1,326.69 L98.6,328.34 L99.1,329.91 L99.6,331.38 L100.1,332.75 L100.6,334.04 L101.1,335.23 L101.6,336.33 L102.1,337.35 L102.6,338.28 L103.1,339.13 L103.6,339.91 L104.1,340.6 L104.6,341.24 L105.1,341.82 L105.6,342.35 L106.1,342.83 L106.6,343.27 L107.1,343.68 L107.6,344.06 L108.1,344.4 L108.6,344.72 L109.1,345.02 L109.6,345.3 L110.1,345.56 L110.6,345.8 L111.1,346.03 L111.6,346.25 L112.1,346.46 L112.6,346.67 L113.1,346.86 L113.6,347.05 L114.1,347.23 L114.6,347.4 L115.1,347.57 L115.6,347.73 L116.1,347.88 L116.6,348.03 L117.1,348.17 L117.6,348.31 L118.1,348.45 L118.6,348.58 L119.1,348.72 L119.6,348.85 L120.1,348.98 L120.6,349.11 L121.1,349.24 L121.6,349.36 L122.1,349.49 L122.6,349.62 L123.1,349.75 L123.6,349.88 L124.1,350 L124.6,350.13 L125.1,350.26 L125.6,350.38 L126.1,350.51 L126.6,350.63 L127.1,350.76 L127.6,350.88 L128.1,351 L128.6,351.13 L129.1,351.25 L129.6,351.38 L130.1,351.5 L130.6,351.63 L131.1,351.75 L131.6,351.88 L132.1,352 L132.6,352.12 L133.1,352.24 L133.6,352.36 L134.1,352.47 L134.6,352.59 L135.1,352.71 L135.6,352.83 L136.1,352.95 L136.6,353.07 L137.1,353.2 L137.6,353.33 L138.1,353.46 L138.6,353.6 L139.1,353.75 L139.6,353.9 L140.1,354.06 L140.6,354.23 L141.1,354.4 L141.6,354.59 L142.1,354.8 L142.6,355.02 L143.1,355.25 L143.6,355.5 L144.1,355.76 L144.6,356.04 L145.1,356.34 L145.6,356.69 L146.1,357.08 L146.6,357.52 L147.1,358 L147.6,358.5 L148.1,359.02 L148.6,359.55 L149.1,360.09 L149.6,360.62 L150.1,361.13 L150.6,361.63 L151.1,362.1 L151.6,362.54 L152.1,362.97 L152.6,363.39 L153.1,363.81 L153.6,364.22 L154.1,364.62 L154.6,365.03 L155.1,365.42 L155.6,365.82 L156.1,366.2 L156.6,366.59 L157.1,366.97 L157.6,367.35 L158.1,367.72 L158.6,368.09 L159.1,368.46 L159.6,368.83 L160.1,369.19 L160.6,369.55 L161.1,369.9 L161.6,370.25 L162.1,370.59 L162.6,370.94 L163.1,371.27 L163.6,371.6 L164.1,371.93 L164.6,372.26 L165.1,372.58 L165.6,372.9 L166.1,373.22 L166.6,373.53 L167.1,373.84 L167.6,374.14 L168.1,374.44 L168.6,374.74 L169.1,375.03 L169.6,375.31 L170.1,375.59 L170.6,375.86 L170.6,376.12 L170.1,375.85 L169.6,375.57 L169.1,375.29 L168.6,375 L168.1,374.71 L167.6,374.41 L167.1,374.11 L166.6,373.81 L166.1,373.5 L165.6,373.19 L165.1,372.87 L164.6,372.55 L164.1,372.23 L163.6,371.9 L163.1,371.58 L162.6,371.24 L162.1,370.91 L161.6,370.56 L161.1,370.22 L160.6,369.87 L160.1,369.52 L159.6,369.16 L159.1,368.8 L158.6,368.44 L158.1,368.07 L157.6,367.7 L157.1,367.33 L156.6,366.95 L156.1,366.57 L155.6,366.19 L155.1,365.8 L154.6,365.41 L154.1,365.01 L153.6,364.61 L153.1,364.21 L152.6,363.8 L152.1,363.38 L151.6,362.96 L151.1,362.53 L150.6,362.06 L150.1,361.57 L149.6,361.06 L149.1,360.54 L148.6,360.01 L148.1,359.49 L147.6,358.97 L147.1,358.48 L146.6,358.01 L146.1,357.58 L145.6,357.2 L145.1,356.86 L144.6,356.57 L144.1,356.3 L143.6,356.04 L143.1,355.8 L142.6,355.58 L142.1,355.37 L141.6,355.18 L141.1,355 L140.6,354.83 L140.1,354.68 L139.6,354.53 L139.1,354.39 L138.6,354.26 L138.1,354.13 L137.6,354.01 L137.1,353.89 L136.6,353.78 L136.1,353.67 L135.6,353.56 L135.1,353.46 L134.6,353.35 L134.1,353.25 L133.6,353.15 L133.1,353.05 L132.6,352.95 L132.1,352.85 L131.6,352.74 L131.1,352.64 L130.6,352.53 L130.1,352.43 L129.6,352.32 L129.1,352.22 L128.6,352.12 L128.1,352.02 L127.6,351.92 L127.1,351.82 L126.6,351.72 L126.1,351.62 L125.6,351.53 L125.1,351.43 L124.6,351.33 L124.1,351.24 L123.6,351.14 L123.1,351.05 L122.6,350.96 L122.1,350.86 L121.6,350.77 L121.1,350.68 L120.6,350.6 L120.1,350.51 L119.6,350.42 L119.1,350.34 L118.6,350.26 L118.1,350.17 L117.6,350.09 L117.1,350.01 L116.6,349.92 L116.1,349.84 L115.6,349.75 L115.1,349.66 L114.6,349.57 L114.1,349.47 L113.6,349.38 L113.1,349.28 L112.6,349.18 L112.1,349.08 L111.6,348.98 L111.1,348.88 L110.6,348.78 L110.1,348.68 L109.6,348.58 L109.1,348.47 L108.6,348.37 L108.1,348.26 L107.6,348.14 L107.1,348.02 L106.6,347.9 L106.1,347.77 L105.6,347.64 L105.1,347.5 L104.6,347.35 L104.1,347.2 L103.6,347.03 L103.1,346.85 L102.6,346.65 L102.1,346.44 L101.6,346.21 L101.1,345.98 L100.6,345.74 L100.1,345.49 L99.6,345.24 L99.1,344.99 L98.6,344.74 L98.1,344.49 L97.6,344.24 L97.1,344.01 L96.6,343.78 L96.1,343.55 L95.6,343.32 L95.1,343.1 L94.6,342.87 L94.1,342.63 L93.6,342.38 L93.1,342.13 L92.6,341.85 L92.1,341.56 L91.6,341.25 L91.1,340.91 L90.6,340.54 L90.1,340.15 L89.6,339.75 L89.1,339.33 L88.6,338.9 L88.1,338.46 L87.6,338.02 L87.1,337.57 L86.6,337.12 L86.1,336.64 L85.6,336.14 L85.1,335.62 L84.6,335.08 L84.1,334.55 L83.6,334.01 L83.1,333.49 L82.6,332.99 L82.1,332.52 L81.6,332.08 L81.1,331.68 L80.6,331.28 L80.1,330.89 L79.6,330.51 L79.1,330.14 L78.6,329.79 L78.1,329.45 L77.6,329.13 L77.1,328.83 L76.6,328.56 L76.1,328.3 L75.6,328.07 L75.1,327.85 L74.6,327.65 L74.1,327.45 L73.6,327.27 L73.1,327.09 L72.6,326.91 L72.1,326.72 L71.6,326.54 L71.1,326.34 L70.6,326.13 L70.1,325.92 L69.6,325.7 L69.1,325.47 L68.6,325.23 L68.1,325 L67.6,324.76 L67.1,324.53 L66.6,324.29 L66.1,324.06 L65.6,323.84 L65.1,323.62 L64.6,323.41 L64.1,323.2 L63.6,323.01 L63.1,322.84 L62.6,322.67 L62.1,322.53 L61.6,322.4 L61.1,322.28 L60.6,322.17 L60.1,322.07 L59.6,321.98 L59.1,321.89 L58.6,321.79 L58.1,321.7 L57.6,321.6 L57.1,321.49 L56.6,321.38 L56.1,321.25 L55.6,321.13 L55.1,321.01 L54.6,320.88 L54.1,320.74 L53.6,320.6 L53.1,320.46 L52.6,320.3 L52.1,320.14 L51.6,319.96 L51.1,319.78 L50.6,319.58 L50.1,319.34 L49.6,319.08 L49.1,318.79 L48.6,318.48 L48.1,318.16 L47.6,317.83 L47.1,317.49 L46.6,317.16 L46.1,316.83 L45.6,316.51 L45.1,316.2 L44.6,315.9 L44.1,315.61 L43.6,315.32 L43.1,315.03 L42.6,314.74 L42.1,314.45 L41.6,314.16 L41.1,313.86 L40.6,313.57 L40.1,313.28 L39.6,312.98 L39.1,312.68 L38.6,312.36 L38.1,312.03 L37.6,311.69 L37.1,311.35 L36.6,311.01 L36.1,310.67 L35.6,310.35 L35.1,310.05 L34.6,309.77 L34.1,309.52 L33.6,309.3 L33.1,309.11 L32.6,308.92 L32.1,308.75 L31.6,308.58 L31.1,308.43 L30.6,308.28 L30.1,308.14 L29.6,308.01 L29.1,307.88 L28.6,307.77 L28.1,307.66 L27.6,307.56 L27.1,307.46 L26.6,307.37 L26.1,307.27 L25.6,307.18 L25.1,307.09 L24.6,307.01 L24.1,306.93 L23.6,306.85 L23.1,306.78 L22.6,306.72 L22.1,306.66 L21.6,306.6 L21.1,306.55 Z" fill="url(#g5)" stroke="none"/>
<defs><linearGradient id="g6" x1="0" y1="0" x2="0" y2="1"><stop offset="0" stop-color="#a6d3b3" stop-opacity="1"/><stop offset="1" stop-color="#c4e2cc" stop-opacity="1"/></linearGradient></defs>
<path d="M130.1,352.17 L130.6,352.26 L131.1,352.36 L131.6,352.44 L132.1,352.53 L132.6,352.61 L133.1,352.68 L133.6,352.75 L134.1,352.81 L134.6,352.85 L135.1,352.89 L135.6,352.9 L136.1,352.89 L136.6,352.86 L137.1,352.78 L137.6,352.66 L138.1,352.48 L138.6,352.23 L139.1,351.89 L139.6,351.45 L140.1,350.89 L140.6,350.19 L141.1,349.35 L141.6,348.35 L142.1,347.19 L142.6,345.85 L143.1,344.34 L143.6,342.66 L144.1,340.84 L144.6,338.89 L145.1,336.85 L145.6,334.79 L146.1,332.77 L146.6,330.84 L147.1,329.04 L147.6,327.44 L148.1,326.11 L148.6,325.09 L149.1,324.44 L149.6,324.19 L150.1,324.38 L150.6,324.98 L151.1,325.93 L151.6,327.19 L152.1,328.77 L152.6,330.62 L153.1,332.72 L153.6,335 L154.1,337.42 L154.6,339.93 L155.1,342.48 L155.6,345.04 L156.1,347.55 L156.6,350 L157.1,352.34 L157.6,354.56 L158.1,356.64 L158.6,358.57 L159.1,360.35 L159.6,361.98 L160.1,363.45 L160.6,364.77 L161.1,365.96 L161.6,367.02 L162.1,367.96 L162.6,368.8 L163.1,369.56 L163.6,370.23 L164.1,370.83 L164.6,371.38 L165.1,371.88 L165.6,372.35 L166.1,372.78 L166.6,373.18 L167.1,373.56 L167.6,373.92 L168.1,374.27 L168.6,374.6 L169.1,374.91 L169.6,375.22 L170.1,375.52 L170.6,375.81 L171.1,376.1 L171.6,376.38 L172.1,376.67 L172.6,376.94 L172.6,377.19 L172.1,376.93 L171.6,376.66 L171.1,376.39 L170.6,376.12 L170.1,375.85 L169.6,375.57 L169.1,375.29 L168.6,375 L168.1,374.71 L167.6,374.41 L167.1,374.11 L166.6,373.81 L166.1,373.5 L165.6,373.19 L165.1,372.87 L164.6,372.55 L164.1,372.23 L163.6,371.9 L163.1,371.58 L162.6,371.24 L162.1,370.91 L161.6,370.56 L161.1,370.22 L160.6,369.87 L160.1,369.52 L159.6,369.16 L159.1,368.8 L158.6,368.44 L158.1,368.07 L157.6,367.7 L157.1,367.33 L156.6,366.95 L156.1,366.57 L155.6,366.19 L155.1,365.8 L154.6,365.41 L154.1,365.01 L153.6,364.61 L153.1,364.21 L152.6,363.8 L152.1,363.38 L151.6,362.96 L151.1,362.53 L150.6,362.06 L150.1,361.57 L149.6,361.06 L149.1,360.54 L148.6,360.01 L148.1,359.49 L147.6,358.97 L147.1,358.48 L146.6,358.01 L146.1,357.58 L145.6,357.2 L145.1,356.86 L144.6,356.57 L144.1,356.3 L143.6,356.04 L143.1,355.8 L142.6,355.58 L142.1,355.37 L141.6,355.18 L141.1,355 L140.6,354.83 L140.1,354.68 L139.6,354.53 L139.1,354.39 L138.6,354.26 L138.1,354.13 L137.6,354.01 L137.1,353.89 L136.6,353.78 L136.1,353.67 L135.6,353.56 L135.1,353.46 L134.6,353.35 L134.1,353.25 L133.6,353.15 L133.1,353.05 L132.6,352.95 L132.1,352.85 L131.6,352.74 L131.1,352.64 L130.6,352.53 L130.1,352.43 Z" fill="url(#g6)" stroke="none"/>
<defs><linearGradient id="g7" x1="0" y1="0" x2="0" y2="1"><stop offset="0" stop-color="#f6c2ae" stop-opacity="1"/><stop offset="1" stop-color="#f8d8cc" stop-opacity="1"/></linearGradient></defs>
<path d="M117.1,349.76 L117.6,349.83 L118.1,349.91 L118.6,349.99 L119.1,350.07 L119.6,350.15 L120.1,350.23 L120.6,350.31 L121.1,350.39 L121.6,350.47 L122.1,350.55 L122.6,350.64 L123.1,350.72 L123.6,350.81 L124.1,350.9 L124.6,350.98 L125.1,351.07 L125.6,351.16 L126.1,351.25 L126.6,351.34 L127.1,351.42 L127.6,351.51 L128.1,351.6 L128.6,351.69 L129.1,351.78 L129.6,351.87 L130.1,351.96 L130.6,352.06 L131.1,352.15 L131.6,352.24 L132.1,352.33 L132.6,352.42 L133.1,352.5 L133.6,352.59 L134.1,352.67 L134.6,352.75 L135.1,352.84 L135.6,352.92 L136.1,353 L136.6,353.09 L137.1,353.18 L137.6,353.27 L138.1,353.37 L138.6,353.46 L139.1,353.56 L139.6,353.67 L140.1,353.78 L140.6,353.89 L141.1,354.01 L141.6,354.14 L142.1,354.28 L142.6,354.43 L143.1,354.58 L143.6,354.74 L144.1,354.9 L144.6,355.07 L145.1,355.25 L145.6,355.45 L146.1,355.68 L146.6,355.94 L147.1,356.21 L147.6,356.48 L148.1,356.74 L148.6,356.97 L149.1,357.17 L149.6,357.33 L150.1,357.43 L150.6,357.45 L151.1,357.4 L151.6,357.26 L152.1,357.06 L152.6,356.79 L153.1,356.44 L153.6,356.03 L154.1,355.55 L154.6,355.01 L155.1,354.39 L155.6,353.71 L156.1,352.97 L156.6,352.18 L157.1,351.34 L157.6,350.47 L158.1,349.56 L158.6,348.64 L159.1,347.71 L159.6,346.8 L160.1,345.91 L160.6,345.06 L161.1,344.27 L161.6,343.57 L162.1,342.96 L162.6,342.48 L163.1,342.13 L163.6,341.94 L164.1,341.91 L164.6,342.07 L165.1,342.4 L165.6,342.92 L166.1,343.61 L166.6,344.47 L167.1,345.49 L167.6,346.65 L168.1,347.95 L168.6,349.36 L169.1,350.86 L169.6,352.44 L170.1,354.07 L170.6,355.75 L171.1,357.45 L171.6,359.15 L172.1,360.84 L172.6,362.5 L173.1,364.11 L173.6,365.67 L174.1,367.15 L174.6,368.56 L175.1,369.88 L175.6,371.12 L176.1,372.26 L176.6,373.3 L177.1,374.25 L177.6,375.12 L178.1,375.9 L178.6,376.6 L179.1,377.23 L179.6,377.79 L180.1,378.3 L180.6,378.75 L181.1,379.15 L181.6,379.52 L182.1,379.85 L182.6,380.16 L183.1,380.44 L183.6,380.69 L184.1,380.91 L184.6,381.12 L184.6,381.39 L184.1,381.26 L183.6,381.13 L183.1,380.99 L182.6,380.84 L182.1,380.69 L181.6,380.55 L181.1,380.41 L180.6,380.27 L180.1,380.13 L179.6,379.99 L179.1,379.85 L178.6,379.7 L178.1,379.55 L177.6,379.39 L177.1,379.22 L176.6,379.04 L176.1,378.85 L175.6,378.64 L175.1,378.42 L174.6,378.19 L174.1,377.96 L173.6,377.71 L173.1,377.45 L172.6,377.19 L172.1,376.93 L171.6,376.66 L171.1,376.39 L170.6,376.12 L170.1,375.85 L169.6,375.57 L169.1,375.29 L168.6,375 L168.1,374.71 L167.6,374.41 L167.1,374.11 L166.6,373.81 L166.1,373.5 L165.6,373.19 L165.1,372.87 L164.6,372.55 L164.1,372.23 L163.6,371.9 L163.1,371.58 L162.6,371.24 L162.1,370.91 L161.6,370.56 L161.1,370.22 L160.6,369.87 L160.1,369.52 L159.6,369.16 L159.1,368.8 L158.6,368.44 L158.1,368.07 L157.6,367.7 L157.1,367.33 L156.6,366.95 L156.1,366.57 L155.6,366.19 L155.1,365.8 L154.6,365.41 L154.1,365.01 L153.6,364.61 L153.1,364.21 L152.6,363.8 L152.1,363.38 L151.6,362.96 L151.1,362.53 L150.6,362.06 L150.1,361.57 L149.6,361.06 L149.1,360.54 L148.6,360.01 L148.1,359.49 L147.6,358.97 L147.1,358.48 L146.6,358.01 L146.1,357.58 L145.6,357.2 L145.1,356.86 L144.6,356.57 L144.1,356.3 L143.6,356.04 L143.1,355.8 L142.6,355.58 L142.1,355.37 L141.6,355.18 L141.1,355 L140.6,354.83 L140.1,354.68 L139.6,354.53 L139.1,354.39 L138.6,354.26 L138.1,354.13 L137.6,354.01 L137.1,353.89 L136.6,353.78 L136.1,353.67 L135.6,353.56 L135.1,353.46 L134.6,353.35 L134.1,353.25 L133.6,353.15 L133.1,353.05 L132.6,352.95 L132.1,352.85 L131.6,352.74 L131.1,352.64 L130.6,352.53 L130.1,352.43 L129.6,352.32 L129.1,352.22 L128.6,352.12 L128.1,352.02 L127.6,351.92 L127.1,351.82 L126.6,351.72 L126.1,351.62 L125.6,351.53 L125.1,351.43 L124.6,351.33 L124.1,351.24 L123.6,351.14 L123.1,351.05 L122.6,350.96 L122.1,350.86 L121.6,350.77 L121.1,350.68 L120.6,350.6 L120.1,350.51 L119.6,350.42 L119.1,350.34 L118.6,350.26 L118.1,350.17 L117.6,350.09 L117.1,350.01 Z" fill="url(#g7)" stroke="none"/>
<defs><linearGradient id="g8" x1="0" y1="0" x2="0" y2="1"><stop offset="0" stop-color="#fba6f6" stop-opacity="1"/><stop offset="1" stop-color="#fdf3fd" stop-opacity="1"/></linearGradient></defs>
<path d="M125.1,351.18 L125.6,351.27 L126.1,351.36 L126.6,351.46 L127.1,351.55 L127.6,351.65 L128.1,351.75 L128.6,351.84 L129.1,351.94 L129.6,352.04 L130.1,352.14 L130.6,352.24 L131.1,352.34 L131.6,352.45 L132.1,352.55 L132.6,352.64 L133.1,352.74 L133.6,352.84 L134.1,352.93 L134.6,353.03 L135.1,353.13 L135.6,353.23 L136.1,353.33 L136.6,353.44 L137.1,353.54 L137.6,353.66 L138.1,353.77 L138.6,353.9 L139.1,354.02 L139.6,354.16 L140.1,354.3 L140.6,354.45 L141.1,354.61 L141.6,354.78 L142.1,354.97 L142.6,355.17 L143.1,355.39 L143.6,355.62 L144.1,355.87 L144.6,356.14 L145.1,356.42 L145.6,356.75 L146.1,357.13 L146.6,357.55 L147.1,358.01 L147.6,358.5 L148.1,359 L148.6,359.52 L149.1,360.04 L149.6,360.55 L150.1,361.06 L150.6,361.54 L151.1,361.99 L151.6,362.41 L152.1,362.82 L152.6,363.23 L153.1,363.63 L153.6,364.03 L154.1,364.42 L154.6,364.8 L155.1,365.18 L155.6,365.56 L156.1,365.93 L156.6,366.29 L157.1,366.66 L157.6,367.02 L158.1,367.37 L158.6,367.73 L159.1,368.08 L159.6,368.42 L160.1,368.76 L160.6,369.1 L161.1,369.43 L161.6,369.76 L162.1,370.08 L162.6,370.4 L163.1,370.72 L163.6,371.03 L164.1,371.33 L164.6,371.63 L165.1,371.93 L165.6,372.23 L166.1,372.52 L166.6,372.8 L167.1,373.08 L167.6,373.36 L168.1,373.63 L168.6,373.89 L169.1,374.15 L169.6,374.4 L170.1,374.65 L170.6,374.89 L171.1,375.13 L171.6,375.37 L172.1,375.6 L172.6,375.83 L173.1,376.05 L173.6,376.26 L174.1,376.47 L174.6,376.67 L175.1,376.85 L175.6,377.02 L176.1,377.17 L176.6,377.31 L177.1,377.44 L177.6,377.55 L178.1,377.64 L178.6,377.73 L179.1,377.81 L179.6,377.87 L180.1,377.93 L180.6,377.98 L181.1,378.02 L181.6,378.05 L182.1,378.06 L182.6,378.07 L183.1,378.06 L183.6,378.03 L184.1,377.96 L184.6,377.85 L185.1,377.71 L185.6,377.53 L186.1,377.31 L186.6,377.03 L187.1,376.7 L187.6,376.31 L188.1,375.84 L188.6,375.29 L189.1,374.65 L189.6,373.93 L190.1,373.11 L190.6,372.17 L191.1,371.11 L191.6,369.89 L192.1,368.5 L192.6,366.92 L193.1,365.12 L193.6,363.11 L194.1,360.85 L194.6,358.34 L195.1,355.57 L195.6,352.54 L196.1,349.27 L196.6,345.79 L197.1,342.1 L197.6,338.22 L198.1,334.19 L198.6,330.03 L199.1,325.79 L199.6,321.51 L200.1,317.23 L200.6,313.01 L201.1,308.9 L201.6,304.96 L202.1,301.25 L202.6,297.84 L203.1,294.79 L203.6,292.17 L204.1,290.02 L204.6,288.4 L205.1,287.35 L205.6,286.91 L206.1,287.08 L206.6,287.88 L207.1,289.26 L207.6,291.2 L208.1,293.69 L208.6,296.68 L209.1,300.16 L209.6,304.06 L210.1,308.34 L210.6,313.04 L211.1,318.12 L211.6,323.49 L212.1,329.07 L212.6,334.79 L213.1,340.55 L213.6,346.28 L214.1,351.91 L214.6,357.37 L215.1,362.59 L215.6,367.51 L216.1,372.08 L216.6,376.42 L217.1,380.52 L217.6,384.39 L218.1,388.01 L218.6,391.38 L219.1,394.49 L219.6,397.34 L220.1,399.95 L220.6,402.32 L221.1,404.48 L221.6,406.44 L222.1,408.21 L222.6,409.8 L223.1,411.22 L223.6,412.49 L224.1,413.61 L224.6,414.61 L225.1,415.49 L225.6,416.26 L226.1,416.94 L226.6,417.54 L227.1,418.07 L227.6,418.53 L228.1,418.94 L228.6,419.3 L229.1,419.62 L229.6,419.91 L230.1,420.16 L230.6,420.39 L231.1,420.6 L231.6,420.79 L232.1,420.97 L232.6,421.13 L233.1,421.27 L233.6,421.41 L234.1,421.54 L234.6,421.66 L235.1,421.78 L235.6,421.89 L236.1,422 L236.6,422.1 L237.1,422.2 L237.6,422.29 L238.1,422.38 L238.6,422.47 L239.1,422.56 L239.6,422.64 L240.1,422.72 L240.6,422.8 L241.1,422.88 L241.6,422.95 L242.1,423.02 L242.6,423.1 L243.1,423.16 L243.6,423.23 L244.1,423.3 L244.6,423.36 L245.1,423.42 L245.6,423.48 L246.1,423.54 L246.6,423.59 L247.1,423.65 L247.6,423.7 L248.1,423.75 L248.6,423.8 L249.1,423.85 L249.6,423.89 L250.1,423.94 L250.6,423.98 L251.1,424.02 L251.6,424.06 L252.1,424.1 L252.6,424.13 L253.1,424.16 L253.6,424.2 L254.1,424.22 L254.6,424.25 L255.1,424.28 L255.6,424.3 L256.1,424.33 L256.6,424.35 L257.1,424.37 L257.6,424.38 L258.1,424.4 L258.6,424.41 L258.6,424.9 L258.1,424.89 L257.6,424.89 L257.1,424.88 L256.6,424.87 L256.1,424.86 L255.6,424.85 L255.1,424.83 L254.6,424.82 L254.1,424.8 L253.6,424.78 L253.1,424.77 L252.6,424.74 L252.1,424.72 L251.6,424.7 L251.1,424.67 L250.6,424.65 L250.1,424.62 L249.6,424.59 L249.1,424.56 L248.6,424.53 L248.1,424.5 L247.6,424.47 L247.1,424.43 L246.6,424.4 L246.1,424.36 L245.6,424.32 L245.1,424.28 L244.6,424.24 L244.1,424.2 L243.6,424.16 L243.1,424.12 L242.6,424.07 L242.1,424.03 L241.6,423.98 L241.1,423.94 L240.6,423.89 L240.1,423.84 L239.6,423.79 L239.1,423.74 L238.6,423.69 L238.1,423.64 L237.6,423.59 L237.1,423.54 L236.6,423.49 L236.1,423.43 L235.6,423.38 L235.1,423.32 L234.6,423.27 L234.1,423.21 L233.6,423.16 L233.1,423.1 L232.6,423.04 L232.1,422.98 L231.6,422.93 L231.1,422.87 L230.6,422.81 L230.1,422.75 L229.6,422.69 L229.1,422.63 L228.6,422.57 L228.1,422.51 L227.6,422.45 L227.1,422.39 L226.6,422.33 L226.1,422.26 L225.6,422.19 L225.1,422.12 L224.6,422.04 L224.1,421.96 L223.6,421.87 L223.1,421.77 L222.6,421.67 L222.1,421.56 L221.6,421.44 L221.1,421.32 L220.6,421.18 L220.1,421.03 L219.6,420.86 L219.1,420.66 L218.6,420.43 L218.1,420.15 L217.6,419.84 L217.1,419.49 L216.6,419.1 L216.1,418.68 L215.6,418.18 L215.1,417.5 L214.6,416.63 L214.1,415.62 L213.6,414.49 L213.1,413.29 L212.6,412.03 L212.1,410.76 L211.6,409.51 L211.1,408.31 L210.6,407.19 L210.1,406.18 L209.6,405.28 L209.1,404.39 L208.6,403.52 L208.1,402.68 L207.6,401.85 L207.1,401.05 L206.6,400.28 L206.1,399.53 L205.6,398.82 L205.1,398.13 L204.6,397.48 L204.1,396.86 L203.6,396.26 L203.1,395.69 L202.6,395.13 L202.1,394.59 L201.6,394.06 L201.1,393.53 L200.6,393.01 L200.1,392.48 L199.6,391.96 L199.1,391.45 L198.6,390.94 L198.1,390.44 L197.6,389.95 L197.1,389.47 L196.6,389 L196.1,388.53 L195.6,388.08 L195.1,387.63 L194.6,387.17 L194.1,386.7 L193.6,386.23 L193.1,385.77 L192.6,385.31 L192.1,384.86 L191.6,384.44 L191.1,384.04 L190.6,383.67 L190.1,383.34 L189.6,383.05 L189.1,382.8 L188.6,382.59 L188.1,382.4 L187.6,382.23 L187.1,382.07 L186.6,381.92 L186.1,381.78 L185.6,381.65 L185.1,381.52 L184.6,381.39 L184.1,381.26 L183.6,381.13 L183.1,380.99 L182.6,380.84 L182.1,380.69 L181.6,380.55 L181.1,380.41 L180.6,380.27 L180.1,380.13 L179.6,379.99 L179.1,379.85 L178.6,379.7 L178.1,379.55 L177.6,379.39 L177.1,379.22 L176.6,379.04 L176.1,378.85 L175.6,378.64 L175.1,378.42 L174.6,378.19 L174.1,377.96 L173.6,377.71 L173.1,377.45 L172.6,377.19 L172.1,376.93 L171.6,376.66 L171.1,376.39 L170.6,376.12 L170.1,375.85 L169.6,375.57 L169.1,375.29 L168.6,375 L168.1,374.71 L167.6,374.41 L167.1,374.11 L166.6,373.81 L166.1,373.5 L165.6,373.19 L165.1,372.87 L164.6,372.55 L164.1,372.23 L163.6,371.9 L163.1,371.58 L162.6,371.24 L162.1,370.91 L161.6,370.56 L161.1,370.22 L160.6,369.87 L160.1,369.52 L159.6,369.16 L159.1,368.8 L158.6,368.44 L158.1,368.07 L157.6,367.7 L157.1,367.33 L156.6,366.95 L156.1,366.57 L155.6,366.19 L155.1,365.8 L154.6,365.41 L154.1,365.01 L153.6,364.61 L153.1,364.21 L152.6,363.8 L152.1,363.38 L151.6,362.96 L151.1,362.53 L150.6,362.06 L150.1,361.57 L149.6,361.06 L149.1,360.54 L148.6,360.01 L148.1,359.49 L147.6,358.97 L147.1,358.48 L146.6,358.01 L146.1,357.58 L145.6,357.2 L145.1,356.86 L144.6,356.57 L144.1,356.3 L143.6,356.04 L143.1,355.8 L142.6,355.58 L142.1,355.37 L141.6,355.18 L141.1,355 L140.6,354.83 L140.1,354.68 L139.6,354.53 L139.1,354.39 L138.6,354.26 L138.1,354.13 L137.6,354.01 L137.1,353.89 L136.6,353.78 L136.1,353.67 L135.6,353.56 L135.1,353.46 L134.6,353.35 L134.1,353.25 L133.6,353.15 L133.1,353.05 L132.6,352.95 L132.1,352.85 L131.6,352.74 L131.1,352.64 L130.6,352.53 L130.1,352.43 L129.6,352.32 L129.1,352.22 L128.6,352.12 L128.1,352.02 L127.6,351.92 L127.1,351.82 L126.6,351.72 L126.1,351.62 L125.6,351.53 L125.1,351.43 Z" fill="url(#g8)" stroke="none"/>
<path d="M21.4,302.49 L24,299.62 L26.6,299.25 L29.2,292.65 L31.8,287.39 L34.4,279.73 L37,273.59 L39.6,272.69 L42.2,276.26 L44.8,271.38 L47.4,293.91 L50,299.72 L52.6,308.53 L55.2,312.35 L57.8,314.5 L60.4,315.05 L63,316.36 L65.6,315.39 L68.2,316.24 L70.8,316.07 L73.4,313.33 L76,307.19 L78.6,299.88 L81.2,280.33 L83.8,281.29 L86.4,277.28 L89,283.03 L91.6,293.93 L94.2,307.05 L96.8,318.33 L99.4,327.16 L102,333.4 L104.6,337.76 L107.2,337.56 L109.8,341.79 L112.4,341.26 L115,344.08 L117.6,344.95 L120.2,345.58 L122.8,345.75 L125.4,346.41 L128,346.72 L130.6,347.79 L133.2,346.32 L135.8,348.37 L138.4,345.61 L141,344.12 L143.6,337.28 L146.2,323.94 L148.8,317.45 L151.4,314.19 L154,323.47 L156.6,330.24 L159.2,334.73 L161.8,333.85 L164.4,335.45 L167,338.37 L169.6,346.94 L172.2,352.94 L174.8,362.66 L177.4,367.5 L180,372.06 L182.6,369.13 L185.2,374.29 L187.8,372.82 L190.4,369.11 L193,360.42 L195.6,349.77 L198.2,331.64 L200.8,309.82 L203.4,290.8 L206,285.66 L208.6,294.97 L211.2,318.16 L213.8,347.45 L216.4,373.76 L219,392.35 L221.6,405.57 L224.2,412.88 L226.8,416.69 L229.4,418.28 L232,419.47 L234.6,417.83 L237.2,420.53 L239.8,421.02 L242.4,422.14 L245,421.51 L247.6,423.31 L250.2,423.47 L252.8,423.55 L255.4,421.81 L258,423.92" fill="none" stroke="#aaaaaa" stroke-width="0.95" stroke-linejoin="miter"/>
<path d="M21.1,306.27 L21.6,306.23 L22.1,306.18 L22.6,306.11 L23.1,306.01 L23.6,305.88 L24.1,305.71 L24.6,305.49 L25.1,305.22 L25.6,304.89 L26.1,304.49 L26.6,304 L27.1,303.43 L27.6,302.76 L28.1,301.99 L28.6,301.12 L29.1,300.15 L29.6,299.06 L30.1,297.87 L30.6,296.58 L31.1,295.2 L31.6,293.73 L32.1,292.2 L32.6,290.61 L33.1,288.99 L33.6,287.37 L34.1,285.77 L34.6,284.25 L35.1,282.82 L35.6,281.51 L36.1,280.35 L36.6,279.35 L37.1,278.54 L37.6,277.94 L38.1,277.56 L38.6,277.41 L39.1,277.5 L39.6,277.81 L40.1,278.3 L40.6,278.95 L41.1,279.77 L41.6,280.74 L42.1,281.85 L42.6,283.11 L43.1,284.48 L43.6,285.96 L44.1,287.54 L44.6,289.19 L45.1,290.91 L45.6,292.67 L46.1,294.48 L46.6,296.3 L47.1,298.13 L47.6,299.94 L48.1,301.71 L48.6,303.43 L49.1,305.09 L49.6,306.66 L50.1,308.15 L50.6,309.53 L51.1,310.81 L51.6,312 L52.1,313.1 L52.6,314.11 L53.1,315.04 L53.6,315.88 L54.1,316.65 L54.6,317.35 L55.1,317.98 L55.6,318.54 L56.1,319.05 L56.6,319.52 L57.1,319.93 L57.6,320.29 L58.1,320.61 L58.6,320.89 L59.1,321.14 L59.6,321.36 L60.1,321.57 L60.6,321.76 L61.1,321.95 L61.6,322.13 L62.1,322.31 L62.6,322.5 L63.1,322.7 L63.6,322.91 L64.1,323.12 L64.6,323.34 L65.1,323.57" fill="none" stroke="#2156d6" stroke-width="1.5" stroke-linejoin="round"/>
<path d="M34.1,308.5 L34.6,308.74 L35.1,309 L35.6,309.28 L36.1,309.58 L36.6,309.9 L37.1,310.22 L37.6,310.54 L38.1,310.86 L38.6,311.17 L39.1,311.46 L39.6,311.74 L40.1,312.01 L40.6,312.28 L41.1,312.55 L41.6,312.81 L42.1,313.08 L42.6,313.34 L43.1,313.6 L43.6,313.86 L44.1,314.13 L44.6,314.39 L45.1,314.65 L45.6,314.92 L46.1,315.21 L46.6,315.51 L47.1,315.81 L47.6,316.1 L48.1,316.4 L48.6,316.68 L49.1,316.94 L49.6,317.19 L50.1,317.41 L50.6,317.59 L51.1,317.75 L51.6,317.89 L52.1,318.01 L52.6,318.12 L53.1,318.22 L53.6,318.31 L54.1,318.39 L54.6,318.46 L55.1,318.53 L55.6,318.59 L56.1,318.64 L56.6,318.69 L57.1,318.73 L57.6,318.77 L58.1,318.78 L58.6,318.79 L59.1,318.8 L59.6,318.8 L60.1,318.8 L60.6,318.8 L61.1,318.8 L61.6,318.81 L62.1,318.82 L62.6,318.85 L63.1,318.88 L63.6,318.92 L64.1,318.97 L64.6,319.01 L65.1,319.05 L65.6,319.09 L66.1,319.12 L66.6,319.13 L67.1,319.13 L67.6,319.11 L68.1,319.06 L68.6,318.98 L69.1,318.86 L69.6,318.7 L70.1,318.49 L70.6,318.22 L71.1,317.88 L71.6,317.47 L72.1,316.98 L72.6,316.41 L73.1,315.74 L73.6,314.99 L74.1,314.15 L74.6,313.2 L75.1,312.16 L75.6,311.02 L76.1,309.77 L76.6,308.44 L77.1,307 L77.6,305.48 L78.1,303.86 L78.6,302.17 L79.1,300.4 L79.6,298.58 L80.1,296.71 L80.6,294.82 L81.1,292.93 L81.6,291.06 L82.1,289.28 L82.6,287.6 L83.1,286.06 L83.6,284.7 L84.1,283.52 L84.6,282.57 L85.1,281.86 L85.6,281.42 L86.1,281.25 L86.6,281.38 L87.1,281.8 L87.6,282.56 L88.1,283.66 L88.6,285.07 L89.1,286.76 L89.6,288.69 L90.1,290.81 L90.6,293.09 L91.1,295.48 L91.6,297.93 L92.1,300.42 L92.6,302.92 L93.1,305.4 L93.6,307.85 L94.1,310.25 L94.6,312.59 L95.1,314.86 L95.6,317.04 L96.1,319.15 L96.6,321.17 L97.1,323.1 L97.6,324.94 L98.1,326.69 L98.6,328.34 L99.1,329.91 L99.6,331.38 L100.1,332.75 L100.6,334.04 L101.1,335.23 L101.6,336.33 L102.1,337.35 L102.6,338.28 L103.1,339.13 L103.6,339.91 L104.1,340.6 L104.6,341.24 L105.1,341.82 L105.6,342.35 L106.1,342.83 L106.6,343.27 L107.1,343.68 L107.6,344.06 L108.1,344.4 L108.6,344.72 L109.1,345.02 L109.6,345.3 L110.1,345.56 L110.6,345.8 L111.1,346.03 L111.6,346.25 L112.1,346.46 L112.6,346.67 L113.1,346.86 L113.6,347.05 L114.1,347.23 L114.6,347.4 L115.1,347.57 L115.6,347.73 L116.1,347.88 L116.6,348.03 L117.1,348.17 L117.6,348.31 L118.1,348.45 L118.6,348.58 L119.1,348.72 L119.6,348.85 L120.1,348.98 L120.6,349.11 L121.1,349.24 L121.6,349.36 L122.1,349.49 L122.6,349.62 L123.1,349.75 L123.6,349.88 L124.1,350 L124.6,350.13 L125.1,350.26 L125.6,350.38 L126.1,350.51 L126.6,350.63 L127.1,350.76 L127.6,350.88 L128.1,351" fill="none" stroke="#a85be0" stroke-width="1.4" stroke-linejoin="round"/>
<path d="M104.1,347.15 L104.6,347.3 L105.1,347.45 L105.6,347.58 L106.1,347.72 L106.6,347.84 L107.1,347.96 L107.6,348.08 L108.1,348.19 L108.6,348.3 L109.1,348.41 L109.6,348.51 L110.1,348.62 L110.6,348.72 L111.1,348.81 L111.6,348.91 L112.1,349.01 L112.6,349.11 L113.1,349.2 L113.6,349.3 L114.1,349.39 L114.6,349.48 L115.1,349.57 L115.6,349.66 L116.1,349.74 L116.6,349.83 L117.1,349.91 L117.6,349.99 L118.1,350.07 L118.6,350.15 L119.1,350.23 L119.6,350.31 L120.1,350.39 L120.6,350.48 L121.1,350.56 L121.6,350.64 L122.1,350.73 L122.6,350.82 L123.1,350.91 L123.6,351 L124.1,351.09 L124.6,351.17 L125.1,351.26 L125.6,351.35 L126.1,351.44 L126.6,351.54 L127.1,351.63 L127.6,351.72 L128.1,351.81 L128.6,351.9 L129.1,351.99 L129.6,352.08 L130.1,352.17 L130.6,352.26 L131.1,352.36 L131.6,352.44 L132.1,352.53 L132.6,352.61 L133.1,352.68 L133.6,352.75 L134.1,352.81 L134.6,352.85 L135.1,352.89 L135.6,352.9 L136.1,352.89 L136.6,352.86 L137.1,352.78 L137.6,352.66 L138.1,352.48 L138.6,352.23 L139.1,351.89 L139.6,351.45 L140.1,350.89 L140.6,350.19 L141.1,349.35 L141.6,348.35 L142.1,347.19 L142.6,345.85 L143.1,344.34 L143.6,342.66 L144.1,340.84 L144.6,338.89 L145.1,336.85 L145.6,334.79 L146.1,332.77 L146.6,330.84 L147.1,329.04 L147.6,327.44 L148.1,326.11 L148.6,325.09 L149.1,324.44 L149.6,324.19 L150.1,324.38 L150.6,324.98 L151.1,325.93 L151.6,327.19 L152.1,328.77 L152.6,330.62 L153.1,332.72 L153.6,335 L154.1,337.42 L154.6,339.93 L155.1,342.48 L155.6,345.04 L156.1,347.55 L156.6,350 L157.1,352.34 L157.6,354.56 L158.1,356.64 L158.6,358.57 L159.1,360.35 L159.6,361.98 L160.1,363.45 L160.6,364.77 L161.1,365.96 L161.6,367.02 L162.1,367.96 L162.6,368.8 L163.1,369.56 L163.6,370.23 L164.1,370.83 L164.6,371.38 L165.1,371.88 L165.6,372.35 L166.1,372.78 L166.6,373.18 L167.1,373.56 L167.6,373.92 L168.1,374.27 L168.6,374.6 L169.1,374.91 L169.6,375.22 L170.1,375.52 L170.6,375.81 L171.1,376.1 L171.6,376.38 L172.1,376.67 L172.6,376.94 L173.1,377.21 L173.6,377.48 L174.1,377.73 L174.6,377.98 L175.1,378.22 L175.6,378.44 L176.1,378.66 L176.6,378.85 L177.1,379.04 L177.6,379.22 L178.1,379.38 L178.6,379.54 L179.1,379.7 L179.6,379.84 L180.1,379.99 L180.6,380.13 L181.1,380.28 L181.6,380.42 L182.1,380.57 L182.6,380.72 L183.1,380.87 L183.6,381.01 L184.1,381.15 L184.6,381.28 L185.1,381.41 L185.6,381.55 L186.1,381.68 L186.6,381.82 L187.1,381.97 L187.6,382.13 L188.1,382.31 L188.6,382.5 L189.1,382.71 L189.6,382.96 L190.1,383.25 L190.6,383.59 L191.1,383.96 L191.6,384.36 L192.1,384.79 L192.6,385.24 L193.1,385.7 L193.6,386.16 L194.1,386.63 L194.6,387.1 L195.1,387.57 L195.6,388.01 L196.1,388.47 L196.6,388.94 L197.1,389.41 L197.6,389.89 L198.1,390.39 L198.6,390.89 L199.1,391.39 L199.6,391.91 L200.1,392.43 L200.6,392.95 L201.1,393.48 L201.6,394.01" fill="none" stroke="#9cc6a6" stroke-width="1.3" stroke-linejoin="round"/>
<path d="M142.6,345.85 L143.1,344.34 L143.6,342.66 L144.1,340.84 L144.6,338.89 L145.1,336.85 L145.6,334.79 L146.1,332.77 L146.6,330.84 L147.1,329.04 L147.6,327.44 L148.1,326.11 L148.6,325.09 L149.1,324.44 L149.6,324.19 L150.1,324.38 L150.6,324.98 L151.1,325.93 L151.6,327.19 L152.1,328.77 L152.6,330.62 L153.1,332.72 L153.6,335 L154.1,337.42 L154.6,339.93 L155.1,342.48 L155.6,345.04 L156.1,347.55 L156.6,350 L157.1,352.34 L157.6,354.56 L158.1,356.64 L158.6,358.57" fill="none" stroke="#2f9a55" stroke-width="1.3" stroke-linejoin="round"/>
<path d="M57.1,321.44 L57.6,321.55 L58.1,321.65 L58.6,321.74 L59.1,321.83 L59.6,321.92 L60.1,322.02 L60.6,322.12 L61.1,322.22 L61.6,322.34 L62.1,322.47 L62.6,322.62 L63.1,322.78 L63.6,322.96 L64.1,323.15 L64.6,323.35 L65.1,323.56 L65.6,323.78 L66.1,324 L66.6,324.23 L67.1,324.47 L67.6,324.7 L68.1,324.94 L68.6,325.17 L69.1,325.4 L69.6,325.63 L70.1,325.85 L70.6,326.07 L71.1,326.27 L71.6,326.47 L72.1,326.66 L72.6,326.84 L73.1,327.02 L73.6,327.2 L74.1,327.38 L74.6,327.57 L75.1,327.78 L75.6,327.99 L76.1,328.23 L76.6,328.48 L77.1,328.76 L77.6,329.06 L78.1,329.37 L78.6,329.71 L79.1,330.06 L79.6,330.43 L80.1,330.8 L80.6,331.19 L81.1,331.59 L81.6,332 L82.1,332.44 L82.6,332.91 L83.1,333.41 L83.6,333.93 L84.1,334.46 L84.6,334.99 L85.1,335.52 L85.6,336.05 L86.1,336.55 L86.6,337.02 L87.1,337.47 L87.6,337.92 L88.1,338.36 L88.6,338.8 L89.1,339.23 L89.6,339.65 L90.1,340.05 L90.6,340.43 L91.1,340.8 L91.6,341.14 L92.1,341.45 L92.6,341.74 L93.1,342.01 L93.6,342.27 L94.1,342.52 L94.6,342.75 L95.1,342.98 L95.6,343.2 L96.1,343.43 L96.6,343.65 L97.1,343.88 L97.6,344.12 L98.1,344.36 L98.6,344.6 L99.1,344.85 L99.6,345.1 L100.1,345.35 L100.6,345.6 L101.1,345.84 L101.6,346.07 L102.1,346.29 L102.6,346.5 L103.1,346.7 L103.6,346.88 L104.1,347.04 L104.6,347.19 L105.1,347.34 L105.6,347.47 L106.1,347.6 L106.6,347.73 L107.1,347.85 L107.6,347.96 L108.1,348.08 L108.6,348.18 L109.1,348.29 L109.6,348.39 L110.1,348.49 L110.6,348.59 L111.1,348.69 L111.6,348.78 L112.1,348.88 L112.6,348.97 L113.1,349.07 L113.6,349.16 L114.1,349.25 L114.6,349.34 L115.1,349.43 L115.6,349.51 L116.1,349.59 L116.6,349.68 L117.1,349.76 L117.6,349.83 L118.1,349.91 L118.6,349.99 L119.1,350.07 L119.6,350.15 L120.1,350.23 L120.6,350.31 L121.1,350.39 L121.6,350.47 L122.1,350.55 L122.6,350.64 L123.1,350.72 L123.6,350.81 L124.1,350.9 L124.6,350.98 L125.1,351.07 L125.6,351.16 L126.1,351.25 L126.6,351.34 L127.1,351.42 L127.6,351.51 L128.1,351.6 L128.6,351.69 L129.1,351.78 L129.6,351.87 L130.1,351.96 L130.6,352.06 L131.1,352.15 L131.6,352.24 L132.1,352.33 L132.6,352.42 L133.1,352.5 L133.6,352.59 L134.1,352.67 L134.6,352.75 L135.1,352.84 L135.6,352.92 L136.1,353 L136.6,353.09 L137.1,353.18 L137.6,353.27 L138.1,353.37 L138.6,353.46 L139.1,353.56 L139.6,353.67 L140.1,353.78 L140.6,353.89 L141.1,354.01 L141.6,354.14 L142.1,354.28 L142.6,354.43 L143.1,354.58 L143.6,354.74 L144.1,354.9 L144.6,355.07 L145.1,355.25 L145.6,355.45 L146.1,355.68 L146.6,355.94 L147.1,356.21 L147.6,356.48 L148.1,356.74 L148.6,356.97 L149.1,357.17 L149.6,357.33 L150.1,357.43 L150.6,357.45 L151.1,357.4 L151.6,357.26 L152.1,357.06 L152.6,356.79 L153.1,356.44 L153.6,356.03 L154.1,355.55 L154.6,355.01 L155.1,354.39 L155.6,353.71 L156.1,352.97 L156.6,352.18 L157.1,351.34 L157.6,350.47 L158.1,349.56 L158.6,348.64 L159.1,347.71 L159.6,346.8 L160.1,345.91 L160.6,345.06 L161.1,344.27 L161.6,343.57 L162.1,342.96 L162.6,342.48 L163.1,342.13 L163.6,341.94 L164.1,341.91 L164.6,342.07 L165.1,342.4 L165.6,342.92 L166.1,343.61 L166.6,344.47 L167.1,345.49 L167.6,346.65 L168.1,347.95 L168.6,349.36 L169.1,350.86 L169.6,352.44 L170.1,354.07 L170.6,355.75 L171.1,357.45 L171.6,359.15 L172.1,360.84 L172.6,362.5 L173.1,364.11 L173.6,365.67 L174.1,367.15 L174.6,368.56 L175.1,369.88 L175.6,371.12 L176.1,372.26 L176.6,373.3 L177.1,374.25 L177.6,375.12 L178.1,375.9 L178.6,376.6 L179.1,377.23 L179.6,377.79 L180.1,378.3 L180.6,378.75 L181.1,379.15 L181.6,379.52 L182.1,379.85 L182.6,380.16 L183.1,380.44 L183.6,380.69 L184.1,380.91 L184.6,381.12 L185.1,381.3 L185.6,381.48 L186.1,381.65 L186.6,381.82 L187.1,381.99 L187.6,382.17" fill="none" stroke="#f07b1a" stroke-width="1.5" stroke-linejoin="round"/>
<path d="M179.1,377.81 L179.6,377.87 L180.1,377.93 L180.6,377.98 L181.1,378.02 L181.6,378.05 L182.1,378.06 L182.6,378.07 L183.1,378.06 L183.6,378.03 L184.1,377.96 L184.6,377.85 L185.1,377.71 L185.6,377.53 L186.1,377.31 L186.6,377.03 L187.1,376.7 L187.6,376.31 L188.1,375.84 L188.6,375.29 L189.1,374.65 L189.6,373.93 L190.1,373.11 L190.6,372.17 L191.1,371.11 L191.6,369.89 L192.1,368.5 L192.6,366.92 L193.1,365.12 L193.6,363.11 L194.1,360.85 L194.6,358.34 L195.1,355.57 L195.6,352.54 L196.1,349.27 L196.6,345.79 L197.1,342.1 L197.6,338.22 L198.1,334.19 L198.6,330.03 L199.1,325.79 L199.6,321.51 L200.1,317.23 L200.6,313.01 L201.1,308.9 L201.6,304.96 L202.1,301.25 L202.6,297.84 L203.1,294.79 L203.6,292.17 L204.1,290.02 L204.6,288.4 L205.1,287.35 L205.6,286.91 L206.1,287.08 L206.6,287.88 L207.1,289.26 L207.6,291.2 L208.1,293.69 L208.6,296.68 L209.1,300.16 L209.6,304.06 L210.1,308.34 L210.6,313.04 L211.1,318.12 L211.6,323.49 L212.1,329.07 L212.6,334.79 L213.1,340.55 L213.6,346.28 L214.1,351.91 L214.6,357.37 L215.1,362.59 L215.6,367.51 L216.1,372.08 L216.6,376.42 L217.1,380.52 L217.6,384.39 L218.1,388.01 L218.6,391.38 L219.1,394.49 L219.6,397.34 L220.1,399.95 L220.6,402.32 L221.1,404.48 L221.6,406.44 L222.1,408.21 L222.6,409.8 L223.1,411.22 L223.6,412.49 L224.1,413.61 L224.6,414.61 L225.1,415.49 L225.6,416.26 L226.1,416.94 L226.6,417.54 L227.1,418.07 L227.6,418.53 L228.1,418.94 L228.6,419.3 L229.1,419.62 L229.6,419.91 L230.1,420.16 L230.6,420.39 L231.1,420.6 L231.6,420.79 L232.1,420.97" fill="none" stroke="#e36fe0" stroke-width="1.3" stroke-linejoin="round"/>
<path d="M21.1,306.55 L21.6,306.6 L22.1,306.66 L22.6,306.72 L23.1,306.78 L23.6,306.85 L24.1,306.93 L24.6,307.01 L25.1,307.09 L25.6,307.18 L26.1,307.27 L26.6,307.37 L27.1,307.46 L27.6,307.56 L28.1,307.66 L28.6,307.77 L29.1,307.88 L29.6,308.01 L30.1,308.14 L30.6,308.28 L31.1,308.43 L31.6,308.58 L32.1,308.75 L32.6,308.92 L33.1,309.11 L33.6,309.3 L34.1,309.52 L34.6,309.77 L35.1,310.05 L35.6,310.35 L36.1,310.67 L36.6,311.01 L37.1,311.35 L37.6,311.69 L38.1,312.03 L38.6,312.36 L39.1,312.68 L39.6,312.98 L40.1,313.28 L40.6,313.57 L41.1,313.86 L41.6,314.16 L42.1,314.45 L42.6,314.74 L43.1,315.03 L43.6,315.32 L44.1,315.61 L44.6,315.9 L45.1,316.2 L45.6,316.51 L46.1,316.83 L46.6,317.16 L47.1,317.49 L47.6,317.83 L48.1,318.16 L48.6,318.48 L49.1,318.79 L49.6,319.08 L50.1,319.34 L50.6,319.58 L51.1,319.78 L51.6,319.96 L52.1,320.14 L52.6,320.3 L53.1,320.46 L53.6,320.6 L54.1,320.74 L54.6,320.88 L55.1,321.01 L55.6,321.13 L56.1,321.25 L56.6,321.38 L57.1,321.49 L57.6,321.6 L58.1,321.7 L58.6,321.79 L59.1,321.89 L59.6,321.98 L60.1,322.07 L60.6,322.17 L61.1,322.28 L61.6,322.4 L62.1,322.53 L62.6,322.67 L63.1,322.84 L63.6,323.01 L64.1,323.2 L64.6,323.41 L65.1,323.62 L65.6,323.84 L66.1,324.06 L66.6,324.29 L67.1,324.53 L67.6,324.76 L68.1,325 L68.6,325.23 L69.1,325.47 L69.6,325.7 L70.1,325.92 L70.6,326.13 L71.1,326.34 L71.6,326.54 L72.1,326.72 L72.6,326.91 L73.1,327.09 L73.6,327.27 L74.1,327.45 L74.6,327.65 L75.1,327.85 L75.6,328.07 L76.1,328.3 L76.6,328.56 L77.1,328.83 L77.6,329.13 L78.1,329.45 L78.6,329.79 L79.1,330.14 L79.6,330.51 L80.1,330.89 L80.6,331.28 L81.1,331.68 L81.6,332.08 L82.1,332.52 L82.6,332.99 L83.1,333.49 L83.6,334.01 L84.1,334.55 L84.6,335.08 L85.1,335.62 L85.6,336.14 L86.1,336.64 L86.6,337.12 L87.1,337.57 L87.6,338.02 L88.1,338.46 L88.6,338.9 L89.1,339.33 L89.6,339.75 L90.1,340.15 L90.6,340.54 L91.1,340.91 L91.6,341.25 L92.1,341.56 L92.6,341.85 L93.1,342.13 L93.6,342.38 L94.1,342.63 L94.6,342.87 L95.1,343.1 L95.6,343.32 L96.1,343.55 L96.6,343.78 L97.1,344.01 L97.6,344.24 L98.1,344.49 L98.6,344.74 L99.1,344.99 L99.6,345.24 L100.1,345.49 L100.6,345.74 L101.1,345.98 L101.6,346.21 L102.1,346.44 L102.6,346.65 L103.1,346.85 L103.6,347.03 L104.1,347.2 L104.6,347.35 L105.1,347.5 L105.6,347.64 L106.1,347.77 L106.6,347.9 L107.1,348.02 L107.6,348.14 L108.1,348.26 L108.6,348.37 L109.1,348.47 L109.6,348.58 L110.1,348.68 L110.6,348.78 L111.1,348.88 L111.6,348.98 L112.1,349.08 L112.6,349.18 L113.1,349.28 L113.6,349.38 L114.1,349.47 L114.6,349.57 L115.1,349.66 L115.6,349.75 L116.1,349.84 L116.6,349.92 L117.1,350.01 L117.6,350.09 L118.1,350.17 L118.6,350.26 L119.1,350.34 L119.6,350.42 L120.1,350.51 L120.6,350.6 L121.1,350.68 L121.6,350.77 L122.1,350.86 L122.6,350.96 L123.1,351.05 L123.6,351.14 L124.1,351.24 L124.6,351.33 L125.1,351.43 L125.6,351.53 L126.1,351.62 L126.6,351.72 L127.1,351.82 L127.6,351.92 L128.1,352.02 L128.6,352.12 L129.1,352.22 L129.6,352.32 L130.1,352.43 L130.6,352.53 L131.1,352.64 L131.6,352.74 L132.1,352.85 L132.6,352.95 L133.1,353.05 L133.6,353.15 L134.1,353.25 L134.6,353.35 L135.1,353.46 L135.6,353.56 L136.1,353.67 L136.6,353.78 L137.1,353.89 L137.6,354.01 L138.1,354.13 L138.6,354.26 L139.1,354.39 L139.6,354.53 L140.1,354.68 L140.6,354.83 L141.1,355 L141.6,355.18 L142.1,355.37 L142.6,355.58 L143.1,355.8 L143.6,356.04 L144.1,356.3 L144.6,356.57 L145.1,356.86 L145.6,357.2 L146.1,357.58 L146.6,358.01 L147.1,358.48 L147.6,358.97 L148.1,359.49 L148.6,360.01 L149.1,360.54 L149.6,361.06 L150.1,361.57 L150.6,362.06 L151.1,362.53 L151.6,362.96 L152.1,363.38 L152.6,363.8 L153.1,364.21 L153.6,364.61 L154.1,365.01 L154.6,365.41 L155.1,365.8 L155.6,366.19 L156.1,366.57 L156.6,366.95 L157.1,367.33 L157.6,367.7 L158.1,368.07 L158.6,368.44 L159.1,368.8 L159.6,369.16 L160.1,369.52 L160.6,369.87 L161.1,370.22 L161.6,370.56 L162.1,370.91 L162.6,371.24 L163.1,371.58 L163.6,371.9 L164.1,372.23 L164.6,372.55 L165.1,372.87 L165.6,373.19 L166.1,373.5 L166.6,373.81 L167.1,374.11 L167.6,374.41 L168.1,374.71 L168.6,375 L169.1,375.29 L169.6,375.57 L170.1,375.85 L170.6,376.12 L171.1,376.39 L171.6,376.66 L172.1,376.93 L172.6,377.19 L173.1,377.45 L173.6,377.71 L174.1,377.96 L174.6,378.19 L175.1,378.42 L175.6,378.64 L176.1,378.85 L176.6,379.04 L177.1,379.22 L177.6,379.39 L178.1,379.55 L178.6,379.7 L179.1,379.85 L179.6,379.99 L180.1,380.13 L180.6,380.27 L181.1,380.41 L181.6,380.55 L182.1,380.69 L182.6,380.84 L183.1,380.99 L183.6,381.13 L184.1,381.26 L184.6,381.39 L185.1,381.52 L185.6,381.65 L186.1,381.78 L186.6,381.92 L187.1,382.07 L187.6,382.23 L188.1,382.4 L188.6,382.59 L189.1,382.8 L189.6,383.05 L190.1,383.34 L190.6,383.67 L191.1,384.04 L191.6,384.44 L192.1,384.86 L192.6,385.31 L193.1,385.77 L193.6,386.23 L194.1,386.7 L194.6,387.17 L195.1,387.63 L195.6,388.08 L196.1,388.53 L196.6,389 L197.1,389.47 L197.6,389.95 L198.1,390.44 L198.6,390.94 L199.1,391.45 L199.6,391.96 L200.1,392.48 L200.6,393.01 L201.1,393.53 L201.6,394.06 L202.1,394.59 L202.6,395.13 L203.1,395.69 L203.6,396.26 L204.1,396.86 L204.6,397.48 L205.1,398.13 L205.6,398.82 L206.1,399.53 L206.6,400.28 L207.1,401.05 L207.6,401.85 L208.1,402.68 L208.6,403.52 L209.1,404.39 L209.6,405.28 L210.1,406.18 L210.6,407.19 L211.1,408.31 L211.6,409.51 L212.1,410.76 L212.6,412.03 L213.1,413.29 L213.6,414.49 L214.1,415.62 L214.6,416.63 L215.1,417.5 L215.6,418.18 L216.1,418.68 L216.6,419.1 L217.1,419.49 L217.6,419.84 L218.1,420.15 L218.6,420.43 L219.1,420.66 L219.6,420.86 L220.1,421.03 L220.6,421.18 L221.1,421.32 L221.6,421.44 L222.1,421.56 L222.6,421.67 L223.1,421.77 L223.6,421.87 L224.1,421.96 L224.6,422.04 L225.1,422.12 L225.6,422.19 L226.1,422.26 L226.6,422.33 L227.1,422.39 L227.6,422.45 L228.1,422.51 L228.6,422.57 L229.1,422.63 L229.6,422.69 L230.1,422.75 L230.6,422.81 L231.1,422.87 L231.6,422.93 L232.1,422.98 L232.6,423.04 L233.1,423.1 L233.6,423.16 L234.1,423.21 L234.6,423.27 L235.1,423.32 L235.6,423.38 L236.1,423.43 L236.6,423.49 L237.1,423.54 L237.6,423.59 L238.1,423.64 L238.6,423.69 L239.1,423.74 L239.6,423.79 L240.1,423.84 L240.6,423.89 L241.1,423.94 L241.6,423.98 L242.1,424.03 L242.6,424.07 L243.1,424.12 L243.6,424.16 L244.1,424.2 L244.6,424.24 L245.1,424.28 L245.6,424.32 L246.1,424.36 L246.6,424.4 L247.1,424.43 L247.6,424.47 L248.1,424.5 L248.6,424.53 L249.1,424.56 L249.6,424.59 L250.1,424.62 L250.6,424.65 L251.1,424.67 L251.6,424.7 L252.1,424.72 L252.6,424.74 L253.1,424.77 L253.6,424.78 L254.1,424.8 L254.6,424.82 L255.1,424.83 L255.6,424.85 L256.1,424.86 L256.6,424.87 L257.1,424.88 L257.6,424.89 L258.1,424.89 L258.6,424.9" fill="none" stroke="#7a7768" stroke-width="1.3"/>
<path d="M21.1,302.52 L21.6,302.47 L22.1,302.41 L22.6,302.32 L23.1,302.21 L23.6,302.07 L24.1,301.89 L24.6,301.66 L25.1,301.38 L25.6,301.03 L26.1,300.62 L26.6,300.12 L27.1,299.54 L27.6,298.86 L28.1,298.07 L28.6,297.19 L29.1,296.2 L29.6,295.1 L30.1,293.89 L30.6,292.59 L31.1,291.19 L31.6,289.71 L32.1,288.16 L32.6,286.55 L33.1,284.92 L33.6,283.27 L34.1,281.66 L34.6,280.12 L35.1,278.67 L35.6,277.34 L36.1,276.16 L36.6,275.14 L37.1,274.31 L37.6,273.69 L38.1,273.28 L38.6,273.11 L39.1,273.18 L39.6,273.46 L40.1,273.93 L40.6,274.55 L41.1,275.34 L41.6,276.29 L42.1,277.38 L42.6,278.6 L43.1,279.95 L43.6,281.4 L44.1,282.94 L44.6,284.56 L45.1,286.24 L45.6,287.98 L46.1,289.76 L46.6,291.57 L47.1,293.39 L47.6,295.19 L48.1,296.96 L48.6,298.68 L49.1,300.34 L49.6,301.92 L50.1,303.41 L50.6,304.81 L51.1,306.1 L51.6,307.3 L52.1,308.41 L52.6,309.43 L53.1,310.37 L53.6,311.22 L54.1,311.99 L54.6,312.69 L55.1,313.32 L55.6,313.89 L56.1,314.39 L56.6,314.84 L57.1,315.23 L57.6,315.56 L58.1,315.85 L58.6,316.09 L59.1,316.29 L59.6,316.46 L60.1,316.6 L60.6,316.72 L61.1,316.81 L61.6,316.89 L62.1,316.96 L62.6,317.03 L63.1,317.1 L63.6,317.16 L64.1,317.23 L64.6,317.29 L65.1,317.34 L65.6,317.39 L66.1,317.43 L66.6,317.45 L67.1,317.45 L67.6,317.43 L68.1,317.39 L68.6,317.31 L69.1,317.19 L69.6,317.03 L70.1,316.82 L70.6,316.54 L71.1,316.21 L71.6,315.79 L72.1,315.3 L72.6,314.73 L73.1,314.06 L73.6,313.31 L74.1,312.46 L74.6,311.52 L75.1,310.47 L75.6,309.33 L76.1,308.08 L76.6,306.74 L77.1,305.31 L77.6,303.78 L78.1,302.16 L78.6,300.47 L79.1,298.7 L79.6,296.87 L80.1,295 L80.6,293.11 L81.1,291.2 L81.6,289.32 L82.1,287.51 L82.6,285.8 L83.1,284.23 L83.6,282.83 L84.1,281.61 L84.6,280.62 L85.1,279.86 L85.6,279.37 L86.1,279.16 L86.6,279.23 L87.1,279.6 L87.6,280.3 L88.1,281.35 L88.6,282.71 L89.1,284.35 L89.6,286.23 L90.1,288.31 L90.6,290.54 L91.1,292.88 L91.6,295.3 L92.1,297.75 L92.6,300.21 L93.1,302.67 L93.6,305.09 L94.1,307.48 L94.6,309.8 L95.1,312.07 L95.6,314.25 L96.1,316.35 L96.6,318.37 L97.1,320.29 L97.6,322.13 L98.1,323.88 L98.6,325.53 L99.1,327.09 L99.6,328.55 L100.1,329.92 L100.6,331.2 L101.1,332.39 L101.6,333.49 L102.1,334.5 L102.6,335.43 L103.1,336.28 L103.6,337.04 L104.1,337.74 L104.6,338.37 L105.1,338.94 L105.6,339.46 L106.1,339.94 L106.6,340.38 L107.1,340.78 L107.6,341.15 L108.1,341.49 L108.6,341.81 L109.1,342.1 L109.6,342.37 L110.1,342.62 L110.6,342.86 L111.1,343.08 L111.6,343.29 L112.1,343.5 L112.6,343.69 L113.1,343.88 L113.6,344.06 L114.1,344.23 L114.6,344.39 L115.1,344.55 L115.6,344.7 L116.1,344.84 L116.6,344.98 L117.1,345.12 L117.6,345.25 L118.1,345.37 L118.6,345.5 L119.1,345.62 L119.6,345.74 L120.1,345.85 L120.6,345.97 L121.1,346.09 L121.6,346.2 L122.1,346.31 L122.6,346.43 L123.1,346.54 L123.6,346.66 L124.1,346.77 L124.6,346.88 L125.1,346.98 L125.6,347.09 L126.1,347.2 L126.6,347.3 L127.1,347.4 L127.6,347.51 L128.1,347.61 L128.6,347.71 L129.1,347.81 L129.6,347.9 L130.1,348 L130.6,348.1 L131.1,348.19 L131.6,348.28 L132.1,348.36 L132.6,348.44 L133.1,348.51 L133.6,348.57 L134.1,348.63 L134.6,348.67 L135.1,348.69 L135.6,348.7 L136.1,348.68 L136.6,348.63 L137.1,348.54 L137.6,348.4 L138.1,348.2 L138.6,347.92 L139.1,347.56 L139.6,347.09 L140.1,346.5 L140.6,345.77 L141.1,344.89 L141.6,343.84 L142.1,342.62 L142.6,341.23 L143.1,339.65 L143.6,337.89 L144.1,335.98 L144.6,333.93 L145.1,331.78 L145.6,329.59 L146.1,327.42 L146.6,325.31 L147.1,323.32 L147.6,321.5 L148.1,319.91 L148.6,318.6 L149.1,317.62 L149.6,317 L150.1,316.78 L150.6,316.91 L151.1,317.34 L151.6,318.03 L152.1,318.98 L152.6,320.14 L153.1,321.48 L153.6,322.94 L154.1,324.47 L154.6,326.03 L155.1,327.57 L155.6,329.06 L156.1,330.44 L156.6,331.71 L157.1,332.83 L157.6,333.79 L158.1,334.59 L158.6,335.23 L159.1,335.7 L159.6,336.04 L160.1,336.25 L160.6,336.36 L161.1,336.4 L161.6,336.4 L162.1,336.38 L162.6,336.39 L163.1,336.45 L163.6,336.58 L164.1,336.82 L164.6,337.19 L165.1,337.69 L165.6,338.33 L166.1,339.12 L166.6,340.06 L167.1,341.13 L167.6,342.33 L168.1,343.65 L168.6,345.07 L169.1,346.58 L169.6,348.16 L170.1,349.8 L170.6,351.46 L171.1,353.15 L171.6,354.83 L172.1,356.5 L172.6,358.14 L173.1,359.73 L173.6,361.26 L174.1,362.71 L174.6,364.09 L175.1,365.38 L175.6,366.57 L176.1,367.67 L176.6,368.67 L177.1,369.58 L177.6,370.39 L178.1,371.12 L178.6,371.76 L179.1,372.32 L179.6,372.82 L180.1,373.25 L180.6,373.61 L181.1,373.92 L181.6,374.19 L182.1,374.4 L182.6,374.57 L183.1,374.7 L183.6,374.78 L184.1,374.81 L184.6,374.78 L185.1,374.71 L185.6,374.58 L186.1,374.4 L186.6,374.16 L187.1,373.85 L187.6,373.48 L188.1,373.03 L188.6,372.5 L189.1,371.87 L189.6,371.16 L190.1,370.34 L190.6,369.44 L191.1,368.42 L191.6,367.27 L192.1,365.96 L192.6,364.48 L193.1,362.8 L193.6,360.9 L194.1,358.78 L194.6,356.4 L195.1,353.78 L195.6,350.89 L196.1,347.77 L196.6,344.42 L197.1,340.87 L197.6,337.12 L198.1,333.2 L198.6,329.15 L199.1,324.99 L199.6,320.78 L200.1,316.55 L200.6,312.37 L201.1,308.3 L201.6,304.4 L202.1,300.73 L202.6,297.36 L203.1,294.35 L203.6,291.76 L204.1,289.64 L204.6,288.06 L205.1,287.04 L205.6,286.62 L206.1,286.82 L206.6,287.64 L207.1,289.04 L207.6,291 L208.1,293.5 L208.6,296.51 L209.1,299.99 L209.6,303.9 L210.1,308.19 L210.6,312.89 L211.1,317.97 L211.6,323.34 L212.1,328.93 L212.6,334.64 L213.1,340.4 L213.6,346.14 L214.1,351.77 L214.6,357.23 L215.1,362.45 L215.6,367.37 L216.1,371.95 L216.6,376.28 L217.1,380.39 L217.6,384.26 L218.1,387.88 L218.6,391.25 L219.1,394.36 L219.6,397.21 L220.1,399.82 L220.6,402.19 L221.1,404.36 L221.6,406.32 L222.1,408.09 L222.6,409.68 L223.1,411.1 L223.6,412.37 L224.1,413.49 L224.6,414.49 L225.1,415.37 L225.6,416.15 L226.1,416.83 L226.6,417.43 L227.1,417.96 L227.6,418.42 L228.1,418.83 L228.6,419.19 L229.1,419.51 L229.6,419.8 L230.1,420.06 L230.6,420.29 L231.1,420.5 L231.6,420.69 L232.1,420.86 L232.6,421.02 L233.1,421.17 L233.6,421.31 L234.1,421.44 L234.6,421.56 L235.1,421.68 L235.6,421.79 L236.1,421.9 L236.6,422 L237.1,422.1 L237.6,422.2 L238.1,422.29 L238.6,422.38 L239.1,422.46 L239.6,422.55 L240.1,422.63 L240.6,422.71 L241.1,422.79 L241.6,422.86 L242.1,422.94 L242.6,423.01 L243.1,423.08 L243.6,423.14 L244.1,423.21 L244.6,423.27 L245.1,423.33 L245.6,423.39 L246.1,423.45 L246.6,423.51 L247.1,423.56 L247.6,423.62 L248.1,423.67 L248.6,423.72 L249.1,423.77 L249.6,423.81 L250.1,423.86 L250.6,423.9 L251.1,423.94 L251.6,423.98 L252.1,424.02 L252.6,424.05 L253.1,424.09 L253.6,424.12 L254.1,424.15 L254.6,424.18 L255.1,424.2 L255.6,424.23 L256.1,424.25 L256.6,424.27 L257.1,424.29 L257.6,424.31 L258.1,424.33 L258.6,424.34" fill="none" stroke="#1fc2c9" stroke-width="1.6" stroke-linejoin="round"/>
<rect x="20.4" y="248" width="239.2" height="193.6" fill="none" stroke="#2b2b2b" stroke-width="1.3"/>
<text x="20.4" y="456.2" text-anchor="middle" font-size="9.7" font-weight="bold" fill="#111" color="#111">965</text>
<text x="50.3" y="456.2" text-anchor="middle" font-size="9.7" font-weight="bold" fill="#111" color="#111">960</text>
<text x="80.2" y="456.2" text-anchor="middle" font-size="9.7" font-weight="bold" fill="#111" color="#111">955</text>
<text x="110.1" y="456.2" text-anchor="middle" font-size="9.7" font-weight="bold" fill="#111" color="#111">950</text>
<text x="140" y="456.2" text-anchor="middle" font-size="9.7" font-weight="bold" fill="#111" color="#111">945</text>
<text x="169.9" y="456.2" text-anchor="middle" font-size="9.7" font-weight="bold" fill="#111" color="#111">940</text>
<text x="199.8" y="456.2" text-anchor="middle" font-size="9.7" font-weight="bold" fill="#111" color="#111">935</text>
<text x="229.7" y="456.2" text-anchor="middle" font-size="9.7" font-weight="bold" fill="#111" color="#111">930</text>
<text x="259.6" y="456.2" text-anchor="middle" font-size="9.7" font-weight="bold" fill="#111" color="#111">925</text>
<line x1="20.4" y1="441.6" x2="20.4" y2="445" stroke="#2b2b2b" stroke-width="1.2"/><line x1="50.3" y1="441.6" x2="50.3" y2="445" stroke="#2b2b2b" stroke-width="1.2"/><line x1="80.2" y1="441.6" x2="80.2" y2="445" stroke="#2b2b2b" stroke-width="1.2"/><line x1="110.1" y1="441.6" x2="110.1" y2="445" stroke="#2b2b2b" stroke-width="1.2"/><line x1="140" y1="441.6" x2="140" y2="445" stroke="#2b2b2b" stroke-width="1.2"/><line x1="169.9" y1="441.6" x2="169.9" y2="445" stroke="#2b2b2b" stroke-width="1.2"/><line x1="199.8" y1="441.6" x2="199.8" y2="445" stroke="#2b2b2b" stroke-width="1.2"/><line x1="229.7" y1="441.6" x2="229.7" y2="445" stroke="#2b2b2b" stroke-width="1.2"/><line x1="259.6" y1="441.6" x2="259.6" y2="445" stroke="#2b2b2b" stroke-width="1.2"/><line x1="35.35" y1="441.6" x2="35.35" y2="443.6" stroke="#2b2b2b" stroke-width="1.1"/><line x1="65.25" y1="441.6" x2="65.25" y2="443.6" stroke="#2b2b2b" stroke-width="1.1"/><line x1="95.15" y1="441.6" x2="95.15" y2="443.6" stroke="#2b2b2b" stroke-width="1.1"/><line x1="125.05" y1="441.6" x2="125.05" y2="443.6" stroke="#2b2b2b" stroke-width="1.1"/><line x1="154.95" y1="441.6" x2="154.95" y2="443.6" stroke="#2b2b2b" stroke-width="1.1"/><line x1="184.85" y1="441.6" x2="184.85" y2="443.6" stroke="#2b2b2b" stroke-width="1.1"/><line x1="214.75" y1="441.6" x2="214.75" y2="443.6" stroke="#2b2b2b" stroke-width="1.1"/><line x1="244.65" y1="441.6" x2="244.65" y2="443.6" stroke="#2b2b2b" stroke-width="1.1"/>
<text x="140" y="470.8" text-anchor="middle" font-size="10" font-weight="bold" fill="#111" color="#111" >Binding Energy (eV)</text>
<text transform="translate(11.3,344) rotate(-90)" text-anchor="middle" font-size="10" font-weight="bold" fill="#111" color="#111">Intensity (a.u.)</text>
<text x="22.5" y="258.8" text-anchor="start" font-size="11.5" font-weight="bold" fill="#111" color="#111" >c</text>
<text x="256.7" y="261.5" text-anchor="end" font-size="11.5" font-weight="bold" fill="#3f86e0" color="#3f86e0" >Cu2p</text>
<text x="35.4" y="266.8" text-anchor="start" font-size="12" font-weight="bold" fill="#111" color="#111" >satellite</text>
<text x="83" y="275.8" text-anchor="start" font-size="11.8" font-weight="bold" fill="#111" color="#111" >Cu2p<tspan font-size="8.2" dy="2.4">1/2</tspan></text>
<text x="132.4" y="312" text-anchor="start" font-size="12" font-weight="bold" fill="#111" color="#111" >satellite</text>
<text x="197" y="284.4" text-anchor="start" font-size="11.5" font-weight="bold" fill="#111" color="#111" >Cu2p<tspan font-size="8.2" dy="2.4">3/2</tspan></text>
<defs><linearGradient id="g9" x1="0" y1="0" x2="0" y2="1"><stop offset="0" stop-color="#c39ee9" stop-opacity="1"/><stop offset="1" stop-color="#faf8fc" stop-opacity="1"/></linearGradient></defs>
<path d="M363.6,413.46 L364.1,413.46 L364.6,413.45 L365.1,413.45 L365.6,413.44 L366.1,413.43 L366.6,413.43 L367.1,413.42 L367.6,413.41 L368.1,413.4 L368.6,413.39 L369.1,413.38 L369.6,413.37 L370.1,413.36 L370.6,413.35 L371.1,413.34 L371.6,413.32 L372.1,413.31 L372.6,413.29 L373.1,413.28 L373.6,413.26 L374.1,413.25 L374.6,413.23 L375.1,413.21 L375.6,413.19 L376.1,413.17 L376.6,413.15 L377.1,413.13 L377.6,413.1 L378.1,413.08 L378.6,413.05 L379.1,413.03 L379.6,413 L380.1,412.97 L380.6,412.94 L381.1,412.91 L381.6,412.88 L382.1,412.85 L382.6,412.81 L383.1,412.78 L383.6,412.74 L384.1,412.7 L384.6,412.67 L385.1,412.63 L385.6,412.58 L386.1,412.54 L386.6,412.5 L387.1,412.45 L387.6,412.41 L388.1,412.36 L388.6,412.31 L389.1,412.26 L389.6,412.21 L390.1,412.16 L390.6,412.1 L391.1,412.05 L391.6,411.99 L392.1,411.93 L392.6,411.87 L393.1,411.81 L393.6,411.75 L394.1,411.68 L394.6,411.62 L395.1,411.55 L395.6,411.48 L396.1,411.41 L396.6,411.33 L397.1,411.26 L397.6,411.19 L398.1,411.11 L398.6,411.03 L399.1,410.95 L399.6,410.87 L400.1,410.78 L400.6,410.7 L401.1,410.61 L401.6,410.53 L402.1,410.44 L402.6,410.36 L403.1,410.27 L403.6,410.18 L404.1,410.09 L404.6,410 L405.1,409.91 L405.6,409.81 L406.1,409.72 L406.6,409.62 L407.1,409.53 L407.6,409.43 L408.1,409.33 L408.6,409.23 L409.1,409.13 L409.6,409.02 L410.1,408.91 L410.6,408.8 L411.1,408.69 L411.6,408.58 L412.1,408.46 L412.6,408.34 L413.1,408.22 L413.6,408.09 L414.1,407.96 L414.6,407.82 L415.1,407.68 L415.6,407.53 L416.1,407.37 L416.6,407.21 L417.1,407.04 L417.6,406.86 L418.1,406.66 L418.6,406.46 L419.1,406.24 L419.6,406.01 L420.1,405.76 L420.6,405.49 L421.1,405.2 L421.6,404.89 L422.1,404.56 L422.6,404.19 L423.1,403.8 L423.6,403.37 L424.1,402.91 L424.6,402.41 L425.1,401.86 L425.6,401.27 L426.1,400.63 L426.6,399.93 L427.1,399.18 L427.6,398.36 L428.1,397.48 L428.6,396.52 L429.1,395.49 L429.6,394.38 L430.1,393.18 L430.6,391.89 L431.1,390.52 L431.6,389.04 L432.1,387.46 L432.6,385.78 L433.1,384 L433.6,382.1 L434.1,380.1 L434.6,377.98 L435.1,375.75 L435.6,373.41 L436.1,370.96 L436.6,368.4 L437.1,365.73 L437.6,362.96 L438.1,360.09 L438.6,357.12 L439.1,354.08 L439.6,350.95 L440.1,347.76 L440.6,344.51 L441.1,341.21 L441.6,337.87 L442.1,334.51 L442.6,331.14 L443.1,327.78 L443.6,324.44 L444.1,321.13 L444.6,317.88 L445.1,314.7 L445.6,311.6 L446.1,308.6 L446.6,305.74 L447.1,303.01 L447.6,300.44 L448.1,298.04 L448.6,295.82 L449.1,293.81 L449.6,292 L450.1,290.42 L450.6,289.08 L451.1,287.98 L451.6,287.12 L452.1,286.52 L452.6,286.18 L453.1,286.11 L453.6,286.32 L454.1,286.86 L454.6,287.75 L455.1,288.96 L455.6,290.49 L456.1,292.34 L456.6,294.48 L457.1,296.91 L457.6,299.59 L458.1,302.52 L458.6,305.66 L459.1,309.01 L459.6,312.53 L460.1,316.19 L460.6,319.99 L461.1,323.89 L461.6,327.87 L462.1,331.91 L462.6,335.98 L463.1,340.07 L463.6,344.15 L464.1,348.2 L464.6,352.21 L465.1,356.16 L465.6,360.04 L466.1,363.82 L466.6,367.5 L467.1,371.08 L467.6,374.55 L468.1,377.89 L468.6,381.1 L469.1,384.18 L469.6,387.11 L470.1,389.9 L470.6,392.54 L471.1,395.04 L471.6,397.39 L472.1,399.59 L472.6,401.64 L473.1,403.55 L473.6,405.33 L474.1,406.96 L474.6,408.47 L475.1,409.84 L475.6,411.11 L476.1,412.26 L476.6,413.32 L477.1,414.29 L477.6,415.17 L478.1,415.97 L478.6,416.69 L479.1,417.34 L479.6,417.93 L480.1,418.46 L480.6,418.94 L481.1,419.37 L481.6,419.75 L482.1,420.09 L482.6,420.39 L483.1,420.66 L483.6,420.9 L484.1,421.11 L484.6,421.3 L485.1,421.47 L485.6,421.62 L486.1,421.75 L486.6,421.87 L487.1,421.97 L487.6,422.06 L488.1,422.15 L488.6,422.22 L489.1,422.28 L489.6,422.34 L490.1,422.39 L490.6,422.44 L491.1,422.48 L491.6,422.52 L492.1,422.56 L492.6,422.59 L493.1,422.62 L493.6,422.65 L494.1,422.67 L494.6,422.7 L495.1,422.72 L495.6,422.74 L496.1,422.76 L496.6,422.78 L497.1,422.8 L497.6,422.81 L498.1,422.83 L498.6,422.84 L499.1,422.86 L499.6,422.87 L500.1,422.89 L500.6,422.9 L501.1,422.91 L501.6,422.92 L502.1,422.94 L502.6,422.95 L503.1,422.96 L503.6,422.97 L504.1,422.98 L504.6,422.99 L505.1,423 L505.6,423.01 L506.1,423.02 L506.6,423.03 L507.1,423.04 L507.6,423.05 L508.1,423.06 L508.6,423.06 L509.1,423.07 L509.6,423.08 L510.1,423.09 L510.6,423.1 L511.1,423.1 L511.6,423.11 L512.1,423.12 L512.6,423.12 L513.1,423.13 L513.6,423.14 L514.1,423.14 L514.6,423.15 L515.1,423.16 L515.6,423.16 L516.1,423.17 L516.6,423.17 L517.1,423.18 L517.6,423.18 L518.1,423.19 L518.6,423.19 L519.1,423.2 L519.6,423.2 L520.1,423.21 L520.6,423.21 L521.1,423.22 L521.6,423.22 L522.1,423.23 L522.6,423.23 L523.1,423.23 L523.6,423.24 L524.1,423.24 L524.1,423.49 L523.6,423.49 L523.1,423.49 L522.6,423.49 L522.1,423.49 L521.6,423.49 L521.1,423.49 L520.6,423.49 L520.1,423.49 L519.6,423.49 L519.1,423.49 L518.6,423.49 L518.1,423.49 L517.6,423.49 L517.1,423.49 L516.6,423.48 L516.1,423.48 L515.6,423.48 L515.1,423.48 L514.6,423.48 L514.1,423.48 L513.6,423.48 L513.1,423.48 L512.6,423.48 L512.1,423.48 L511.6,423.48 L511.1,423.47 L510.6,423.47 L510.1,423.47 L509.6,423.47 L509.1,423.47 L508.6,423.47 L508.1,423.47 L507.6,423.47 L507.1,423.46 L506.6,423.46 L506.1,423.46 L505.6,423.46 L505.1,423.46 L504.6,423.46 L504.1,423.46 L503.6,423.45 L503.1,423.45 L502.6,423.45 L502.1,423.45 L501.6,423.45 L501.1,423.45 L500.6,423.44 L500.1,423.44 L499.6,423.44 L499.1,423.44 L498.6,423.44 L498.1,423.43 L497.6,423.43 L497.1,423.43 L496.6,423.43 L496.1,423.43 L495.6,423.42 L495.1,423.42 L494.6,423.42 L494.1,423.42 L493.6,423.42 L493.1,423.41 L492.6,423.41 L492.1,423.41 L491.6,423.41 L491.1,423.4 L490.6,423.4 L490.1,423.4 L489.6,423.4 L489.1,423.39 L488.6,423.39 L488.1,423.39 L487.6,423.39 L487.1,423.38 L486.6,423.38 L486.1,423.38 L485.6,423.37 L485.1,423.37 L484.6,423.37 L484.1,423.36 L483.6,423.36 L483.1,423.36 L482.6,423.36 L482.1,423.35 L481.6,423.35 L481.1,423.35 L480.6,423.34 L480.1,423.34 L479.6,423.33 L479.1,423.33 L478.6,423.33 L478.1,423.32 L477.6,423.32 L477.1,423.32 L476.6,423.31 L476.1,423.31 L475.6,423.3 L475.1,423.3 L474.6,423.29 L474.1,423.27 L473.6,423.24 L473.1,423.2 L472.6,423.15 L472.1,423.09 L471.6,423.03 L471.1,422.96 L470.6,422.88 L470.1,422.8 L469.6,422.71 L469.1,422.62 L468.6,422.53 L468.1,422.44 L467.6,422.35 L467.1,422.26 L466.6,422.17 L466.1,422.08 L465.6,421.99 L465.1,421.9 L464.6,421.8 L464.1,421.69 L463.6,421.58 L463.1,421.46 L462.6,421.35 L462.1,421.22 L461.6,421.1 L461.1,420.98 L460.6,420.85 L460.1,420.72 L459.6,420.59 L459.1,420.47 L458.6,420.34 L458.1,420.21 L457.6,420.09 L457.1,419.97 L456.6,419.85 L456.1,419.74 L455.6,419.63 L455.1,419.52 L454.6,419.42 L454.1,419.31 L453.6,419.21 L453.1,419.1 L452.6,418.99 L452.1,418.89 L451.6,418.78 L451.1,418.68 L450.6,418.58 L450.1,418.48 L449.6,418.38 L449.1,418.29 L448.6,418.2 L448.1,418.12 L447.6,418.04 L447.1,417.96 L446.6,417.9 L446.1,417.83 L445.6,417.78 L445.1,417.73 L444.6,417.67 L444.1,417.62 L443.6,417.57 L443.1,417.53 L442.6,417.48 L442.1,417.44 L441.6,417.39 L441.1,417.35 L440.6,417.31 L440.1,417.27 L439.6,417.23 L439.1,417.19 L438.6,417.15 L438.1,417.11 L437.6,417.08 L437.1,417.04 L436.6,417.01 L436.1,416.98 L435.6,416.94 L435.1,416.91 L434.6,416.88 L434.1,416.85 L433.6,416.82 L433.1,416.79 L432.6,416.76 L432.1,416.73 L431.6,416.7 L431.1,416.67 L430.6,416.64 L430.1,416.61 L429.6,416.58 L429.1,416.55 L428.6,416.53 L428.1,416.5 L427.6,416.47 L427.1,416.44 L426.6,416.41 L426.1,416.38 L425.6,416.35 L425.1,416.32 L424.6,416.29 L424.1,416.26 L423.6,416.23 L423.1,416.2 L422.6,416.17 L422.1,416.14 L421.6,416.11 L421.1,416.08 L420.6,416.04 L420.1,416.01 L419.6,415.97 L419.1,415.94 L418.6,415.9 L418.1,415.86 L417.6,415.83 L417.1,415.79 L416.6,415.75 L416.1,415.71 L415.6,415.67 L415.1,415.63 L414.6,415.59 L414.1,415.55 L413.6,415.51 L413.1,415.47 L412.6,415.43 L412.1,415.39 L411.6,415.36 L411.1,415.32 L410.6,415.28 L410.1,415.24 L409.6,415.2 L409.1,415.16 L408.6,415.12 L408.1,415.09 L407.6,415.05 L407.1,415.01 L406.6,414.98 L406.1,414.94 L405.6,414.91 L405.1,414.88 L404.6,414.85 L404.1,414.81 L403.6,414.78 L403.1,414.76 L402.6,414.73 L402.1,414.7 L401.6,414.67 L401.1,414.65 L400.6,414.63 L400.1,414.6 L399.6,414.58 L399.1,414.56 L398.6,414.54 L398.1,414.52 L397.6,414.5 L397.1,414.48 L396.6,414.47 L396.1,414.45 L395.6,414.43 L395.1,414.41 L394.6,414.39 L394.1,414.38 L393.6,414.36 L393.1,414.34 L392.6,414.33 L392.1,414.31 L391.6,414.29 L391.1,414.28 L390.6,414.26 L390.1,414.25 L389.6,414.23 L389.1,414.22 L388.6,414.2 L388.1,414.19 L387.6,414.18 L387.1,414.16 L386.6,414.15 L386.1,414.14 L385.6,414.13 L385.1,414.11 L384.6,414.1 L384.1,414.09 L383.6,414.08 L383.1,414.07 L382.6,414.05 L382.1,414.04 L381.6,414.03 L381.1,414.02 L380.6,414.01 L380.1,414 L379.6,413.99 L379.1,413.98 L378.6,413.97 L378.1,413.96 L377.6,413.95 L377.1,413.94 L376.6,413.93 L376.1,413.92 L375.6,413.92 L375.1,413.91 L374.6,413.9 L374.1,413.89 L373.6,413.88 L373.1,413.87 L372.6,413.86 L372.1,413.85 L371.6,413.84 L371.1,413.84 L370.6,413.83 L370.1,413.82 L369.6,413.81 L369.1,413.8 L368.6,413.79 L368.1,413.79 L367.6,413.78 L367.1,413.77 L366.6,413.76 L366.1,413.75 L365.6,413.75 L365.1,413.74 L364.6,413.73 L364.1,413.72 L363.6,413.72 Z" fill="url(#g9)" stroke="none"/>
<defs><linearGradient id="g10" x1="0" y1="0" x2="0" y2="1"><stop offset="0" stop-color="#6484df" stop-opacity="0.95"/><stop offset="1" stop-color="#ebedfa" stop-opacity="0.9"/></linearGradient></defs>
<path d="M298.6,411.94 L299.1,411.93 L299.6,411.91 L300.1,411.9 L300.6,411.88 L301.1,411.87 L301.6,411.85 L302.1,411.84 L302.6,411.82 L303.1,411.8 L303.6,411.79 L304.1,411.77 L304.6,411.75 L305.1,411.73 L305.6,411.71 L306.1,411.7 L306.6,411.68 L307.1,411.66 L307.6,411.63 L308.1,411.61 L308.6,411.59 L309.1,411.57 L309.6,411.55 L310.1,411.52 L310.6,411.5 L311.1,411.47 L311.6,411.45 L312.1,411.42 L312.6,411.4 L313.1,411.37 L313.6,411.34 L314.1,411.31 L314.6,411.28 L315.1,411.25 L315.6,411.22 L316.1,411.19 L316.6,411.15 L317.1,411.12 L317.6,411.08 L318.1,411.05 L318.6,411.01 L319.1,410.97 L319.6,410.93 L320.1,410.89 L320.6,410.85 L321.1,410.81 L321.6,410.77 L322.1,410.72 L322.6,410.68 L323.1,410.63 L323.6,410.58 L324.1,410.53 L324.6,410.48 L325.1,410.43 L325.6,410.38 L326.1,410.32 L326.6,410.26 L327.1,410.21 L327.6,410.15 L328.1,410.09 L328.6,410.03 L329.1,409.96 L329.6,409.9 L330.1,409.83 L330.6,409.76 L331.1,409.69 L331.6,409.62 L332.1,409.54 L332.6,409.47 L333.1,409.39 L333.6,409.31 L334.1,409.23 L334.6,409.15 L335.1,409.06 L335.6,408.98 L336.1,408.89 L336.6,408.8 L337.1,408.7 L337.6,408.61 L338.1,408.51 L338.6,408.41 L339.1,408.31 L339.6,408.21 L340.1,408.1 L340.6,407.99 L341.1,407.88 L341.6,407.77 L342.1,407.65 L342.6,407.53 L343.1,407.41 L343.6,407.29 L344.1,407.17 L344.6,407.04 L345.1,406.91 L345.6,406.77 L346.1,406.64 L346.6,406.5 L347.1,406.36 L347.6,406.22 L348.1,406.07 L348.6,405.92 L349.1,405.77 L349.6,405.62 L350.1,405.46 L350.6,405.3 L351.1,405.14 L351.6,404.98 L352.1,404.81 L352.6,404.64 L353.1,404.47 L353.6,404.29 L354.1,404.11 L354.6,403.93 L355.1,403.75 L355.6,403.56 L356.1,403.37 L356.6,403.18 L357.1,402.98 L357.6,402.79 L358.1,402.59 L358.6,402.38 L359.1,402.18 L359.6,401.97 L360.1,401.76 L360.6,401.54 L361.1,401.32 L361.6,401.1 L362.1,400.88 L362.6,400.66 L363.1,400.43 L363.6,400.2 L364.1,399.96 L364.6,399.73 L365.1,399.49 L365.6,399.25 L366.1,399 L366.6,398.76 L367.1,398.51 L367.6,398.26 L368.1,398.01 L368.6,397.75 L369.1,397.49 L369.6,397.23 L370.1,396.97 L370.6,396.71 L371.1,396.44 L371.6,396.17 L372.1,395.9 L372.6,395.63 L373.1,395.36 L373.6,395.08 L374.1,394.8 L374.6,394.52 L375.1,394.24 L375.6,393.96 L376.1,393.68 L376.6,393.39 L377.1,393.11 L377.6,392.82 L378.1,392.53 L378.6,392.24 L379.1,391.95 L379.6,391.66 L380.1,391.37 L380.6,391.08 L381.1,390.78 L381.6,390.49 L382.1,390.2 L382.6,389.9 L383.1,389.61 L383.6,389.32 L384.1,389.02 L384.6,388.73 L385.1,388.44 L385.6,388.15 L386.1,387.85 L386.6,387.56 L387.1,387.28 L387.6,386.99 L388.1,386.7 L388.6,386.41 L389.1,386.13 L389.6,385.85 L390.1,385.57 L390.6,385.29 L391.1,385.01 L391.6,384.74 L392.1,384.46 L392.6,384.2 L393.1,383.93 L393.6,383.66 L394.1,383.4 L394.6,383.14 L395.1,382.89 L395.6,382.64 L396.1,382.39 L396.6,382.14 L397.1,381.9 L397.6,381.67 L398.1,381.44 L398.6,381.21 L399.1,380.98 L399.6,380.77 L400.1,380.55 L400.6,380.34 L401.1,380.14 L401.6,379.95 L402.1,379.76 L402.6,379.57 L403.1,379.4 L403.6,379.23 L404.1,379.06 L404.6,378.91 L405.1,378.76 L405.6,378.61 L406.1,378.48 L406.6,378.35 L407.1,378.23 L407.6,378.11 L408.1,378.01 L408.6,377.91 L409.1,377.82 L409.6,377.73 L410.1,377.65 L410.6,377.58 L411.1,377.52 L411.6,377.47 L412.1,377.42 L412.6,377.38 L413.1,377.35 L413.6,377.33 L414.1,377.32 L414.6,377.31 L415.1,377.31 L415.6,377.32 L416.1,377.33 L416.6,377.36 L417.1,377.39 L417.6,377.43 L418.1,377.48 L418.6,377.54 L419.1,377.61 L419.6,377.7 L420.1,377.8 L420.6,377.9 L421.1,378.02 L421.6,378.15 L422.1,378.29 L422.6,378.44 L423.1,378.6 L423.6,378.78 L424.1,378.96 L424.6,379.15 L425.1,379.35 L425.6,379.57 L426.1,379.79 L426.6,380.02 L427.1,380.26 L427.6,380.51 L428.1,380.77 L428.6,381.04 L429.1,381.32 L429.6,381.6 L430.1,381.89 L430.6,382.19 L431.1,382.5 L431.6,382.82 L432.1,383.14 L432.6,383.47 L433.1,383.8 L433.6,384.15 L434.1,384.5 L434.6,384.85 L435.1,385.21 L435.6,385.57 L436.1,385.94 L436.6,386.32 L437.1,386.7 L437.6,387.08 L438.1,387.47 L438.6,387.87 L439.1,388.26 L439.6,388.66 L440.1,389.07 L440.6,389.47 L441.1,389.88 L441.6,390.29 L442.1,390.71 L442.6,391.13 L443.1,391.54 L443.6,391.97 L444.1,392.39 L444.6,392.81 L445.1,393.24 L445.6,393.67 L446.1,394.1 L446.6,394.53 L447.1,394.97 L447.6,395.42 L448.1,395.87 L448.6,396.32 L449.1,396.78 L449.6,397.24 L450.1,397.7 L450.6,398.16 L451.1,398.63 L451.6,399.09 L452.1,399.55 L452.6,400.01 L453.1,400.46 L453.6,400.92 L454.1,401.37 L454.6,401.82 L455.1,402.26 L455.6,402.7 L456.1,403.14 L456.6,403.59 L457.1,404.03 L457.6,404.47 L458.1,404.92 L458.6,405.36 L459.1,405.79 L459.6,406.23 L460.1,406.66 L460.6,407.09 L461.1,407.51 L461.6,407.92 L462.1,408.34 L462.6,408.74 L463.1,409.14 L463.6,409.53 L464.1,409.91 L464.6,410.28 L465.1,410.64 L465.6,410.99 L466.1,411.34 L466.6,411.67 L467.1,412.01 L467.6,412.34 L468.1,412.66 L468.6,412.99 L469.1,413.3 L469.6,413.61 L470.1,413.92 L470.6,414.21 L471.1,414.5 L471.6,414.78 L472.1,415.05 L472.6,415.3 L473.1,415.55 L473.6,415.77 L474.1,415.99 L474.6,416.19 L475.1,416.38 L475.6,416.55 L476.1,416.73 L476.6,416.89 L477.1,417.06 L477.6,417.22 L478.1,417.38 L478.6,417.53 L479.1,417.68 L479.6,417.83 L480.1,417.97 L480.6,418.11 L481.1,418.25 L481.6,418.38 L482.1,418.51 L482.6,418.63 L483.1,418.76 L483.6,418.87 L484.1,418.99 L484.6,419.1 L485.1,419.21 L485.6,419.32 L486.1,419.43 L486.6,419.53 L487.1,419.62 L487.6,419.72 L488.1,419.81 L488.6,419.9 L489.1,419.99 L489.6,420.08 L490.1,420.16 L490.6,420.24 L491.1,420.32 L491.6,420.4 L492.1,420.47 L492.6,420.54 L493.1,420.61 L493.6,420.68 L494.1,420.74 L494.6,420.81 L495.1,420.87 L495.6,420.93 L496.1,420.99 L496.6,421.04 L497.1,421.1 L497.6,421.15 L498.1,421.2 L498.6,421.25 L499.1,421.3 L499.6,421.35 L500.1,421.39 L500.6,421.44 L501.1,421.48 L501.6,421.52 L502.1,421.56 L502.6,421.6 L503.1,421.64 L503.6,421.67 L504.1,421.71 L504.6,421.74 L505.1,421.77 L505.6,421.81 L506.1,421.84 L506.6,421.87 L507.1,421.9 L507.6,421.93 L508.1,421.95 L508.6,421.98 L509.1,422.01 L509.6,422.03 L510.1,422.06 L510.6,422.08 L511.1,422.1 L511.6,422.12 L512.1,422.15 L512.6,422.17 L513.1,422.19 L513.6,422.21 L514.1,422.23 L514.6,422.25 L515.1,422.26 L515.6,422.28 L516.1,422.3 L516.6,422.31 L517.1,422.33 L517.6,422.35 L518.1,422.36 L518.6,422.38 L519.1,422.39 L519.6,422.41 L520.1,422.42 L520.6,422.43 L521.1,422.45 L521.6,422.46 L522.1,422.47 L522.6,422.48 L523.1,422.49 L523.6,422.51 L524.1,422.52 L524.6,422.53 L525.1,422.54 L525.6,422.55 L526.1,422.56 L526.6,422.57 L527.1,422.58 L527.6,422.59 L528.1,422.6 L528.6,422.61 L529.1,422.62 L529.6,422.62 L530.1,422.63 L530.6,422.64 L531.1,422.65 L531.6,422.66 L532.1,422.67 L532.6,422.67 L533.1,422.68 L533.6,422.69 L534.1,422.7 L534.6,422.7 L535.1,422.71 L535.6,422.72 L536.1,422.72 L536.6,422.73 L537.1,422.74 L537.6,422.74 L538.1,422.75 L538.6,422.76 L538.6,423.5 L538.1,423.5 L537.6,423.5 L537.1,423.5 L536.6,423.5 L536.1,423.5 L535.6,423.5 L535.1,423.5 L534.6,423.5 L534.1,423.5 L533.6,423.5 L533.1,423.5 L532.6,423.5 L532.1,423.5 L531.6,423.5 L531.1,423.5 L530.6,423.5 L530.1,423.5 L529.6,423.5 L529.1,423.5 L528.6,423.5 L528.1,423.5 L527.6,423.5 L527.1,423.5 L526.6,423.5 L526.1,423.5 L525.6,423.49 L525.1,423.49 L524.6,423.49 L524.1,423.49 L523.6,423.49 L523.1,423.49 L522.6,423.49 L522.1,423.49 L521.6,423.49 L521.1,423.49 L520.6,423.49 L520.1,423.49 L519.6,423.49 L519.1,423.49 L518.6,423.49 L518.1,423.49 L517.6,423.49 L517.1,423.49 L516.6,423.48 L516.1,423.48 L515.6,423.48 L515.1,423.48 L514.6,423.48 L514.1,423.48 L513.6,423.48 L513.1,423.48 L512.6,423.48 L512.1,423.48 L511.6,423.48 L511.1,423.47 L510.6,423.47 L510.1,423.47 L509.6,423.47 L509.1,423.47 L508.6,423.47 L508.1,423.47 L507.6,423.47 L507.1,423.46 L506.6,423.46 L506.1,423.46 L505.6,423.46 L505.1,423.46 L504.6,423.46 L504.1,423.46 L503.6,423.45 L503.1,423.45 L502.6,423.45 L502.1,423.45 L501.6,423.45 L501.1,423.45 L500.6,423.44 L500.1,423.44 L499.6,423.44 L499.1,423.44 L498.6,423.44 L498.1,423.43 L497.6,423.43 L497.1,423.43 L496.6,423.43 L496.1,423.43 L495.6,423.42 L495.1,423.42 L494.6,423.42 L494.1,423.42 L493.6,423.42 L493.1,423.41 L492.6,423.41 L492.1,423.41 L491.6,423.41 L491.1,423.4 L490.6,423.4 L490.1,423.4 L489.6,423.4 L489.1,423.39 L488.6,423.39 L488.1,423.39 L487.6,423.39 L487.1,423.38 L486.6,423.38 L486.1,423.38 L485.6,423.37 L485.1,423.37 L484.6,423.37 L484.1,423.36 L483.6,423.36 L483.1,423.36 L482.6,423.36 L482.1,423.35 L481.6,423.35 L481.1,423.35 L480.6,423.34 L480.1,423.34 L479.6,423.33 L479.1,423.33 L478.6,423.33 L478.1,423.32 L477.6,423.32 L477.1,423.32 L476.6,423.31 L476.1,423.31 L475.6,423.3 L475.1,423.3 L474.6,423.29 L474.1,423.27 L473.6,423.24 L473.1,423.2 L472.6,423.15 L472.1,423.09 L471.6,423.03 L471.1,422.96 L470.6,422.88 L470.1,422.8 L469.6,422.71 L469.1,422.62 L468.6,422.53 L468.1,422.44 L467.6,422.35 L467.1,422.26 L466.6,422.17 L466.1,422.08 L465.6,421.99 L465.1,421.9 L464.6,421.8 L464.1,421.69 L463.6,421.58 L463.1,421.46 L462.6,421.35 L462.1,421.22 L461.6,421.1 L461.1,420.98 L460.6,420.85 L460.1,420.72 L459.6,420.59 L459.1,420.47 L458.6,420.34 L458.1,420.21 L457.6,420.09 L457.1,419.97 L456.6,419.85 L456.1,419.74 L455.6,419.63 L455.1,419.52 L454.6,419.42 L454.1,419.31 L453.6,419.21 L453.1,419.1 L452.6,418.99 L452.1,418.89 L451.6,418.78 L451.1,418.68 L450.6,418.58 L450.1,418.48 L449.6,418.38 L449.1,418.29 L448.6,418.2 L448.1,418.12 L447.6,418.04 L447.1,417.96 L446.6,417.9 L446.1,417.83 L445.6,417.78 L445.1,417.73 L444.6,417.67 L444.1,417.62 L443.6,417.57 L443.1,417.53 L442.6,417.48 L442.1,417.44 L441.6,417.39 L441.1,417.35 L440.6,417.31 L440.1,417.27 L439.6,417.23 L439.1,417.19 L438.6,417.15 L438.1,417.11 L437.6,417.08 L437.1,417.04 L436.6,417.01 L436.1,416.98 L435.6,416.94 L435.1,416.91 L434.6,416.88 L434.1,416.85 L433.6,416.82 L433.1,416.79 L432.6,416.76 L432.1,416.73 L431.6,416.7 L431.1,416.67 L430.6,416.64 L430.1,416.61 L429.6,416.58 L429.1,416.55 L428.6,416.53 L428.1,416.5 L427.6,416.47 L427.1,416.44 L426.6,416.41 L426.1,416.38 L425.6,416.35 L425.1,416.32 L424.6,416.29 L424.1,416.26 L423.6,416.23 L423.1,416.2 L422.6,416.17 L422.1,416.14 L421.6,416.11 L421.1,416.08 L420.6,416.04 L420.1,416.01 L419.6,415.97 L419.1,415.94 L418.6,415.9 L418.1,415.86 L417.6,415.83 L417.1,415.79 L416.6,415.75 L416.1,415.71 L415.6,415.67 L415.1,415.63 L414.6,415.59 L414.1,415.55 L413.6,415.51 L413.1,415.47 L412.6,415.43 L412.1,415.39 L411.6,415.36 L411.1,415.32 L410.6,415.28 L410.1,415.24 L409.6,415.2 L409.1,415.16 L408.6,415.12 L408.1,415.09 L407.6,415.05 L407.1,415.01 L406.6,414.98 L406.1,414.94 L405.6,414.91 L405.1,414.88 L404.6,414.85 L404.1,414.81 L403.6,414.78 L403.1,414.76 L402.6,414.73 L402.1,414.7 L401.6,414.67 L401.1,414.65 L400.6,414.63 L400.1,414.6 L399.6,414.58 L399.1,414.56 L398.6,414.54 L398.1,414.52 L397.6,414.5 L397.1,414.48 L396.6,414.47 L396.1,414.45 L395.6,414.43 L395.1,414.41 L394.6,414.39 L394.1,414.38 L393.6,414.36 L393.1,414.34 L392.6,414.33 L392.1,414.31 L391.6,414.29 L391.1,414.28 L390.6,414.26 L390.1,414.25 L389.6,414.23 L389.1,414.22 L388.6,414.2 L388.1,414.19 L387.6,414.18 L387.1,414.16 L386.6,414.15 L386.1,414.14 L385.6,414.13 L385.1,414.11 L384.6,414.1 L384.1,414.09 L383.6,414.08 L383.1,414.07 L382.6,414.05 L382.1,414.04 L381.6,414.03 L381.1,414.02 L380.6,414.01 L380.1,414 L379.6,413.99 L379.1,413.98 L378.6,413.97 L378.1,413.96 L377.6,413.95 L377.1,413.94 L376.6,413.93 L376.1,413.92 L375.6,413.92 L375.1,413.91 L374.6,413.9 L374.1,413.89 L373.6,413.88 L373.1,413.87 L372.6,413.86 L372.1,413.85 L371.6,413.84 L371.1,413.84 L370.6,413.83 L370.1,413.82 L369.6,413.81 L369.1,413.8 L368.6,413.79 L368.1,413.79 L367.6,413.78 L367.1,413.77 L366.6,413.76 L366.1,413.75 L365.6,413.75 L365.1,413.74 L364.6,413.73 L364.1,413.72 L363.6,413.72 L363.1,413.71 L362.6,413.7 L362.1,413.7 L361.6,413.69 L361.1,413.68 L360.6,413.68 L360.1,413.67 L359.6,413.66 L359.1,413.66 L358.6,413.65 L358.1,413.64 L357.6,413.64 L357.1,413.63 L356.6,413.62 L356.1,413.62 L355.6,413.61 L355.1,413.61 L354.6,413.6 L354.1,413.59 L353.6,413.59 L353.1,413.58 L352.6,413.58 L352.1,413.57 L351.6,413.57 L351.1,413.56 L350.6,413.55 L350.1,413.55 L349.6,413.54 L349.1,413.54 L348.6,413.53 L348.1,413.53 L347.6,413.52 L347.1,413.52 L346.6,413.51 L346.1,413.51 L345.6,413.51 L345.1,413.5 L344.6,413.5 L344.1,413.49 L343.6,413.49 L343.1,413.48 L342.6,413.48 L342.1,413.47 L341.6,413.47 L341.1,413.47 L340.6,413.46 L340.1,413.46 L339.6,413.45 L339.1,413.45 L338.6,413.44 L338.1,413.44 L337.6,413.43 L337.1,413.43 L336.6,413.43 L336.1,413.42 L335.6,413.42 L335.1,413.41 L334.6,413.41 L334.1,413.4 L333.6,413.4 L333.1,413.4 L332.6,413.39 L332.1,413.39 L331.6,413.38 L331.1,413.38 L330.6,413.38 L330.1,413.37 L329.6,413.37 L329.1,413.36 L328.6,413.36 L328.1,413.36 L327.6,413.35 L327.1,413.35 L326.6,413.35 L326.1,413.34 L325.6,413.34 L325.1,413.33 L324.6,413.33 L324.1,413.33 L323.6,413.32 L323.1,413.32 L322.6,413.32 L322.1,413.31 L321.6,413.31 L321.1,413.31 L320.6,413.3 L320.1,413.3 L319.6,413.3 L319.1,413.29 L318.6,413.29 L318.1,413.29 L317.6,413.28 L317.1,413.28 L316.6,413.28 L316.1,413.27 L315.6,413.27 L315.1,413.27 L314.6,413.26 L314.1,413.26 L313.6,413.26 L313.1,413.26 L312.6,413.25 L312.1,413.25 L311.6,413.25 L311.1,413.25 L310.6,413.24 L310.1,413.24 L309.6,413.24 L309.1,413.24 L308.6,413.23 L308.1,413.23 L307.6,413.23 L307.1,413.23 L306.6,413.23 L306.1,413.22 L305.6,413.22 L305.1,413.22 L304.6,413.22 L304.1,413.22 L303.6,413.21 L303.1,413.21 L302.6,413.21 L302.1,413.21 L301.6,413.21 L301.1,413.21 L300.6,413.21 L300.1,413.2 L299.6,413.2 L299.1,413.2 L298.6,413.2 Z" fill="url(#g10)" stroke="none"/>
<path d="M298.9,411.93 L302.9,411.8 L306.9,411.68 L310.9,411.32 L314.9,411.09 L318.9,410.85 L322.9,410.64 L326.9,409.13 L330.9,409.79 L334.9,409.04 L338.9,408.36 L342.9,407.46 L346.9,403.17 L350.9,404.98 L354.9,401.43 L358.9,401.2 L362.9,399.34 L366.9,397.57 L370.9,395.54 L374.9,391.3 L378.9,390.56 L382.9,383.92 L386.9,385.18 L390.9,380.57 L394.9,379.42 L398.9,375.6 L402.9,373.92 L406.9,368.45 L410.9,369.61 L414.9,367.82 L418.9,365.89 L422.9,362.24 L426.9,360.75 L430.9,353.99 L434.9,340.76 L438.9,323.61 L442.9,300.26 L446.9,278.26 L450.9,265.73 L454.9,268.1 L458.9,291.41 L462.9,324.37 L466.9,358.86 L470.9,385.42 L474.9,402.34 L478.9,411.35 L482.9,415.87 L486.9,417.7 L490.9,419.43 L494.9,420.13 L498.9,420.72 L502.9,420.73 L506.9,421.49 L510.9,421.17 L514.9,421.94 L518.9,421.78 L522.9,421.76 L526.9,421.07 L530.9,422.46 L534.9,422.44" fill="none" stroke="#aaaaaa" stroke-width="0.95" stroke-linejoin="miter"/>
<path d="M298.6,411.94 L299.1,411.93 L299.6,411.91 L300.1,411.9 L300.6,411.88 L301.1,411.87 L301.6,411.85 L302.1,411.84 L302.6,411.82 L303.1,411.8 L303.6,411.79 L304.1,411.77 L304.6,411.75 L305.1,411.73 L305.6,411.71 L306.1,411.7 L306.6,411.68 L307.1,411.66 L307.6,411.63 L308.1,411.61 L308.6,411.59 L309.1,411.57 L309.6,411.55 L310.1,411.52 L310.6,411.5 L311.1,411.47 L311.6,411.45 L312.1,411.42 L312.6,411.4 L313.1,411.37 L313.6,411.34 L314.1,411.31 L314.6,411.28 L315.1,411.25 L315.6,411.22 L316.1,411.19 L316.6,411.15 L317.1,411.12 L317.6,411.08 L318.1,411.05 L318.6,411.01 L319.1,410.97 L319.6,410.93 L320.1,410.89 L320.6,410.85 L321.1,410.81 L321.6,410.77 L322.1,410.72 L322.6,410.68 L323.1,410.63 L323.6,410.58 L324.1,410.53 L324.6,410.48 L325.1,410.43 L325.6,410.38 L326.1,410.32 L326.6,410.26 L327.1,410.21 L327.6,410.15 L328.1,410.09 L328.6,410.03 L329.1,409.96 L329.6,409.9 L330.1,409.83 L330.6,409.76 L331.1,409.69 L331.6,409.62 L332.1,409.54 L332.6,409.47 L333.1,409.39 L333.6,409.31 L334.1,409.23 L334.6,409.15 L335.1,409.06 L335.6,408.98 L336.1,408.89 L336.6,408.8 L337.1,408.7 L337.6,408.61 L338.1,408.51 L338.6,408.41 L339.1,408.31 L339.6,408.21 L340.1,408.1 L340.6,407.99 L341.1,407.88 L341.6,407.77 L342.1,407.65 L342.6,407.53 L343.1,407.41 L343.6,407.29 L344.1,407.17 L344.6,407.04 L345.1,406.91 L345.6,406.77 L346.1,406.64 L346.6,406.5 L347.1,406.36 L347.6,406.22 L348.1,406.07 L348.6,405.92 L349.1,405.77 L349.6,405.62 L350.1,405.46 L350.6,405.3 L351.1,405.14 L351.6,404.98 L352.1,404.81 L352.6,404.64 L353.1,404.47 L353.6,404.29 L354.1,404.11 L354.6,403.93 L355.1,403.75 L355.6,403.56 L356.1,403.37 L356.6,403.18 L357.1,402.98 L357.6,402.79 L358.1,402.59 L358.6,402.38 L359.1,402.18 L359.6,401.97 L360.1,401.76 L360.6,401.54 L361.1,401.32 L361.6,401.1 L362.1,400.88 L362.6,400.66 L363.1,400.43 L363.6,400.2 L364.1,399.96 L364.6,399.73 L365.1,399.49 L365.6,399.25 L366.1,399 L366.6,398.76 L367.1,398.51 L367.6,398.26 L368.1,398.01 L368.6,397.75 L369.1,397.49 L369.6,397.23 L370.1,396.97 L370.6,396.71 L371.1,396.44 L371.6,396.17 L372.1,395.9 L372.6,395.63 L373.1,395.36 L373.6,395.08 L374.1,394.8 L374.6,394.52 L375.1,394.24 L375.6,393.96 L376.1,393.68 L376.6,393.39 L377.1,393.11 L377.6,392.82 L378.1,392.53 L378.6,392.24 L379.1,391.95 L379.6,391.66 L380.1,391.37 L380.6,391.08 L381.1,390.78 L381.6,390.49 L382.1,390.2 L382.6,389.9 L383.1,389.61 L383.6,389.32 L384.1,389.02 L384.6,388.73 L385.1,388.44 L385.6,388.15 L386.1,387.85 L386.6,387.56 L387.1,387.28 L387.6,386.99 L388.1,386.7 L388.6,386.41 L389.1,386.13 L389.6,385.85 L390.1,385.57 L390.6,385.29 L391.1,385.01 L391.6,384.74 L392.1,384.46 L392.6,384.2 L393.1,383.93 L393.6,383.66 L394.1,383.4 L394.6,383.14 L395.1,382.89 L395.6,382.64 L396.1,382.39 L396.6,382.14 L397.1,381.9 L397.6,381.67 L398.1,381.44 L398.6,381.21 L399.1,380.98 L399.6,380.77 L400.1,380.55 L400.6,380.34 L401.1,380.14 L401.6,379.95 L402.1,379.76 L402.6,379.57 L403.1,379.4 L403.6,379.23 L404.1,379.06 L404.6,378.91 L405.1,378.76 L405.6,378.61 L406.1,378.48 L406.6,378.35 L407.1,378.23 L407.6,378.11 L408.1,378.01 L408.6,377.91 L409.1,377.82 L409.6,377.73 L410.1,377.65 L410.6,377.58 L411.1,377.52 L411.6,377.47 L412.1,377.42 L412.6,377.38 L413.1,377.35 L413.6,377.33 L414.1,377.32 L414.6,377.31 L415.1,377.31 L415.6,377.32 L416.1,377.33 L416.6,377.36 L417.1,377.39 L417.6,377.43 L418.1,377.48 L418.6,377.54 L419.1,377.61 L419.6,377.7 L420.1,377.8 L420.6,377.9 L421.1,378.02 L421.6,378.15 L422.1,378.29 L422.6,378.44 L423.1,378.6 L423.6,378.78 L424.1,378.96 L424.6,379.15 L425.1,379.35 L425.6,379.57 L426.1,379.79 L426.6,380.02 L427.1,380.26 L427.6,380.51 L428.1,380.77 L428.6,381.04 L429.1,381.32 L429.6,381.6 L430.1,381.89 L430.6,382.19 L431.1,382.5 L431.6,382.82 L432.1,383.14 L432.6,383.47 L433.1,383.8 L433.6,384.15 L434.1,384.5 L434.6,384.85 L435.1,385.21 L435.6,385.57 L436.1,385.94 L436.6,386.32 L437.1,386.7 L437.6,387.08 L438.1,387.47 L438.6,387.87 L439.1,388.26 L439.6,388.66 L440.1,389.07 L440.6,389.47 L441.1,389.88 L441.6,390.29 L442.1,390.71 L442.6,391.13 L443.1,391.54 L443.6,391.97 L444.1,392.39 L444.6,392.81 L445.1,393.24 L445.6,393.67 L446.1,394.1 L446.6,394.53 L447.1,394.97 L447.6,395.42 L448.1,395.87 L448.6,396.32 L449.1,396.78 L449.6,397.24 L450.1,397.7 L450.6,398.16 L451.1,398.63 L451.6,399.09 L452.1,399.55 L452.6,400.01 L453.1,400.46 L453.6,400.92 L454.1,401.37 L454.6,401.82 L455.1,402.26 L455.6,402.7 L456.1,403.14 L456.6,403.59 L457.1,404.03 L457.6,404.47 L458.1,404.92 L458.6,405.36 L459.1,405.79 L459.6,406.23 L460.1,406.66 L460.6,407.09 L461.1,407.51 L461.6,407.92 L462.1,408.34 L462.6,408.74 L463.1,409.14 L463.6,409.53 L464.1,409.91 L464.6,410.28 L465.1,410.64 L465.6,410.99 L466.1,411.34 L466.6,411.67 L467.1,412.01 L467.6,412.34 L468.1,412.66 L468.6,412.99 L469.1,413.3 L469.6,413.61 L470.1,413.92 L470.6,414.21 L471.1,414.5 L471.6,414.78 L472.1,415.05 L472.6,415.3 L473.1,415.55 L473.6,415.77 L474.1,415.99 L474.6,416.19 L475.1,416.38 L475.6,416.55 L476.1,416.73 L476.6,416.89 L477.1,417.06 L477.6,417.22 L478.1,417.38 L478.6,417.53 L479.1,417.68 L479.6,417.83 L480.1,417.97 L480.6,418.11 L481.1,418.25 L481.6,418.38 L482.1,418.51 L482.6,418.63 L483.1,418.76 L483.6,418.87 L484.1,418.99 L484.6,419.1 L485.1,419.21 L485.6,419.32 L486.1,419.43 L486.6,419.53 L487.1,419.62 L487.6,419.72 L488.1,419.81 L488.6,419.9 L489.1,419.99 L489.6,420.08 L490.1,420.16 L490.6,420.24 L491.1,420.32 L491.6,420.4 L492.1,420.47 L492.6,420.54 L493.1,420.61 L493.6,420.68 L494.1,420.74 L494.6,420.81 L495.1,420.87 L495.6,420.93 L496.1,420.99 L496.6,421.04 L497.1,421.1 L497.6,421.15 L498.1,421.2 L498.6,421.25 L499.1,421.3 L499.6,421.35 L500.1,421.39 L500.6,421.44 L501.1,421.48 L501.6,421.52 L502.1,421.56 L502.6,421.6 L503.1,421.64 L503.6,421.67 L504.1,421.71 L504.6,421.74 L505.1,421.77 L505.6,421.81 L506.1,421.84 L506.6,421.87 L507.1,421.9 L507.6,421.93 L508.1,421.95 L508.6,421.98 L509.1,422.01 L509.6,422.03 L510.1,422.06 L510.6,422.08 L511.1,422.1 L511.6,422.12 L512.1,422.15 L512.6,422.17 L513.1,422.19 L513.6,422.21 L514.1,422.23 L514.6,422.25 L515.1,422.26 L515.6,422.28 L516.1,422.3 L516.6,422.31 L517.1,422.33 L517.6,422.35 L518.1,422.36 L518.6,422.38 L519.1,422.39 L519.6,422.41 L520.1,422.42 L520.6,422.43 L521.1,422.45 L521.6,422.46 L522.1,422.47 L522.6,422.48 L523.1,422.49 L523.6,422.51 L524.1,422.52 L524.6,422.53 L525.1,422.54 L525.6,422.55 L526.1,422.56 L526.6,422.57 L527.1,422.58 L527.6,422.59 L528.1,422.6 L528.6,422.61 L529.1,422.62 L529.6,422.62 L530.1,422.63 L530.6,422.64 L531.1,422.65 L531.6,422.66 L532.1,422.67 L532.6,422.67 L533.1,422.68 L533.6,422.69 L534.1,422.7 L534.6,422.7 L535.1,422.71 L535.6,422.72 L536.1,422.72 L536.6,422.73 L537.1,422.74 L537.6,422.74 L538.1,422.75 L538.6,422.76" fill="none" stroke="#1f55d6" stroke-width="1.5" stroke-linejoin="round"/>
<path d="M347.6,413.47 L348.1,413.48 L348.6,413.48 L349.1,413.48 L349.6,413.48 L350.1,413.48 L350.6,413.48 L351.1,413.49 L351.6,413.49 L352.1,413.49 L352.6,413.49 L353.1,413.49 L353.6,413.49 L354.1,413.49 L354.6,413.49 L355.1,413.49 L355.6,413.49 L356.1,413.49 L356.6,413.49 L357.1,413.49 L357.6,413.49 L358.1,413.49 L358.6,413.49 L359.1,413.49 L359.6,413.49 L360.1,413.48 L360.6,413.48 L361.1,413.48 L361.6,413.48 L362.1,413.47 L362.6,413.47 L363.1,413.47 L363.6,413.46 L364.1,413.46 L364.6,413.45 L365.1,413.45 L365.6,413.44 L366.1,413.43 L366.6,413.43 L367.1,413.42 L367.6,413.41 L368.1,413.4 L368.6,413.39 L369.1,413.38 L369.6,413.37 L370.1,413.36 L370.6,413.35 L371.1,413.34 L371.6,413.32 L372.1,413.31 L372.6,413.29 L373.1,413.28 L373.6,413.26 L374.1,413.25 L374.6,413.23 L375.1,413.21 L375.6,413.19 L376.1,413.17 L376.6,413.15 L377.1,413.13 L377.6,413.1 L378.1,413.08 L378.6,413.05 L379.1,413.03 L379.6,413 L380.1,412.97 L380.6,412.94 L381.1,412.91 L381.6,412.88 L382.1,412.85 L382.6,412.81 L383.1,412.78 L383.6,412.74 L384.1,412.7 L384.6,412.67 L385.1,412.63 L385.6,412.58 L386.1,412.54 L386.6,412.5 L387.1,412.45 L387.6,412.41 L388.1,412.36 L388.6,412.31 L389.1,412.26 L389.6,412.21 L390.1,412.16 L390.6,412.1 L391.1,412.05 L391.6,411.99 L392.1,411.93 L392.6,411.87 L393.1,411.81 L393.6,411.75 L394.1,411.68 L394.6,411.62 L395.1,411.55 L395.6,411.48 L396.1,411.41 L396.6,411.33 L397.1,411.26 L397.6,411.19 L398.1,411.11 L398.6,411.03 L399.1,410.95 L399.6,410.87 L400.1,410.78 L400.6,410.7 L401.1,410.61 L401.6,410.53 L402.1,410.44 L402.6,410.36 L403.1,410.27 L403.6,410.18 L404.1,410.09 L404.6,410 L405.1,409.91 L405.6,409.81 L406.1,409.72 L406.6,409.62 L407.1,409.53 L407.6,409.43 L408.1,409.33 L408.6,409.23 L409.1,409.13 L409.6,409.02 L410.1,408.91 L410.6,408.8 L411.1,408.69 L411.6,408.58 L412.1,408.46 L412.6,408.34 L413.1,408.22 L413.6,408.09 L414.1,407.96 L414.6,407.82 L415.1,407.68 L415.6,407.53 L416.1,407.37 L416.6,407.21 L417.1,407.04 L417.6,406.86 L418.1,406.66 L418.6,406.46 L419.1,406.24 L419.6,406.01 L420.1,405.76 L420.6,405.49 L421.1,405.2 L421.6,404.89 L422.1,404.56 L422.6,404.19 L423.1,403.8 L423.6,403.37 L424.1,402.91 L424.6,402.41 L425.1,401.86 L425.6,401.27 L426.1,400.63 L426.6,399.93 L427.1,399.18 L427.6,398.36 L428.1,397.48 L428.6,396.52 L429.1,395.49 L429.6,394.38 L430.1,393.18 L430.6,391.89 L431.1,390.52 L431.6,389.04 L432.1,387.46 L432.6,385.78 L433.1,384 L433.6,382.1 L434.1,380.1 L434.6,377.98 L435.1,375.75 L435.6,373.41 L436.1,370.96 L436.6,368.4 L437.1,365.73 L437.6,362.96 L438.1,360.09 L438.6,357.12 L439.1,354.08 L439.6,350.95 L440.1,347.76 L440.6,344.51 L441.1,341.21 L441.6,337.87 L442.1,334.51 L442.6,331.14 L443.1,327.78 L443.6,324.44 L444.1,321.13 L444.6,317.88 L445.1,314.7 L445.6,311.6 L446.1,308.6 L446.6,305.74 L447.1,303.01 L447.6,300.44 L448.1,298.04 L448.6,295.82 L449.1,293.81 L449.6,292 L450.1,290.42 L450.6,289.08 L451.1,287.98 L451.6,287.12 L452.1,286.52 L452.6,286.18 L453.1,286.11 L453.6,286.32 L454.1,286.86 L454.6,287.75 L455.1,288.96 L455.6,290.49 L456.1,292.34 L456.6,294.48 L457.1,296.91 L457.6,299.59 L458.1,302.52 L458.6,305.66 L459.1,309.01 L459.6,312.53 L460.1,316.19 L460.6,319.99 L461.1,323.89 L461.6,327.87 L462.1,331.91 L462.6,335.98 L463.1,340.07 L463.6,344.15 L464.1,348.2 L464.6,352.21 L465.1,356.16 L465.6,360.04 L466.1,363.82 L466.6,367.5 L467.1,371.08 L467.6,374.55 L468.1,377.89 L468.6,381.1 L469.1,384.18 L469.6,387.11 L470.1,389.9 L470.6,392.54 L471.1,395.04 L471.6,397.39 L472.1,399.59 L472.6,401.64 L473.1,403.55 L473.6,405.33 L474.1,406.96 L474.6,408.47 L475.1,409.84 L475.6,411.11 L476.1,412.26 L476.6,413.32 L477.1,414.29 L477.6,415.17 L478.1,415.97 L478.6,416.69 L479.1,417.34 L479.6,417.93 L480.1,418.46 L480.6,418.94 L481.1,419.37 L481.6,419.75 L482.1,420.09 L482.6,420.39 L483.1,420.66 L483.6,420.9 L484.1,421.11 L484.6,421.3 L485.1,421.47 L485.6,421.62 L486.1,421.75 L486.6,421.87 L487.1,421.97 L487.6,422.06 L488.1,422.15 L488.6,422.22 L489.1,422.28 L489.6,422.34 L490.1,422.39 L490.6,422.44 L491.1,422.48 L491.6,422.52 L492.1,422.56 L492.6,422.59 L493.1,422.62 L493.6,422.65 L494.1,422.67 L494.6,422.7 L495.1,422.72 L495.6,422.74 L496.1,422.76 L496.6,422.78 L497.1,422.8 L497.6,422.81 L498.1,422.83 L498.6,422.84 L499.1,422.86 L499.6,422.87 L500.1,422.89 L500.6,422.9 L501.1,422.91 L501.6,422.92 L502.1,422.94 L502.6,422.95 L503.1,422.96 L503.6,422.97 L504.1,422.98 L504.6,422.99 L505.1,423 L505.6,423.01 L506.1,423.02 L506.6,423.03 L507.1,423.04 L507.6,423.05 L508.1,423.06 L508.6,423.06 L509.1,423.07 L509.6,423.08 L510.1,423.09 L510.6,423.1 L511.1,423.1 L511.6,423.11 L512.1,423.12 L512.6,423.12 L513.1,423.13 L513.6,423.14 L514.1,423.14 L514.6,423.15 L515.1,423.16 L515.6,423.16 L516.1,423.17 L516.6,423.17 L517.1,423.18 L517.6,423.18 L518.1,423.19 L518.6,423.19 L519.1,423.2 L519.6,423.2 L520.1,423.21 L520.6,423.21 L521.1,423.22 L521.6,423.22 L522.1,423.23 L522.6,423.23 L523.1,423.23 L523.6,423.24 L524.1,423.24 L524.6,423.25 L525.1,423.25 L525.6,423.25 L526.1,423.26 L526.6,423.26 L527.1,423.26 L527.6,423.27 L528.1,423.27 L528.6,423.27 L529.1,423.28 L529.6,423.28 L530.1,423.28 L530.6,423.29 L531.1,423.29 L531.6,423.29 L532.1,423.3 L532.6,423.3 L533.1,423.3 L533.6,423.3 L534.1,423.31 L534.6,423.31 L535.1,423.31 L535.6,423.31 L536.1,423.31 L536.6,423.32 L537.1,423.32 L537.6,423.32 L538.1,423.32 L538.6,423.33" fill="none" stroke="#b597e8" stroke-width="1.4" stroke-linejoin="round"/>
<path d="M425.1,401.86 L425.6,401.27 L426.1,400.63 L426.6,399.93 L427.1,399.18 L427.6,398.36 L428.1,397.48 L428.6,396.52 L429.1,395.49 L429.6,394.38 L430.1,393.18 L430.6,391.89 L431.1,390.52 L431.6,389.04 L432.1,387.46 L432.6,385.78 L433.1,384 L433.6,382.1 L434.1,380.1 L434.6,377.98 L435.1,375.75 L435.6,373.41 L436.1,370.96 L436.6,368.4 L437.1,365.73 L437.6,362.96 L438.1,360.09 L438.6,357.12 L439.1,354.08 L439.6,350.95 L440.1,347.76 L440.6,344.51 L441.1,341.21 L441.6,337.87 L442.1,334.51 L442.6,331.14 L443.1,327.78 L443.6,324.44 L444.1,321.13 L444.6,317.88 L445.1,314.7 L445.6,311.6 L446.1,308.6 L446.6,305.74 L447.1,303.01 L447.6,300.44 L448.1,298.04 L448.6,295.82 L449.1,293.81 L449.6,292 L450.1,290.42 L450.6,289.08 L451.1,287.98 L451.6,287.12 L452.1,286.52 L452.6,286.18 L453.1,286.11 L453.6,286.32 L454.1,286.86 L454.6,287.75 L455.1,288.96 L455.6,290.49 L456.1,292.34 L456.6,294.48 L457.1,296.91 L457.6,299.59 L458.1,302.52 L458.6,305.66 L459.1,309.01 L459.6,312.53 L460.1,316.19 L460.6,319.99 L461.1,323.89 L461.6,327.87 L462.1,331.91 L462.6,335.98 L463.1,340.07 L463.6,344.15 L464.1,348.2 L464.6,352.21 L465.1,356.16 L465.6,360.04 L466.1,363.82 L466.6,367.5 L467.1,371.08 L467.6,374.55 L468.1,377.89 L468.6,381.1 L469.1,384.18 L469.6,387.11 L470.1,389.9 L470.6,392.54 L471.1,395.04 L471.6,397.39 L472.1,399.59 L472.6,401.64 L473.1,403.55 L473.6,405.33 L474.1,406.96 L474.6,408.47" fill="none" stroke="#a85be0" stroke-width="1.4" stroke-linejoin="round"/>
<path d="M298.6,413.2 L299.1,413.2 L299.6,413.2 L300.1,413.2 L300.6,413.21 L301.1,413.21 L301.6,413.21 L302.1,413.21 L302.6,413.21 L303.1,413.21 L303.6,413.21 L304.1,413.22 L304.6,413.22 L305.1,413.22 L305.6,413.22 L306.1,413.22 L306.6,413.23 L307.1,413.23 L307.6,413.23 L308.1,413.23 L308.6,413.23 L309.1,413.24 L309.6,413.24 L310.1,413.24 L310.6,413.24 L311.1,413.25 L311.6,413.25 L312.1,413.25 L312.6,413.25 L313.1,413.26 L313.6,413.26 L314.1,413.26 L314.6,413.26 L315.1,413.27 L315.6,413.27 L316.1,413.27 L316.6,413.28 L317.1,413.28 L317.6,413.28 L318.1,413.29 L318.6,413.29 L319.1,413.29 L319.6,413.3 L320.1,413.3 L320.6,413.3 L321.1,413.31 L321.6,413.31 L322.1,413.31 L322.6,413.32 L323.1,413.32 L323.6,413.32 L324.1,413.33 L324.6,413.33 L325.1,413.33 L325.6,413.34 L326.1,413.34 L326.6,413.35 L327.1,413.35 L327.6,413.35 L328.1,413.36 L328.6,413.36 L329.1,413.36 L329.6,413.37 L330.1,413.37 L330.6,413.38 L331.1,413.38 L331.6,413.38 L332.1,413.39 L332.6,413.39 L333.1,413.4 L333.6,413.4 L334.1,413.4 L334.6,413.41 L335.1,413.41 L335.6,413.42 L336.1,413.42 L336.6,413.43 L337.1,413.43 L337.6,413.43 L338.1,413.44 L338.6,413.44 L339.1,413.45 L339.6,413.45 L340.1,413.46 L340.6,413.46 L341.1,413.47 L341.6,413.47 L342.1,413.47 L342.6,413.48 L343.1,413.48 L343.6,413.49 L344.1,413.49 L344.6,413.5 L345.1,413.5 L345.6,413.51 L346.1,413.51 L346.6,413.51 L347.1,413.52 L347.6,413.52 L348.1,413.53 L348.6,413.53 L349.1,413.54 L349.6,413.54 L350.1,413.55 L350.6,413.55 L351.1,413.56 L351.6,413.57 L352.1,413.57 L352.6,413.58 L353.1,413.58 L353.6,413.59 L354.1,413.59 L354.6,413.6 L355.1,413.61 L355.6,413.61 L356.1,413.62 L356.6,413.62 L357.1,413.63 L357.6,413.64 L358.1,413.64 L358.6,413.65 L359.1,413.66 L359.6,413.66 L360.1,413.67 L360.6,413.68 L361.1,413.68 L361.6,413.69 L362.1,413.7 L362.6,413.7 L363.1,413.71 L363.6,413.72 L364.1,413.72 L364.6,413.73 L365.1,413.74 L365.6,413.75 L366.1,413.75 L366.6,413.76 L367.1,413.77 L367.6,413.78 L368.1,413.79 L368.6,413.79 L369.1,413.8 L369.6,413.81 L370.1,413.82 L370.6,413.83 L371.1,413.84 L371.6,413.84 L372.1,413.85 L372.6,413.86 L373.1,413.87 L373.6,413.88 L374.1,413.89 L374.6,413.9 L375.1,413.91 L375.6,413.92 L376.1,413.92 L376.6,413.93 L377.1,413.94 L377.6,413.95 L378.1,413.96 L378.6,413.97 L379.1,413.98 L379.6,413.99 L380.1,414 L380.6,414.01 L381.1,414.02 L381.6,414.03 L382.1,414.04 L382.6,414.05 L383.1,414.07 L383.6,414.08 L384.1,414.09 L384.6,414.1 L385.1,414.11 L385.6,414.13 L386.1,414.14 L386.6,414.15 L387.1,414.16 L387.6,414.18 L388.1,414.19 L388.6,414.2 L389.1,414.22 L389.6,414.23 L390.1,414.25 L390.6,414.26 L391.1,414.28 L391.6,414.29 L392.1,414.31 L392.6,414.33 L393.1,414.34 L393.6,414.36 L394.1,414.38 L394.6,414.39 L395.1,414.41 L395.6,414.43 L396.1,414.45 L396.6,414.47 L397.1,414.48 L397.6,414.5 L398.1,414.52 L398.6,414.54 L399.1,414.56 L399.6,414.58 L400.1,414.6 L400.6,414.63 L401.1,414.65 L401.6,414.67 L402.1,414.7 L402.6,414.73 L403.1,414.76 L403.6,414.78 L404.1,414.81 L404.6,414.85 L405.1,414.88 L405.6,414.91 L406.1,414.94 L406.6,414.98 L407.1,415.01 L407.6,415.05 L408.1,415.09 L408.6,415.12 L409.1,415.16 L409.6,415.2 L410.1,415.24 L410.6,415.28 L411.1,415.32 L411.6,415.36 L412.1,415.39 L412.6,415.43 L413.1,415.47 L413.6,415.51 L414.1,415.55 L414.6,415.59 L415.1,415.63 L415.6,415.67 L416.1,415.71 L416.6,415.75 L417.1,415.79 L417.6,415.83 L418.1,415.86 L418.6,415.9 L419.1,415.94 L419.6,415.97 L420.1,416.01 L420.6,416.04 L421.1,416.08 L421.6,416.11 L422.1,416.14 L422.6,416.17 L423.1,416.2 L423.6,416.23 L424.1,416.26 L424.6,416.29 L425.1,416.32 L425.6,416.35 L426.1,416.38 L426.6,416.41 L427.1,416.44 L427.6,416.47 L428.1,416.5 L428.6,416.53 L429.1,416.55 L429.6,416.58 L430.1,416.61 L430.6,416.64 L431.1,416.67 L431.6,416.7 L432.1,416.73 L432.6,416.76 L433.1,416.79 L433.6,416.82 L434.1,416.85 L434.6,416.88 L435.1,416.91 L435.6,416.94 L436.1,416.98 L436.6,417.01 L437.1,417.04 L437.6,417.08 L438.1,417.11 L438.6,417.15 L439.1,417.19 L439.6,417.23 L440.1,417.27 L440.6,417.31 L441.1,417.35 L441.6,417.39 L442.1,417.44 L442.6,417.48 L443.1,417.53 L443.6,417.57 L444.1,417.62 L444.6,417.67 L445.1,417.73 L445.6,417.78 L446.1,417.83 L446.6,417.9 L447.1,417.96 L447.6,418.04 L448.1,418.12 L448.6,418.2 L449.1,418.29 L449.6,418.38 L450.1,418.48 L450.6,418.58 L451.1,418.68 L451.6,418.78 L452.1,418.89 L452.6,418.99 L453.1,419.1 L453.6,419.21 L454.1,419.31 L454.6,419.42 L455.1,419.52 L455.6,419.63 L456.1,419.74 L456.6,419.85 L457.1,419.97 L457.6,420.09 L458.1,420.21 L458.6,420.34 L459.1,420.47 L459.6,420.59 L460.1,420.72 L460.6,420.85 L461.1,420.98 L461.6,421.1 L462.1,421.22 L462.6,421.35 L463.1,421.46 L463.6,421.58 L464.1,421.69 L464.6,421.8 L465.1,421.9 L465.6,421.99 L466.1,422.08 L466.6,422.17 L467.1,422.26 L467.6,422.35 L468.1,422.44 L468.6,422.53 L469.1,422.62 L469.6,422.71 L470.1,422.8 L470.6,422.88 L471.1,422.96 L471.6,423.03 L472.1,423.09 L472.6,423.15 L473.1,423.2 L473.6,423.24 L474.1,423.27 L474.6,423.29 L475.1,423.3 L475.6,423.3 L476.1,423.31 L476.6,423.31 L477.1,423.32 L477.6,423.32 L478.1,423.32 L478.6,423.33 L479.1,423.33 L479.6,423.33 L480.1,423.34 L480.6,423.34 L481.1,423.35 L481.6,423.35 L482.1,423.35 L482.6,423.36 L483.1,423.36 L483.6,423.36 L484.1,423.36 L484.6,423.37 L485.1,423.37 L485.6,423.37 L486.1,423.38 L486.6,423.38 L487.1,423.38 L487.6,423.39 L488.1,423.39 L488.6,423.39 L489.1,423.39 L489.6,423.4 L490.1,423.4 L490.6,423.4 L491.1,423.4 L491.6,423.41 L492.1,423.41 L492.6,423.41 L493.1,423.41 L493.6,423.42 L494.1,423.42 L494.6,423.42 L495.1,423.42 L495.6,423.42 L496.1,423.43 L496.6,423.43 L497.1,423.43 L497.6,423.43 L498.1,423.43 L498.6,423.44 L499.1,423.44 L499.6,423.44 L500.1,423.44 L500.6,423.44 L501.1,423.45 L501.6,423.45 L502.1,423.45 L502.6,423.45 L503.1,423.45 L503.6,423.45 L504.1,423.46 L504.6,423.46 L505.1,423.46 L505.6,423.46 L506.1,423.46 L506.6,423.46 L507.1,423.46 L507.6,423.47 L508.1,423.47 L508.6,423.47 L509.1,423.47 L509.6,423.47 L510.1,423.47 L510.6,423.47 L511.1,423.47 L511.6,423.48 L512.1,423.48 L512.6,423.48 L513.1,423.48 L513.6,423.48 L514.1,423.48 L514.6,423.48 L515.1,423.48 L515.6,423.48 L516.1,423.48 L516.6,423.48 L517.1,423.49 L517.6,423.49 L518.1,423.49 L518.6,423.49 L519.1,423.49 L519.6,423.49 L520.1,423.49 L520.6,423.49 L521.1,423.49 L521.6,423.49 L522.1,423.49 L522.6,423.49 L523.1,423.49 L523.6,423.49 L524.1,423.49 L524.6,423.49 L525.1,423.49 L525.6,423.49 L526.1,423.5 L526.6,423.5 L527.1,423.5 L527.6,423.5 L528.1,423.5 L528.6,423.5 L529.1,423.5 L529.6,423.5 L530.1,423.5 L530.6,423.5 L531.1,423.5 L531.6,423.5 L532.1,423.5 L532.6,423.5 L533.1,423.5 L533.6,423.5 L534.1,423.5 L534.6,423.5 L535.1,423.5 L535.6,423.5 L536.1,423.5 L536.6,423.5 L537.1,423.5 L537.6,423.5 L538.1,423.5 L538.6,423.5" fill="none" stroke="#6e6e6e" stroke-width="1.3"/>
<path d="M298.6,411.94 L299.1,411.93 L299.6,411.91 L300.1,411.9 L300.6,411.88 L301.1,411.87 L301.6,411.85 L302.1,411.84 L302.6,411.82 L303.1,411.8 L303.6,411.79 L304.1,411.77 L304.6,411.75 L305.1,411.73 L305.6,411.71 L306.1,411.69 L306.6,411.67 L307.1,411.65 L307.6,411.63 L308.1,411.61 L308.6,411.59 L309.1,411.56 L309.6,411.54 L310.1,411.52 L310.6,411.49 L311.1,411.47 L311.6,411.44 L312.1,411.41 L312.6,411.39 L313.1,411.36 L313.6,411.33 L314.1,411.3 L314.6,411.27 L315.1,411.24 L315.6,411.2 L316.1,411.17 L316.6,411.14 L317.1,411.1 L317.6,411.07 L318.1,411.03 L318.6,410.99 L319.1,410.95 L319.6,410.91 L320.1,410.87 L320.6,410.83 L321.1,410.79 L321.6,410.74 L322.1,410.69 L322.6,410.65 L323.1,410.6 L323.6,410.55 L324.1,410.5 L324.6,410.45 L325.1,410.39 L325.6,410.34 L326.1,410.28 L326.6,410.23 L327.1,410.17 L327.6,410.11 L328.1,410.04 L328.6,409.98 L329.1,409.91 L329.6,409.85 L330.1,409.78 L330.6,409.71 L331.1,409.64 L331.6,409.56 L332.1,409.49 L332.6,409.41 L333.1,409.33 L333.6,409.25 L334.1,409.16 L334.6,409.08 L335.1,408.99 L335.6,408.9 L336.1,408.81 L336.6,408.72 L337.1,408.62 L337.6,408.52 L338.1,408.42 L338.6,408.32 L339.1,408.22 L339.6,408.11 L340.1,408 L340.6,407.89 L341.1,407.78 L341.6,407.66 L342.1,407.54 L342.6,407.42 L343.1,407.29 L343.6,407.17 L344.1,407.04 L344.6,406.91 L345.1,406.77 L345.6,406.63 L346.1,406.49 L346.6,406.35 L347.1,406.21 L347.6,406.06 L348.1,405.91 L348.6,405.75 L349.1,405.6 L349.6,405.44 L350.1,405.28 L350.6,405.11 L351.1,404.94 L351.6,404.77 L352.1,404.6 L352.6,404.42 L353.1,404.24 L353.6,404.06 L354.1,403.87 L354.6,403.68 L355.1,403.49 L355.6,403.3 L356.1,403.1 L356.6,402.9 L357.1,402.69 L357.6,402.49 L358.1,402.28 L358.6,402.06 L359.1,401.84 L359.6,401.62 L360.1,401.4 L360.6,401.18 L361.1,400.95 L361.6,400.71 L362.1,400.48 L362.6,400.24 L363.1,400 L363.6,399.75 L364.1,399.5 L364.6,399.25 L365.1,399 L365.6,398.74 L366.1,398.48 L366.6,398.21 L367.1,397.95 L367.6,397.68 L368.1,397.4 L368.6,397.13 L369.1,396.85 L369.6,396.57 L370.1,396.28 L370.6,395.99 L371.1,395.7 L371.6,395.41 L372.1,395.11 L372.6,394.82 L373.1,394.51 L373.6,394.21 L374.1,393.9 L374.6,393.59 L375.1,393.28 L375.6,392.97 L376.1,392.65 L376.6,392.33 L377.1,392.01 L377.6,391.69 L378.1,391.36 L378.6,391.03 L379.1,390.7 L379.6,390.37 L380.1,390.04 L380.6,389.7 L381.1,389.36 L381.6,389.02 L382.1,388.68 L382.6,388.33 L383.1,387.99 L383.6,387.64 L384.1,387.29 L384.6,386.94 L385.1,386.58 L385.6,386.23 L386.1,385.87 L386.6,385.52 L387.1,385.16 L387.6,384.8 L388.1,384.44 L388.6,384.08 L389.1,383.72 L389.6,383.36 L390.1,383 L390.6,382.64 L391.1,382.27 L391.6,381.91 L392.1,381.55 L392.6,381.19 L393.1,380.83 L393.6,380.47 L394.1,380.11 L394.6,379.75 L395.1,379.4 L395.6,379.04 L396.1,378.69 L396.6,378.34 L397.1,377.99 L397.6,377.64 L398.1,377.29 L398.6,376.95 L399.1,376.6 L399.6,376.26 L400.1,375.93 L400.6,375.59 L401.1,375.26 L401.6,374.93 L402.1,374.6 L402.6,374.28 L403.1,373.96 L403.6,373.64 L404.1,373.33 L404.6,373.02 L405.1,372.71 L405.6,372.41 L406.1,372.11 L406.6,371.81 L407.1,371.52 L407.6,371.24 L408.1,370.95 L408.6,370.68 L409.1,370.4 L409.6,370.14 L410.1,369.87 L410.6,369.62 L411.1,369.36 L411.6,369.11 L412.1,368.87 L412.6,368.63 L413.1,368.4 L413.6,368.16 L414.1,367.94 L414.6,367.71 L415.1,367.49 L415.6,367.27 L416.1,367.06 L416.6,366.84 L417.1,366.63 L417.6,366.41 L418.1,366.2 L418.6,365.99 L419.1,365.77 L419.6,365.56 L420.1,365.34 L420.6,365.12 L421.1,364.88 L421.6,364.64 L422.1,364.38 L422.6,364.1 L423.1,363.8 L423.6,363.48 L424.1,363.14 L424.6,362.77 L425.1,362.36 L425.6,361.92 L426.1,361.44 L426.6,360.92 L427.1,360.35 L427.6,359.73 L428.1,359.05 L428.6,358.31 L429.1,357.51 L429.6,356.64 L430.1,355.69 L430.6,354.66 L431.1,353.56 L431.6,352.36 L432.1,351.08 L432.6,349.7 L433.1,348.22 L433.6,346.65 L434.1,344.97 L434.6,343.18 L435.1,341.3 L435.6,339.3 L436.1,337.2 L436.6,334.99 L437.1,332.69 L437.6,330.28 L438.1,327.78 L438.6,325.19 L439.1,322.52 L439.6,319.78 L440.1,316.96 L440.6,314.09 L441.1,311.17 L441.6,308.22 L442.1,305.25 L442.6,302.26 L443.1,299.28 L443.6,296.32 L444.1,293.4 L444.6,290.52 L445.1,287.71 L445.6,284.99 L446.1,282.37 L446.6,279.87 L447.1,277.52 L447.6,275.32 L448.1,273.29 L448.6,271.44 L449.1,269.8 L449.6,268.36 L450.1,267.15 L450.6,266.16 L451.1,265.42 L451.6,264.92 L452.1,264.68 L452.6,264.71 L453.1,265.01 L453.6,265.61 L454.1,266.56 L454.6,267.85 L455.1,269.47 L455.6,271.42 L456.1,273.69 L456.6,276.26 L457.1,279.11 L457.6,282.22 L458.1,285.56 L458.6,289.13 L459.1,292.88 L459.6,296.8 L460.1,300.86 L460.6,305.04 L461.1,309.31 L461.6,313.65 L462.1,318.03 L462.6,322.43 L463.1,326.85 L463.6,331.26 L464.1,335.64 L464.6,339.97 L465.1,344.24 L465.6,348.42 L466.1,352.51 L466.6,356.49 L467.1,360.37 L467.6,364.12 L468.1,367.75 L468.6,371.23 L469.1,374.58 L469.6,377.78 L470.1,380.82 L470.6,383.72 L471.1,386.45 L471.6,389.04 L472.1,391.46 L472.6,393.74 L473.1,395.86 L473.6,397.84 L474.1,399.67 L474.6,401.36 L475.1,402.92 L475.6,404.35 L476.1,405.68 L476.6,406.91 L477.1,408.03 L477.6,409.07 L478.1,410.02 L478.6,410.9 L479.1,411.7 L479.6,412.43 L480.1,413.1 L480.6,413.71 L481.1,414.27 L481.6,414.78 L482.1,415.24 L482.6,415.67 L483.1,416.06 L483.6,416.41 L484.1,416.74 L484.6,417.04 L485.1,417.31 L485.6,417.57 L486.1,417.8 L486.6,418.01 L487.1,418.21 L487.6,418.4 L488.1,418.57 L488.6,418.73 L489.1,418.88 L489.6,419.02 L490.1,419.16 L490.6,419.28 L491.1,419.4 L491.6,419.51 L492.1,419.62 L492.6,419.72 L493.1,419.82 L493.6,419.91 L494.1,420 L494.6,420.08 L495.1,420.17 L495.6,420.24 L496.1,420.32 L496.6,420.39 L497.1,420.46 L497.6,420.53 L498.1,420.6 L498.6,420.66 L499.1,420.72 L499.6,420.78 L500.1,420.84 L500.6,420.89 L501.1,420.94 L501.6,421 L502.1,421.05 L502.6,421.1 L503.1,421.14 L503.6,421.19 L504.1,421.23 L504.6,421.28 L505.1,421.32 L505.6,421.36 L506.1,421.4 L506.6,421.43 L507.1,421.47 L507.6,421.51 L508.1,421.54 L508.6,421.58 L509.1,421.61 L509.6,421.64 L510.1,421.67 L510.6,421.7 L511.1,421.73 L511.6,421.76 L512.1,421.79 L512.6,421.81 L513.1,421.84 L513.6,421.87 L514.1,421.89 L514.6,421.91 L515.1,421.94 L515.6,421.96 L516.1,421.98 L516.6,422 L517.1,422.02 L517.6,422.04 L518.1,422.06 L518.6,422.08 L519.1,422.1 L519.6,422.12 L520.1,422.14 L520.6,422.16 L521.1,422.17 L521.6,422.19 L522.1,422.21 L522.6,422.22 L523.1,422.24 L523.6,422.25 L524.1,422.27 L524.6,422.28 L525.1,422.29 L525.6,422.31 L526.1,422.32 L526.6,422.33 L527.1,422.35 L527.6,422.36 L528.1,422.37 L528.6,422.38 L529.1,422.4 L529.6,422.41 L530.1,422.42 L530.6,422.43 L531.1,422.44 L531.6,422.45 L532.1,422.46 L532.6,422.47 L533.1,422.48 L533.6,422.49 L534.1,422.5 L534.6,422.51 L535.1,422.52 L535.6,422.53 L536.1,422.54 L536.6,422.55 L537.1,422.56 L537.6,422.56 L538.1,422.57 L538.6,422.58" fill="none" stroke="#1fc2c9" stroke-width="1.6" stroke-linejoin="round"/>
<rect x="297.9" y="247.6" width="241.5" height="194.8" fill="none" stroke="#2b2b2b" stroke-width="1.3"/>
<text x="297.9" y="457" text-anchor="middle" font-size="9.7" font-weight="bold" fill="#111" color="#111">536</text>
<text x="346.2" y="457" text-anchor="middle" font-size="9.7" font-weight="bold" fill="#111" color="#111">534</text>
<text x="394.5" y="457" text-anchor="middle" font-size="9.7" font-weight="bold" fill="#111" color="#111">532</text>
<text x="442.8" y="457" text-anchor="middle" font-size="9.7" font-weight="bold" fill="#111" color="#111">530</text>
<text x="491.1" y="457" text-anchor="middle" font-size="9.7" font-weight="bold" fill="#111" color="#111">528</text>
<text x="539.4" y="457" text-anchor="middle" font-size="9.7" font-weight="bold" fill="#111" color="#111">526</text>
<line x1="297.9" y1="442.4" x2="297.9" y2="445.8" stroke="#2b2b2b" stroke-width="1.2"/><line x1="346.2" y1="442.4" x2="346.2" y2="445.8" stroke="#2b2b2b" stroke-width="1.2"/><line x1="394.5" y1="442.4" x2="394.5" y2="445.8" stroke="#2b2b2b" stroke-width="1.2"/><line x1="442.8" y1="442.4" x2="442.8" y2="445.8" stroke="#2b2b2b" stroke-width="1.2"/><line x1="491.1" y1="442.4" x2="491.1" y2="445.8" stroke="#2b2b2b" stroke-width="1.2"/><line x1="539.4" y1="442.4" x2="539.4" y2="445.8" stroke="#2b2b2b" stroke-width="1.2"/><line x1="322.05" y1="442.4" x2="322.05" y2="444.4" stroke="#2b2b2b" stroke-width="1.1"/><line x1="370.35" y1="442.4" x2="370.35" y2="444.4" stroke="#2b2b2b" stroke-width="1.1"/><line x1="418.65" y1="442.4" x2="418.65" y2="444.4" stroke="#2b2b2b" stroke-width="1.1"/><line x1="466.95" y1="442.4" x2="466.95" y2="444.4" stroke="#2b2b2b" stroke-width="1.1"/><line x1="515.25" y1="442.4" x2="515.25" y2="444.4" stroke="#2b2b2b" stroke-width="1.1"/>
<text x="418.4" y="470.8" text-anchor="middle" font-size="10" font-weight="bold" fill="#111" color="#111" >Bingding Energy (eV)</text>
<text transform="translate(289,341) rotate(-90)" text-anchor="middle" font-size="10" font-weight="bold" fill="#111" color="#111">Intensity (a.u.)</text>
<text x="301.3" y="261.8" text-anchor="start" font-size="11.5" font-weight="bold" fill="#111" color="#111" >d</text>
<text x="536.2" y="261.8" text-anchor="end" font-size="11.5" font-weight="bold" fill="#3f86e0" color="#3f86e0" >O1s</text>
<text x="385.2" y="276.2" text-anchor="start" font-size="11.8" font-weight="bold" fill="#111" color="#111" >Lattice O</text>
<text x="342.6" y="357.8" text-anchor="start" font-size="12" font-weight="bold" fill="#111" color="#111" >Adsorbed O</text>
<path d="M429.5,276.8 L449.5,289.2 M402.2,360 L413.2,375.8" stroke="#8a8a8a" stroke-width="0.8" fill="none"/>
</svg></body></html>
